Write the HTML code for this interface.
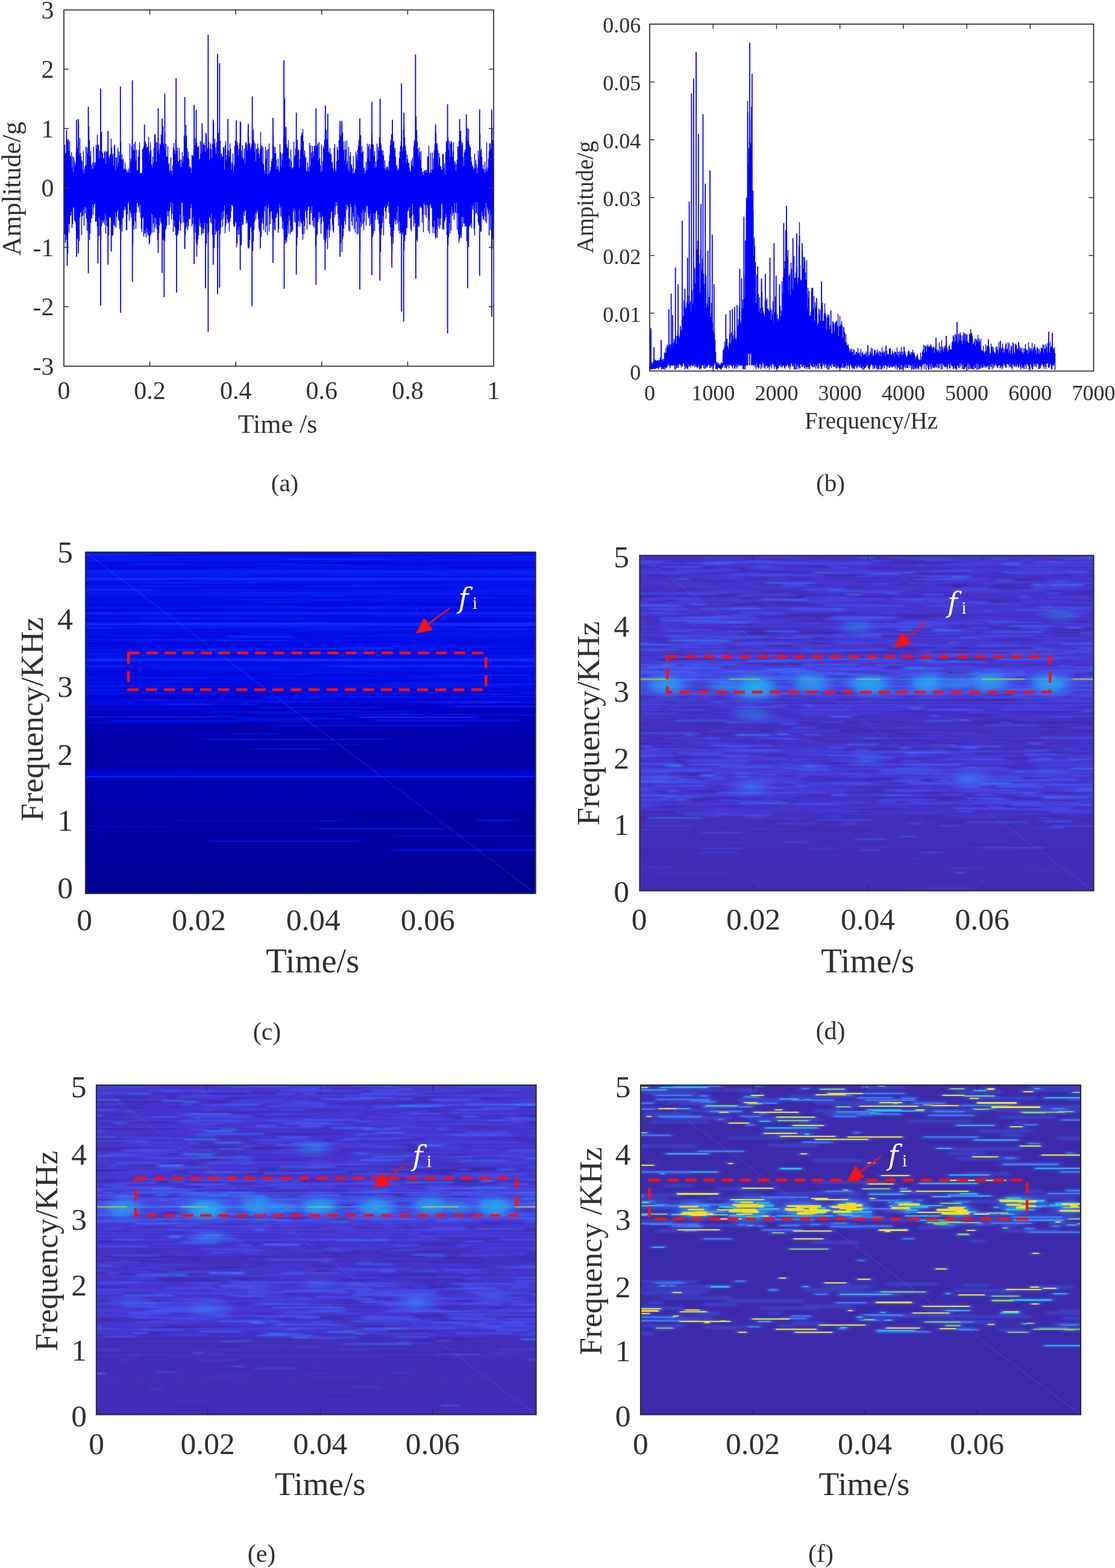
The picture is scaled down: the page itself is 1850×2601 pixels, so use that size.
<!DOCTYPE html>
<html><head><meta charset="utf-8"><title>Figure</title>
<style>html,body{margin:0;padding:0;background:#fff;}svg{display:block;}text{font-family:"Liberation Serif","Times New Roman",serif;}</style></head>
<body>
<svg width="1850" height="2601" viewBox="0 0 1850 2601" font-family="'Liberation Serif', 'Times New Roman', serif">
<defs>
<radialGradient id="bc"><stop offset="0" stop-color="#24b0f0" stop-opacity="1"/><stop offset="0.4" stop-color="#2c98f4" stop-opacity="0.9"/><stop offset="0.7" stop-color="#3a6cf0" stop-opacity="0.45"/><stop offset="1" stop-color="#4050e0" stop-opacity="0"/></radialGradient>
<radialGradient id="bb"><stop offset="0" stop-color="#3c7cf6" stop-opacity="0.9"/><stop offset="0.5" stop-color="#4466f0" stop-opacity="0.5"/><stop offset="1" stop-color="#4a50e8" stop-opacity="0"/></radialGradient>
<radialGradient id="by"><stop offset="0" stop-color="#fbe41a" stop-opacity="1"/><stop offset="0.45" stop-color="#f4d42a" stop-opacity="0.95"/><stop offset="0.7" stop-color="#30b8d8" stop-opacity="0.7"/><stop offset="1" stop-color="#3a70f0" stop-opacity="0"/></radialGradient>
<filter id="sb" x="-5%" y="-5%" width="110%" height="110%"><feGaussianBlur stdDeviation="3 0.9"/></filter>
<filter id="sb2" x="-5%" y="-5%" width="110%" height="110%"><feGaussianBlur stdDeviation="1.2 0.45"/></filter>
<filter id="bl6"><feGaussianBlur stdDeviation="6 3"/></filter>
<filter id="bc4" x="-5%" y="-5%" width="110%" height="110%"><feGaussianBlur stdDeviation="8 0.5"/></filter>
<linearGradient id="gc" x1="0" y1="0" x2="0" y2="1"><stop offset="0.0009" stop-color="#0411ed"/><stop offset="0.0027" stop-color="#030eeb"/><stop offset="0.0044" stop-color="#030de9"/><stop offset="0.0062" stop-color="#030de8"/><stop offset="0.0080" stop-color="#030fec"/><stop offset="0.0097" stop-color="#0512ee"/><stop offset="0.0115" stop-color="#0717f0"/><stop offset="0.0133" stop-color="#0614ef"/><stop offset="0.0150" stop-color="#0511ed"/><stop offset="0.0168" stop-color="#0717f1"/><stop offset="0.0186" stop-color="#0411ed"/><stop offset="0.0203" stop-color="#0716f0"/><stop offset="0.0221" stop-color="#0410ec"/><stop offset="0.0239" stop-color="#0717f1"/><stop offset="0.0256" stop-color="#0411ed"/><stop offset="0.0274" stop-color="#030eeb"/><stop offset="0.0292" stop-color="#030de7"/><stop offset="0.0309" stop-color="#020ce5"/><stop offset="0.0345" stop-color="#020be3"/><stop offset="0.0362" stop-color="#030dea"/><stop offset="0.0380" stop-color="#0410ec"/><stop offset="0.0398" stop-color="#030de7"/><stop offset="0.0415" stop-color="#020ae0"/><stop offset="0.0433" stop-color="#0109dd"/><stop offset="0.0451" stop-color="#030de8"/><stop offset="0.0468" stop-color="#0410ec"/><stop offset="0.0486" stop-color="#0411ed"/><stop offset="0.0504" stop-color="#0512ee"/><stop offset="0.0521" stop-color="#0615ef"/><stop offset="0.0539" stop-color="#091af3"/><stop offset="0.0574" stop-color="#0c21f7"/><stop offset="0.0592" stop-color="#0b1ff6"/><stop offset="0.0610" stop-color="#0d23f9"/><stop offset="0.0627" stop-color="#0716f0"/><stop offset="0.0663" stop-color="#0818f2"/><stop offset="0.0680" stop-color="#0a1df4"/><stop offset="0.0698" stop-color="#0614ef"/><stop offset="0.0716" stop-color="#030eea"/><stop offset="0.0733" stop-color="#0512ed"/><stop offset="0.0751" stop-color="#0d22f8"/><stop offset="0.0769" stop-color="#122dff"/><stop offset="0.0822" stop-color="#0d23f8"/><stop offset="0.0839" stop-color="#0511ed"/><stop offset="0.0857" stop-color="#0512ed"/><stop offset="0.0875" stop-color="#040fec"/><stop offset="0.0910" stop-color="#030dea"/><stop offset="0.0928" stop-color="#020ae1"/><stop offset="0.0945" stop-color="#020be2"/><stop offset="0.0963" stop-color="#030de9"/><stop offset="0.0981" stop-color="#0715f0"/><stop offset="0.0998" stop-color="#0615ef"/><stop offset="0.1016" stop-color="#0410ec"/><stop offset="0.1051" stop-color="#040fec"/><stop offset="0.1069" stop-color="#0716f0"/><stop offset="0.1087" stop-color="#0512ee"/><stop offset="0.1104" stop-color="#0715f0"/><stop offset="0.1122" stop-color="#0511ed"/><stop offset="0.1140" stop-color="#0614ef"/><stop offset="0.1157" stop-color="#0715f0"/><stop offset="0.1175" stop-color="#0717f1"/><stop offset="0.1193" stop-color="#0818f2"/><stop offset="0.1210" stop-color="#0818f1"/><stop offset="0.1228" stop-color="#091af3"/><stop offset="0.1246" stop-color="#0818f1"/><stop offset="0.1263" stop-color="#0716f0"/><stop offset="0.1281" stop-color="#0411ed"/><stop offset="0.1299" stop-color="#030eea"/><stop offset="0.1316" stop-color="#0512ee"/><stop offset="0.1352" stop-color="#0411ed"/><stop offset="0.1369" stop-color="#030ce7"/><stop offset="0.1387" stop-color="#030de9"/><stop offset="0.1405" stop-color="#030eea"/><stop offset="0.1440" stop-color="#030de8"/><stop offset="0.1458" stop-color="#030de9"/><stop offset="0.1475" stop-color="#030eea"/><stop offset="0.1493" stop-color="#0410ec"/><stop offset="0.1511" stop-color="#030ce7"/><stop offset="0.1528" stop-color="#020be3"/><stop offset="0.1546" stop-color="#0107d9"/><stop offset="0.1564" stop-color="#020ae1"/><stop offset="0.1581" stop-color="#030de7"/><stop offset="0.1599" stop-color="#0717f1"/><stop offset="0.1617" stop-color="#0615ef"/><stop offset="0.1652" stop-color="#0410ec"/><stop offset="0.1670" stop-color="#040fec"/><stop offset="0.1687" stop-color="#020be4"/><stop offset="0.1705" stop-color="#020be2"/><stop offset="0.1723" stop-color="#020ae2"/><stop offset="0.1740" stop-color="#030eeb"/><stop offset="0.1758" stop-color="#091af3"/><stop offset="0.1776" stop-color="#0b1ff6"/><stop offset="0.1793" stop-color="#0c21f7"/><stop offset="0.1811" stop-color="#0a1df4"/><stop offset="0.1829" stop-color="#0819f2"/><stop offset="0.1846" stop-color="#030eea"/><stop offset="0.1864" stop-color="#020be3"/><stop offset="0.1882" stop-color="#020adf"/><stop offset="0.1899" stop-color="#020be2"/><stop offset="0.1917" stop-color="#020be3"/><stop offset="0.1935" stop-color="#030ce7"/><stop offset="0.1952" stop-color="#030de7"/><stop offset="0.1970" stop-color="#030de9"/><stop offset="0.1988" stop-color="#030ce7"/><stop offset="0.2005" stop-color="#030eea"/><stop offset="0.2023" stop-color="#020ce5"/><stop offset="0.2041" stop-color="#0511ed"/><stop offset="0.2058" stop-color="#0b1ef6"/><stop offset="0.2076" stop-color="#122dff"/><stop offset="0.2147" stop-color="#112bfe"/><stop offset="0.2164" stop-color="#091af3"/><stop offset="0.2182" stop-color="#0614ef"/><stop offset="0.2200" stop-color="#030eeb"/><stop offset="0.2235" stop-color="#0410ec"/><stop offset="0.2253" stop-color="#030dea"/><stop offset="0.2270" stop-color="#030de7"/><stop offset="0.2288" stop-color="#030de8"/><stop offset="0.2306" stop-color="#030eeb"/><stop offset="0.2341" stop-color="#030de9"/><stop offset="0.2359" stop-color="#030de8"/><stop offset="0.2376" stop-color="#020ce4"/><stop offset="0.2394" stop-color="#020ae1"/><stop offset="0.2412" stop-color="#020ce4"/><stop offset="0.2429" stop-color="#020ce5"/><stop offset="0.2447" stop-color="#030eea"/><stop offset="0.2465" stop-color="#020be2"/><stop offset="0.2482" stop-color="#020ce5"/><stop offset="0.2500" stop-color="#020ae1"/><stop offset="0.2518" stop-color="#0512ee"/><stop offset="0.2535" stop-color="#030eeb"/><stop offset="0.2571" stop-color="#020ce5"/><stop offset="0.2588" stop-color="#030eeb"/><stop offset="0.2606" stop-color="#030de8"/><stop offset="0.2624" stop-color="#020ce6"/><stop offset="0.2641" stop-color="#020ce5"/><stop offset="0.2659" stop-color="#030de7"/><stop offset="0.2677" stop-color="#030de9"/><stop offset="0.2694" stop-color="#020ce4"/><stop offset="0.2712" stop-color="#020ce5"/><stop offset="0.2730" stop-color="#020be2"/><stop offset="0.2765" stop-color="#020ae1"/><stop offset="0.2783" stop-color="#030de9"/><stop offset="0.2818" stop-color="#030eeb"/><stop offset="0.2836" stop-color="#020ce6"/><stop offset="0.2853" stop-color="#030de7"/><stop offset="0.2871" stop-color="#0411ed"/><stop offset="0.2889" stop-color="#030eea"/><stop offset="0.2906" stop-color="#030feb"/><stop offset="0.2924" stop-color="#030de8"/><stop offset="0.2942" stop-color="#030de9"/><stop offset="0.2959" stop-color="#030de7"/><stop offset="0.2977" stop-color="#030ce7"/><stop offset="0.2995" stop-color="#030eeb"/><stop offset="0.3012" stop-color="#030eea"/><stop offset="0.3030" stop-color="#030de8"/><stop offset="0.3048" stop-color="#020be2"/><stop offset="0.3065" stop-color="#020ce6"/><stop offset="0.3083" stop-color="#030eea"/><stop offset="0.3101" stop-color="#0716f0"/><stop offset="0.3118" stop-color="#091bf4"/><stop offset="0.3136" stop-color="#112cfe"/><stop offset="0.3154" stop-color="#122dff"/><stop offset="0.3189" stop-color="#122cff"/><stop offset="0.3207" stop-color="#0615ef"/><stop offset="0.3224" stop-color="#030de8"/><stop offset="0.3242" stop-color="#020be4"/><stop offset="0.3260" stop-color="#020ce4"/><stop offset="0.3277" stop-color="#020ce5"/><stop offset="0.3295" stop-color="#0410ec"/><stop offset="0.3313" stop-color="#091af2"/><stop offset="0.3330" stop-color="#0d23f8"/><stop offset="0.3348" stop-color="#0c20f7"/><stop offset="0.3366" stop-color="#0b1ef5"/><stop offset="0.3383" stop-color="#0513ee"/><stop offset="0.3401" stop-color="#030de8"/><stop offset="0.3419" stop-color="#030eea"/><stop offset="0.3436" stop-color="#040fec"/><stop offset="0.3454" stop-color="#030eea"/><stop offset="0.3472" stop-color="#030de8"/><stop offset="0.3489" stop-color="#020ce5"/><stop offset="0.3525" stop-color="#020be4"/><stop offset="0.3542" stop-color="#020ae1"/><stop offset="0.3560" stop-color="#0209df"/><stop offset="0.3578" stop-color="#020ae1"/><stop offset="0.3595" stop-color="#0209de"/><stop offset="0.3613" stop-color="#020ce5"/><stop offset="0.3631" stop-color="#0209de"/><stop offset="0.3648" stop-color="#020ce6"/><stop offset="0.3666" stop-color="#030de8"/><stop offset="0.3684" stop-color="#0512ee"/><stop offset="0.3701" stop-color="#030eea"/><stop offset="0.3719" stop-color="#030de9"/><stop offset="0.3737" stop-color="#020ce6"/><stop offset="0.3772" stop-color="#020be3"/><stop offset="0.3790" stop-color="#020ce5"/><stop offset="0.3807" stop-color="#020ce4"/><stop offset="0.3825" stop-color="#020ce5"/><stop offset="0.3843" stop-color="#0209de"/><stop offset="0.3860" stop-color="#020ae0"/><stop offset="0.3878" stop-color="#020ae1"/><stop offset="0.3896" stop-color="#030eeb"/><stop offset="0.3913" stop-color="#0410ec"/><stop offset="0.3931" stop-color="#030eeb"/><stop offset="0.3949" stop-color="#030de8"/><stop offset="0.3966" stop-color="#020be2"/><stop offset="0.3984" stop-color="#020be3"/><stop offset="0.4002" stop-color="#0109dd"/><stop offset="0.4055" stop-color="#0209df"/><stop offset="0.4072" stop-color="#020be4"/><stop offset="0.4090" stop-color="#0108dc"/><stop offset="0.4125" stop-color="#0106d6"/><stop offset="0.4143" stop-color="#0107d9"/><stop offset="0.4161" stop-color="#0005d2"/><stop offset="0.4178" stop-color="#0106d6"/><stop offset="0.4196" stop-color="#0106d7"/><stop offset="0.4214" stop-color="#0107d9"/><stop offset="0.4231" stop-color="#0004d1"/><stop offset="0.4249" stop-color="#0004cd"/><stop offset="0.4267" stop-color="#0005d3"/><stop offset="0.4284" stop-color="#0107d7"/><stop offset="0.4302" stop-color="#0107d9"/><stop offset="0.4320" stop-color="#0107d7"/><stop offset="0.4337" stop-color="#0107d9"/><stop offset="0.4355" stop-color="#0109dd"/><stop offset="0.4373" stop-color="#020adf"/><stop offset="0.4390" stop-color="#020ae1"/><stop offset="0.4408" stop-color="#020be2"/><stop offset="0.4426" stop-color="#0108da"/><stop offset="0.4443" stop-color="#0106d6"/><stop offset="0.4461" stop-color="#0004ce"/><stop offset="0.4496" stop-color="#0003cb"/><stop offset="0.4514" stop-color="#0003c8"/><stop offset="0.4532" stop-color="#0003c5"/><stop offset="0.4549" stop-color="#0003c7"/><stop offset="0.4567" stop-color="#0003c6"/><stop offset="0.4585" stop-color="#0003c3"/><stop offset="0.4602" stop-color="#0002c1"/><stop offset="0.4620" stop-color="#0003c4"/><stop offset="0.4638" stop-color="#0003c6"/><stop offset="0.4655" stop-color="#0003c4"/><stop offset="0.4673" stop-color="#0002be"/><stop offset="0.4691" stop-color="#0002bd"/><stop offset="0.4708" stop-color="#0002bf"/><stop offset="0.4726" stop-color="#0003c3"/><stop offset="0.4761" stop-color="#0002be"/><stop offset="0.4779" stop-color="#0001b6"/><stop offset="0.4814" stop-color="#0001b7"/><stop offset="0.4832" stop-color="#0002bf"/><stop offset="0.4850" stop-color="#0003c3"/><stop offset="0.4885" stop-color="#0002c2"/><stop offset="0.4903" stop-color="#0001b8"/><stop offset="0.4920" stop-color="#0002ba"/><stop offset="0.4956" stop-color="#0002c0"/><stop offset="0.4973" stop-color="#0002be"/><stop offset="0.4991" stop-color="#0002bd"/><stop offset="0.5027" stop-color="#0001b8"/><stop offset="0.5062" stop-color="#0001b7"/><stop offset="0.5080" stop-color="#0001b6"/><stop offset="0.5097" stop-color="#0000b0"/><stop offset="0.5115" stop-color="#0000ae"/><stop offset="0.5133" stop-color="#0000b0"/><stop offset="0.5150" stop-color="#0001b5"/><stop offset="0.5186" stop-color="#0001b2"/><stop offset="0.5203" stop-color="#0001b1"/><stop offset="0.5221" stop-color="#0001b2"/><stop offset="0.5256" stop-color="#0000b0"/><stop offset="0.5274" stop-color="#0000aa"/><stop offset="0.5292" stop-color="#0000ac"/><stop offset="0.5309" stop-color="#0001b2"/><stop offset="0.5327" stop-color="#0001b1"/><stop offset="0.5345" stop-color="#0000b0"/><stop offset="0.5362" stop-color="#0000ad"/><stop offset="0.5380" stop-color="#0000af"/><stop offset="0.5398" stop-color="#0000ab"/><stop offset="0.5415" stop-color="#0000a7"/><stop offset="0.5468" stop-color="#0000aa"/><stop offset="0.5486" stop-color="#0000ac"/><stop offset="0.5504" stop-color="#0000ad"/><stop offset="0.5521" stop-color="#0000ac"/><stop offset="0.5539" stop-color="#0000a9"/><stop offset="0.5557" stop-color="#0000ab"/><stop offset="0.5574" stop-color="#0000ad"/><stop offset="0.5592" stop-color="#0000ae"/><stop offset="0.5610" stop-color="#0000af"/><stop offset="0.5627" stop-color="#0000ad"/><stop offset="0.5645" stop-color="#0000af"/><stop offset="0.5663" stop-color="#0000b0"/><stop offset="0.5680" stop-color="#0000a9"/><stop offset="0.5698" stop-color="#0000a5"/><stop offset="0.5716" stop-color="#0000a3"/><stop offset="0.5733" stop-color="#0000a7"/><stop offset="0.5751" stop-color="#0000a8"/><stop offset="0.5769" stop-color="#0000aa"/><stop offset="0.5786" stop-color="#0000ab"/><stop offset="0.5822" stop-color="#0000a6"/><stop offset="0.5839" stop-color="#0000a7"/><stop offset="0.5857" stop-color="#0000ad"/><stop offset="0.5875" stop-color="#0000aa"/><stop offset="0.5892" stop-color="#0000a9"/><stop offset="0.5910" stop-color="#0000a5"/><stop offset="0.5963" stop-color="#0000a2"/><stop offset="0.5981" stop-color="#0000a4"/><stop offset="0.5998" stop-color="#0000a8"/><stop offset="0.6016" stop-color="#0000ac"/><stop offset="0.6034" stop-color="#0000b0"/><stop offset="0.6051" stop-color="#0000ad"/><stop offset="0.6069" stop-color="#0000ac"/><stop offset="0.6087" stop-color="#0000ad"/><stop offset="0.6104" stop-color="#0000a9"/><stop offset="0.6122" stop-color="#0000a8"/><stop offset="0.6140" stop-color="#0000a7"/><stop offset="0.6157" stop-color="#0000a8"/><stop offset="0.6193" stop-color="#0000a9"/><stop offset="0.6210" stop-color="#0000ae"/><stop offset="0.6246" stop-color="#0000aa"/><stop offset="0.6263" stop-color="#0000a8"/><stop offset="0.6281" stop-color="#0000ab"/><stop offset="0.6299" stop-color="#0000ac"/><stop offset="0.6316" stop-color="#0000ae"/><stop offset="0.6334" stop-color="#0001b1"/><stop offset="0.6352" stop-color="#0001b7"/><stop offset="0.6369" stop-color="#0002c2"/><stop offset="0.6387" stop-color="#0003ca"/><stop offset="0.6405" stop-color="#0004d1"/><stop offset="0.6422" stop-color="#0004cf"/><stop offset="0.6440" stop-color="#0106d6"/><stop offset="0.6458" stop-color="#0107d8"/><stop offset="0.6475" stop-color="#0004d1"/><stop offset="0.6493" stop-color="#0003c6"/><stop offset="0.6511" stop-color="#0002c1"/><stop offset="0.6528" stop-color="#0003c6"/><stop offset="0.6546" stop-color="#0107d8"/><stop offset="0.6564" stop-color="#0818f1"/><stop offset="0.6581" stop-color="#0d22f8"/><stop offset="0.6599" stop-color="#020be4"/><stop offset="0.6617" stop-color="#0003c8"/><stop offset="0.6634" stop-color="#0001b4"/><stop offset="0.6652" stop-color="#0001b3"/><stop offset="0.6670" stop-color="#0000af"/><stop offset="0.6687" stop-color="#0001b5"/><stop offset="0.6705" stop-color="#0000ac"/><stop offset="0.6723" stop-color="#0000b0"/><stop offset="0.6740" stop-color="#0000ab"/><stop offset="0.6758" stop-color="#0000af"/><stop offset="0.6776" stop-color="#0000ac"/><stop offset="0.6793" stop-color="#0000af"/><stop offset="0.6811" stop-color="#0000b0"/><stop offset="0.6829" stop-color="#0000a9"/><stop offset="0.6864" stop-color="#0000ab"/><stop offset="0.6882" stop-color="#0001b2"/><stop offset="0.6899" stop-color="#0001b3"/><stop offset="0.6935" stop-color="#0001b2"/><stop offset="0.6952" stop-color="#0001b1"/><stop offset="0.6970" stop-color="#0000ae"/><stop offset="0.6988" stop-color="#0001b2"/><stop offset="0.7023" stop-color="#0001b7"/><stop offset="0.7041" stop-color="#0001b2"/><stop offset="0.7058" stop-color="#0001b9"/><stop offset="0.7076" stop-color="#0001b3"/><stop offset="0.7094" stop-color="#0001b4"/><stop offset="0.7111" stop-color="#0001b1"/><stop offset="0.7129" stop-color="#0001b2"/><stop offset="0.7147" stop-color="#0001b1"/><stop offset="0.7164" stop-color="#0000ae"/><stop offset="0.7200" stop-color="#0000ac"/><stop offset="0.7217" stop-color="#0000b0"/><stop offset="0.7253" stop-color="#0000ac"/><stop offset="0.7270" stop-color="#0000a9"/><stop offset="0.7306" stop-color="#0000aa"/><stop offset="0.7323" stop-color="#0000ad"/><stop offset="0.7341" stop-color="#0000ae"/><stop offset="0.7359" stop-color="#0001b2"/><stop offset="0.7376" stop-color="#0000ac"/><stop offset="0.7394" stop-color="#0000aa"/><stop offset="0.7429" stop-color="#0000a8"/><stop offset="0.7447" stop-color="#0000a9"/><stop offset="0.7465" stop-color="#0000a7"/><stop offset="0.7482" stop-color="#0000a9"/><stop offset="0.7500" stop-color="#0000a8"/><stop offset="0.7518" stop-color="#0000a5"/><stop offset="0.7535" stop-color="#0000a6"/><stop offset="0.7553" stop-color="#0000a3"/><stop offset="0.7571" stop-color="#0000a2"/><stop offset="0.7588" stop-color="#0000a4"/><stop offset="0.7606" stop-color="#0000a5"/><stop offset="0.7624" stop-color="#0000a3"/><stop offset="0.7641" stop-color="#0000a2"/><stop offset="0.7677" stop-color="#00009f"/><stop offset="0.7694" stop-color="#00009d"/><stop offset="0.7712" stop-color="#0000a0"/><stop offset="0.7730" stop-color="#0000a8"/><stop offset="0.7747" stop-color="#0000ab"/><stop offset="0.7765" stop-color="#0000a9"/><stop offset="0.7800" stop-color="#0000a4"/><stop offset="0.7836" stop-color="#0000a6"/><stop offset="0.7853" stop-color="#0000a9"/><stop offset="0.7889" stop-color="#0000a2"/><stop offset="0.7906" stop-color="#0000a0"/><stop offset="0.7924" stop-color="#00009d"/><stop offset="0.7942" stop-color="#0000a2"/><stop offset="0.7959" stop-color="#0000a1"/><stop offset="0.7977" stop-color="#0000a5"/><stop offset="0.7995" stop-color="#0000a1"/><stop offset="0.8012" stop-color="#0000a6"/><stop offset="0.8030" stop-color="#0000a3"/><stop offset="0.8048" stop-color="#0000a5"/><stop offset="0.8065" stop-color="#0000a6"/><stop offset="0.8083" stop-color="#0000a9"/><stop offset="0.8101" stop-color="#0000a7"/><stop offset="0.8118" stop-color="#0000a3"/><stop offset="0.8136" stop-color="#0000a4"/><stop offset="0.8154" stop-color="#0000a7"/><stop offset="0.8171" stop-color="#0000a2"/><stop offset="0.8189" stop-color="#0000a1"/><stop offset="0.8207" stop-color="#00009b"/><stop offset="0.8224" stop-color="#0000a2"/><stop offset="0.8260" stop-color="#0000a5"/><stop offset="0.8277" stop-color="#0000a2"/><stop offset="0.8295" stop-color="#0000a3"/><stop offset="0.8313" stop-color="#0000a1"/><stop offset="0.8330" stop-color="#0000a3"/><stop offset="0.8348" stop-color="#0000a2"/><stop offset="0.8366" stop-color="#0000a0"/><stop offset="0.8401" stop-color="#0000a3"/><stop offset="0.8419" stop-color="#0000a9"/><stop offset="0.8436" stop-color="#0000a7"/><stop offset="0.8454" stop-color="#0000a2"/><stop offset="0.8489" stop-color="#0000a4"/><stop offset="0.8507" stop-color="#0000a7"/><stop offset="0.8525" stop-color="#0000a8"/><stop offset="0.8542" stop-color="#0000a3"/><stop offset="0.8578" stop-color="#0000a2"/><stop offset="0.8595" stop-color="#0000a0"/><stop offset="0.8613" stop-color="#00009b"/><stop offset="0.8631" stop-color="#000097"/><stop offset="0.8648" stop-color="#00009a"/><stop offset="0.8666" stop-color="#00009e"/><stop offset="0.8684" stop-color="#00009f"/><stop offset="0.8701" stop-color="#00009e"/><stop offset="0.8719" stop-color="#00009d"/><stop offset="0.8754" stop-color="#00009e"/><stop offset="0.8772" stop-color="#00009f"/><stop offset="0.8807" stop-color="#00009e"/><stop offset="0.8825" stop-color="#00009c"/><stop offset="0.8843" stop-color="#00009d"/><stop offset="0.8860" stop-color="#00009c"/><stop offset="0.8878" stop-color="#0000a0"/><stop offset="0.8896" stop-color="#00009e"/><stop offset="0.8913" stop-color="#00009f"/><stop offset="0.8931" stop-color="#00009a"/><stop offset="0.8949" stop-color="#000099"/><stop offset="0.8984" stop-color="#00009a"/><stop offset="0.9002" stop-color="#000099"/><stop offset="0.9019" stop-color="#000097"/><stop offset="0.9037" stop-color="#000096"/><stop offset="0.9055" stop-color="#000098"/><stop offset="0.9072" stop-color="#00009b"/><stop offset="0.9090" stop-color="#00009d"/><stop offset="0.9108" stop-color="#00009c"/><stop offset="0.9125" stop-color="#000097"/><stop offset="0.9143" stop-color="#000094"/><stop offset="0.9161" stop-color="#000092"/><stop offset="0.9178" stop-color="#000093"/><stop offset="0.9196" stop-color="#000094"/><stop offset="0.9214" stop-color="#000098"/><stop offset="0.9231" stop-color="#000099"/><stop offset="0.9249" stop-color="#000096"/><stop offset="0.9267" stop-color="#000095"/><stop offset="0.9284" stop-color="#000093"/><stop offset="0.9302" stop-color="#000094"/><stop offset="0.9337" stop-color="#00009b"/><stop offset="0.9355" stop-color="#000097"/><stop offset="0.9373" stop-color="#00009a"/><stop offset="0.9390" stop-color="#000095"/><stop offset="0.9408" stop-color="#000099"/><stop offset="0.9426" stop-color="#000095"/><stop offset="0.9443" stop-color="#000097"/><stop offset="0.9461" stop-color="#000094"/><stop offset="0.9496" stop-color="#000093"/><stop offset="0.9514" stop-color="#000094"/><stop offset="0.9532" stop-color="#000096"/><stop offset="0.9549" stop-color="#00009a"/><stop offset="0.9585" stop-color="#000094"/><stop offset="0.9602" stop-color="#000092"/><stop offset="0.9620" stop-color="#00008e"/><stop offset="0.9638" stop-color="#000091"/><stop offset="0.9655" stop-color="#000092"/><stop offset="0.9673" stop-color="#000093"/><stop offset="0.9691" stop-color="#000092"/><stop offset="0.9708" stop-color="#000091"/><stop offset="0.9726" stop-color="#000092"/><stop offset="0.9744" stop-color="#000096"/><stop offset="0.9779" stop-color="#000098"/><stop offset="0.9814" stop-color="#000096"/><stop offset="0.9832" stop-color="#000095"/><stop offset="0.9850" stop-color="#000091"/><stop offset="0.9867" stop-color="#000092"/><stop offset="0.9885" stop-color="#000093"/><stop offset="0.9903" stop-color="#000097"/><stop offset="0.9920" stop-color="#000096"/><stop offset="0.9938" stop-color="#000093"/><stop offset="0.9956" stop-color="#000091"/><stop offset="0.9973" stop-color="#00008f"/><stop offset="0.9991" stop-color="#00008e"/></linearGradient>
<clipPath id="cc"><rect x="142" y="916" width="746.5" height="566"/></clipPath>
<linearGradient id="gd" x1="0" y1="0" x2="0" y2="1"><stop offset="0.0009" stop-color="#4432c6"/><stop offset="0.0027" stop-color="#4536cf"/><stop offset="0.0045" stop-color="#463ad6"/><stop offset="0.0063" stop-color="#4534cb"/><stop offset="0.0117" stop-color="#4432c6"/><stop offset="0.0135" stop-color="#4433c9"/><stop offset="0.0153" stop-color="#4534ca"/><stop offset="0.0171" stop-color="#4535cd"/><stop offset="0.0189" stop-color="#4433c7"/><stop offset="0.0207" stop-color="#4536cf"/><stop offset="0.0225" stop-color="#4433c9"/><stop offset="0.0279" stop-color="#4432c6"/><stop offset="0.0297" stop-color="#4535ce"/><stop offset="0.0315" stop-color="#4433c9"/><stop offset="0.0333" stop-color="#4433c7"/><stop offset="0.0351" stop-color="#4433c9"/><stop offset="0.0369" stop-color="#4432c6"/><stop offset="0.0387" stop-color="#4639d5"/><stop offset="0.0405" stop-color="#4535cc"/><stop offset="0.0423" stop-color="#4432c7"/><stop offset="0.0441" stop-color="#463ad6"/><stop offset="0.0459" stop-color="#463bd7"/><stop offset="0.0477" stop-color="#4535cd"/><stop offset="0.0495" stop-color="#4636d0"/><stop offset="0.0513" stop-color="#463ad6"/><stop offset="0.0531" stop-color="#4536ce"/><stop offset="0.0549" stop-color="#4534cb"/><stop offset="0.0567" stop-color="#4433c9"/><stop offset="0.0585" stop-color="#4534cb"/><stop offset="0.0603" stop-color="#4432c7"/><stop offset="0.0621" stop-color="#4534cc"/><stop offset="0.0638" stop-color="#4432c7"/><stop offset="0.0656" stop-color="#4432c6"/><stop offset="0.0674" stop-color="#4536cf"/><stop offset="0.0692" stop-color="#4434ca"/><stop offset="0.0710" stop-color="#4534cb"/><stop offset="0.0728" stop-color="#4433c7"/><stop offset="0.0746" stop-color="#4433c8"/><stop offset="0.0764" stop-color="#4535cd"/><stop offset="0.0782" stop-color="#4332c5"/><stop offset="0.0800" stop-color="#4637d1"/><stop offset="0.0818" stop-color="#4535ce"/><stop offset="0.0836" stop-color="#4639d5"/><stop offset="0.0854" stop-color="#4536cf"/><stop offset="0.0872" stop-color="#4433c8"/><stop offset="0.0890" stop-color="#4332c5"/><stop offset="0.0908" stop-color="#4433c8"/><stop offset="0.0926" stop-color="#4638d3"/><stop offset="0.0944" stop-color="#4535cd"/><stop offset="0.0962" stop-color="#4534ca"/><stop offset="0.0980" stop-color="#4535cd"/><stop offset="0.0998" stop-color="#4432c5"/><stop offset="0.1016" stop-color="#4433c8"/><stop offset="0.1034" stop-color="#4534cc"/><stop offset="0.1052" stop-color="#4534cb"/><stop offset="0.1070" stop-color="#4535cd"/><stop offset="0.1088" stop-color="#4331c3"/><stop offset="0.1106" stop-color="#4432c7"/><stop offset="0.1124" stop-color="#4432c5"/><stop offset="0.1142" stop-color="#4432c6"/><stop offset="0.1160" stop-color="#4432c5"/><stop offset="0.1178" stop-color="#4432c7"/><stop offset="0.1196" stop-color="#4332c5"/><stop offset="0.1214" stop-color="#4432c6"/><stop offset="0.1250" stop-color="#4331c3"/><stop offset="0.1268" stop-color="#4433c7"/><stop offset="0.1286" stop-color="#4636cf"/><stop offset="0.1304" stop-color="#4432c6"/><stop offset="0.1340" stop-color="#4637d1"/><stop offset="0.1358" stop-color="#463cd8"/><stop offset="0.1376" stop-color="#4331c4"/><stop offset="0.1394" stop-color="#4433c8"/><stop offset="0.1412" stop-color="#4535cd"/><stop offset="0.1430" stop-color="#4432c5"/><stop offset="0.1448" stop-color="#4534cb"/><stop offset="0.1466" stop-color="#4332c5"/><stop offset="0.1484" stop-color="#4331c3"/><stop offset="0.1502" stop-color="#4433c8"/><stop offset="0.1520" stop-color="#4637d1"/><stop offset="0.1538" stop-color="#4432c5"/><stop offset="0.1556" stop-color="#4637d1"/><stop offset="0.1574" stop-color="#4536cf"/><stop offset="0.1592" stop-color="#4534cb"/><stop offset="0.1610" stop-color="#4636d0"/><stop offset="0.1628" stop-color="#473fdc"/><stop offset="0.1646" stop-color="#4332c5"/><stop offset="0.1664" stop-color="#4639d4"/><stop offset="0.1682" stop-color="#4331c4"/><stop offset="0.1700" stop-color="#4639d4"/><stop offset="0.1718" stop-color="#4637d2"/><stop offset="0.1736" stop-color="#4432c5"/><stop offset="0.1754" stop-color="#4432c6"/><stop offset="0.1772" stop-color="#4332c5"/><stop offset="0.1790" stop-color="#4331c4"/><stop offset="0.1808" stop-color="#4434ca"/><stop offset="0.1826" stop-color="#4432c5"/><stop offset="0.1844" stop-color="#4433c8"/><stop offset="0.1862" stop-color="#4331c4"/><stop offset="0.1879" stop-color="#4432c5"/><stop offset="0.1897" stop-color="#4536cf"/><stop offset="0.1915" stop-color="#4636d1"/><stop offset="0.1933" stop-color="#4433c8"/><stop offset="0.1951" stop-color="#4534cb"/><stop offset="0.1969" stop-color="#4636d0"/><stop offset="0.1987" stop-color="#4331c4"/><stop offset="0.2005" stop-color="#4637d2"/><stop offset="0.2023" stop-color="#463bd7"/><stop offset="0.2041" stop-color="#4638d4"/><stop offset="0.2059" stop-color="#4432c6"/><stop offset="0.2077" stop-color="#4637d2"/><stop offset="0.2095" stop-color="#4331c4"/><stop offset="0.2113" stop-color="#4742df"/><stop offset="0.2131" stop-color="#4637d1"/><stop offset="0.2149" stop-color="#4536cf"/><stop offset="0.2167" stop-color="#4331c3"/><stop offset="0.2185" stop-color="#4332c5"/><stop offset="0.2203" stop-color="#4534cc"/><stop offset="0.2221" stop-color="#4433c8"/><stop offset="0.2239" stop-color="#4331c4"/><stop offset="0.2257" stop-color="#4535cd"/><stop offset="0.2275" stop-color="#4534cc"/><stop offset="0.2293" stop-color="#4534ca"/><stop offset="0.2311" stop-color="#4432c7"/><stop offset="0.2329" stop-color="#4331c3"/><stop offset="0.2347" stop-color="#4637d2"/><stop offset="0.2365" stop-color="#4740de"/><stop offset="0.2383" stop-color="#4433c8"/><stop offset="0.2401" stop-color="#4331c4"/><stop offset="0.2419" stop-color="#4331c3"/><stop offset="0.2437" stop-color="#4535cc"/><stop offset="0.2455" stop-color="#4637d2"/><stop offset="0.2473" stop-color="#4639d4"/><stop offset="0.2491" stop-color="#4637d2"/><stop offset="0.2509" stop-color="#4534ca"/><stop offset="0.2527" stop-color="#4434ca"/><stop offset="0.2545" stop-color="#4536cf"/><stop offset="0.2563" stop-color="#4535ce"/><stop offset="0.2581" stop-color="#4637d2"/><stop offset="0.2599" stop-color="#4637d3"/><stop offset="0.2617" stop-color="#4433c9"/><stop offset="0.2635" stop-color="#4331c4"/><stop offset="0.2671" stop-color="#463dd9"/><stop offset="0.2689" stop-color="#463bd7"/><stop offset="0.2707" stop-color="#4331c4"/><stop offset="0.2725" stop-color="#4637d1"/><stop offset="0.2743" stop-color="#4639d5"/><stop offset="0.2761" stop-color="#4331c3"/><stop offset="0.2779" stop-color="#4638d3"/><stop offset="0.2797" stop-color="#4637d2"/><stop offset="0.2815" stop-color="#4744e2"/><stop offset="0.2833" stop-color="#4742e0"/><stop offset="0.2851" stop-color="#484ff0"/><stop offset="0.2869" stop-color="#4638d4"/><stop offset="0.2887" stop-color="#4433c8"/><stop offset="0.2905" stop-color="#4535ce"/><stop offset="0.2923" stop-color="#4637d1"/><stop offset="0.2941" stop-color="#4637d2"/><stop offset="0.2959" stop-color="#4535cd"/><stop offset="0.2977" stop-color="#4433c8"/><stop offset="0.2995" stop-color="#463ad6"/><stop offset="0.3013" stop-color="#463eda"/><stop offset="0.3031" stop-color="#4637d2"/><stop offset="0.3049" stop-color="#4535ce"/><stop offset="0.3067" stop-color="#4534cb"/><stop offset="0.3085" stop-color="#4433c9"/><stop offset="0.3103" stop-color="#473edb"/><stop offset="0.3121" stop-color="#463bd8"/><stop offset="0.3138" stop-color="#4637d2"/><stop offset="0.3156" stop-color="#4636d0"/><stop offset="0.3192" stop-color="#4638d4"/><stop offset="0.3210" stop-color="#4639d5"/><stop offset="0.3228" stop-color="#4535ce"/><stop offset="0.3246" stop-color="#4638d3"/><stop offset="0.3264" stop-color="#463ad6"/><stop offset="0.3282" stop-color="#463cd9"/><stop offset="0.3300" stop-color="#463ad6"/><stop offset="0.3318" stop-color="#4637d2"/><stop offset="0.3336" stop-color="#4745e4"/><stop offset="0.3354" stop-color="#4740de"/><stop offset="0.3372" stop-color="#473fdc"/><stop offset="0.3390" stop-color="#463bd7"/><stop offset="0.3426" stop-color="#4749e9"/><stop offset="0.3444" stop-color="#484ced"/><stop offset="0.3462" stop-color="#473fdc"/><stop offset="0.3480" stop-color="#4748e7"/><stop offset="0.3498" stop-color="#4746e5"/><stop offset="0.3516" stop-color="#4747e6"/><stop offset="0.3534" stop-color="#474beb"/><stop offset="0.3552" stop-color="#473fdc"/><stop offset="0.3570" stop-color="#4740dd"/><stop offset="0.3588" stop-color="#4748e7"/><stop offset="0.3624" stop-color="#4747e7"/><stop offset="0.3642" stop-color="#474aea"/><stop offset="0.3660" stop-color="#484ced"/><stop offset="0.3678" stop-color="#484eef"/><stop offset="0.3696" stop-color="#4748e7"/><stop offset="0.3714" stop-color="#484cec"/><stop offset="0.3732" stop-color="#474aea"/><stop offset="0.3750" stop-color="#4744e2"/><stop offset="0.3768" stop-color="#4740de"/><stop offset="0.3786" stop-color="#4742e0"/><stop offset="0.3804" stop-color="#4740dd"/><stop offset="0.3822" stop-color="#463eda"/><stop offset="0.3840" stop-color="#473edb"/><stop offset="0.3858" stop-color="#474beb"/><stop offset="0.3876" stop-color="#4741df"/><stop offset="0.3894" stop-color="#484eef"/><stop offset="0.3912" stop-color="#4853f4"/><stop offset="0.3930" stop-color="#463dd9"/><stop offset="0.3948" stop-color="#4639d5"/><stop offset="0.3984" stop-color="#463cd8"/><stop offset="0.4002" stop-color="#4636d1"/><stop offset="0.4020" stop-color="#474beb"/><stop offset="0.4038" stop-color="#4749e9"/><stop offset="0.4056" stop-color="#463cd8"/><stop offset="0.4074" stop-color="#4744e2"/><stop offset="0.4092" stop-color="#4748e7"/><stop offset="0.4110" stop-color="#484ff0"/><stop offset="0.4128" stop-color="#4749e9"/><stop offset="0.4146" stop-color="#4434ca"/><stop offset="0.4164" stop-color="#4748e8"/><stop offset="0.4182" stop-color="#473fdc"/><stop offset="0.4200" stop-color="#4639d4"/><stop offset="0.4218" stop-color="#4636d0"/><stop offset="0.4236" stop-color="#4743e0"/><stop offset="0.4254" stop-color="#473edb"/><stop offset="0.4272" stop-color="#4434ca"/><stop offset="0.4290" stop-color="#4330c0"/><stop offset="0.4308" stop-color="#4330c1"/><stop offset="0.4326" stop-color="#4535cc"/><stop offset="0.4344" stop-color="#4331c4"/><stop offset="0.4362" stop-color="#4742df"/><stop offset="0.4379" stop-color="#463bd7"/><stop offset="0.4397" stop-color="#4432c6"/><stop offset="0.4415" stop-color="#4433c7"/><stop offset="0.4433" stop-color="#4433c8"/><stop offset="0.4451" stop-color="#4745e4"/><stop offset="0.4469" stop-color="#4637d2"/><stop offset="0.4487" stop-color="#4331c3"/><stop offset="0.4505" stop-color="#463ad6"/><stop offset="0.4541" stop-color="#463bd7"/><stop offset="0.4559" stop-color="#4433c8"/><stop offset="0.4577" stop-color="#4331c3"/><stop offset="0.4595" stop-color="#4743e0"/><stop offset="0.4613" stop-color="#4742e0"/><stop offset="0.4631" stop-color="#4330c1"/><stop offset="0.4649" stop-color="#422fbf"/><stop offset="0.4667" stop-color="#4639d5"/><stop offset="0.4685" stop-color="#4637d2"/><stop offset="0.4703" stop-color="#4330c0"/><stop offset="0.4721" stop-color="#4433c9"/><stop offset="0.4739" stop-color="#4330c1"/><stop offset="0.4757" stop-color="#4432c6"/><stop offset="0.4775" stop-color="#4331c3"/><stop offset="0.4793" stop-color="#4534ca"/><stop offset="0.4811" stop-color="#422fbe"/><stop offset="0.4829" stop-color="#4535cd"/><stop offset="0.4847" stop-color="#4432c5"/><stop offset="0.4865" stop-color="#4331c3"/><stop offset="0.4883" stop-color="#422fbf"/><stop offset="0.4901" stop-color="#4637d1"/><stop offset="0.4919" stop-color="#4637d2"/><stop offset="0.4937" stop-color="#4330c1"/><stop offset="0.4955" stop-color="#4331c4"/><stop offset="0.4973" stop-color="#4331c3"/><stop offset="0.4991" stop-color="#422fbf"/><stop offset="0.5009" stop-color="#4330c1"/><stop offset="0.5027" stop-color="#422fbf"/><stop offset="0.5045" stop-color="#4331c4"/><stop offset="0.5063" stop-color="#4432c6"/><stop offset="0.5081" stop-color="#4330c0"/><stop offset="0.5099" stop-color="#4331c3"/><stop offset="0.5117" stop-color="#4330c1"/><stop offset="0.5135" stop-color="#4433c9"/><stop offset="0.5153" stop-color="#4331c2"/><stop offset="0.5171" stop-color="#4433c9"/><stop offset="0.5189" stop-color="#422fbd"/><stop offset="0.5225" stop-color="#422fbe"/><stop offset="0.5261" stop-color="#422fbf"/><stop offset="0.5297" stop-color="#4432c5"/><stop offset="0.5315" stop-color="#422fbe"/><stop offset="0.5333" stop-color="#4330c2"/><stop offset="0.5351" stop-color="#4534ca"/><stop offset="0.5369" stop-color="#4433c8"/><stop offset="0.5387" stop-color="#4330c0"/><stop offset="0.5405" stop-color="#422fbe"/><stop offset="0.5423" stop-color="#4331c3"/><stop offset="0.5441" stop-color="#4330c1"/><stop offset="0.5459" stop-color="#463ad6"/><stop offset="0.5477" stop-color="#4534cc"/><stop offset="0.5495" stop-color="#4331c2"/><stop offset="0.5513" stop-color="#422ebc"/><stop offset="0.5531" stop-color="#422fbd"/><stop offset="0.5549" stop-color="#4433c7"/><stop offset="0.5567" stop-color="#4636d1"/><stop offset="0.5585" stop-color="#4330c2"/><stop offset="0.5603" stop-color="#4330c0"/><stop offset="0.5621" stop-color="#4433c8"/><stop offset="0.5638" stop-color="#4331c4"/><stop offset="0.5656" stop-color="#4330c2"/><stop offset="0.5674" stop-color="#4638d3"/><stop offset="0.5692" stop-color="#4535cd"/><stop offset="0.5710" stop-color="#4434ca"/><stop offset="0.5728" stop-color="#4432c5"/><stop offset="0.5746" stop-color="#4330c0"/><stop offset="0.5764" stop-color="#4332c5"/><stop offset="0.5782" stop-color="#4432c6"/><stop offset="0.5800" stop-color="#4331c4"/><stop offset="0.5836" stop-color="#4639d4"/><stop offset="0.5854" stop-color="#473fdb"/><stop offset="0.5872" stop-color="#4535cc"/><stop offset="0.5890" stop-color="#463bd7"/><stop offset="0.5908" stop-color="#4434ca"/><stop offset="0.5926" stop-color="#4331c4"/><stop offset="0.5944" stop-color="#4432c6"/><stop offset="0.5962" stop-color="#4637d2"/><stop offset="0.5980" stop-color="#463eda"/><stop offset="0.5998" stop-color="#4638d3"/><stop offset="0.6016" stop-color="#4535cd"/><stop offset="0.6034" stop-color="#4331c4"/><stop offset="0.6052" stop-color="#4432c6"/><stop offset="0.6070" stop-color="#4638d3"/><stop offset="0.6088" stop-color="#463ad5"/><stop offset="0.6106" stop-color="#4432c5"/><stop offset="0.6124" stop-color="#4535cd"/><stop offset="0.6142" stop-color="#4638d3"/><stop offset="0.6160" stop-color="#4332c5"/><stop offset="0.6178" stop-color="#4535ce"/><stop offset="0.6196" stop-color="#4638d3"/><stop offset="0.6214" stop-color="#4637d2"/><stop offset="0.6232" stop-color="#4748e7"/><stop offset="0.6250" stop-color="#463bd8"/><stop offset="0.6268" stop-color="#463ad6"/><stop offset="0.6286" stop-color="#4433c8"/><stop offset="0.6304" stop-color="#4535ce"/><stop offset="0.6322" stop-color="#4639d5"/><stop offset="0.6340" stop-color="#4535ce"/><stop offset="0.6358" stop-color="#473edb"/><stop offset="0.6376" stop-color="#4743e1"/><stop offset="0.6394" stop-color="#4433c8"/><stop offset="0.6412" stop-color="#473fdc"/><stop offset="0.6430" stop-color="#4749e8"/><stop offset="0.6448" stop-color="#4748e7"/><stop offset="0.6466" stop-color="#4433c8"/><stop offset="0.6484" stop-color="#4748e8"/><stop offset="0.6502" stop-color="#463bd7"/><stop offset="0.6520" stop-color="#4535cd"/><stop offset="0.6538" stop-color="#4637d1"/><stop offset="0.6556" stop-color="#4636d0"/><stop offset="0.6574" stop-color="#4433c7"/><stop offset="0.6592" stop-color="#4639d4"/><stop offset="0.6610" stop-color="#4637d2"/><stop offset="0.6628" stop-color="#4432c6"/><stop offset="0.6646" stop-color="#4432c7"/><stop offset="0.6664" stop-color="#4536cf"/><stop offset="0.6682" stop-color="#4433c9"/><stop offset="0.6700" stop-color="#4433c7"/><stop offset="0.6718" stop-color="#4433c8"/><stop offset="0.6736" stop-color="#4535cd"/><stop offset="0.6754" stop-color="#4638d3"/><stop offset="0.6772" stop-color="#4332c5"/><stop offset="0.6790" stop-color="#4637d1"/><stop offset="0.6826" stop-color="#463ad6"/><stop offset="0.6844" stop-color="#4535ce"/><stop offset="0.6862" stop-color="#4638d3"/><stop offset="0.6879" stop-color="#4332c5"/><stop offset="0.6897" stop-color="#4637d2"/><stop offset="0.6915" stop-color="#4434ca"/><stop offset="0.6933" stop-color="#4432c7"/><stop offset="0.6951" stop-color="#4535cc"/><stop offset="0.6969" stop-color="#4434c9"/><stop offset="0.6987" stop-color="#463bd6"/><stop offset="0.7005" stop-color="#4434ca"/><stop offset="0.7023" stop-color="#4638d3"/><stop offset="0.7041" stop-color="#4434ca"/><stop offset="0.7059" stop-color="#463ad6"/><stop offset="0.7077" stop-color="#4330c2"/><stop offset="0.7113" stop-color="#4330c1"/><stop offset="0.7131" stop-color="#4330c2"/><stop offset="0.7149" stop-color="#463ad6"/><stop offset="0.7167" stop-color="#463ad5"/><stop offset="0.7185" stop-color="#4433c9"/><stop offset="0.7221" stop-color="#4331c3"/><stop offset="0.7239" stop-color="#4330c1"/><stop offset="0.7257" stop-color="#4331c2"/><stop offset="0.7275" stop-color="#4434ca"/><stop offset="0.7293" stop-color="#4433c8"/><stop offset="0.7311" stop-color="#4330c1"/><stop offset="0.7329" stop-color="#4331c3"/><stop offset="0.7347" stop-color="#4432c5"/><stop offset="0.7365" stop-color="#4331c3"/><stop offset="0.7383" stop-color="#4433c7"/><stop offset="0.7401" stop-color="#463bd7"/><stop offset="0.7419" stop-color="#463ad5"/><stop offset="0.7437" stop-color="#4637d1"/><stop offset="0.7455" stop-color="#4330c1"/><stop offset="0.7491" stop-color="#4331c3"/><stop offset="0.7509" stop-color="#4330c2"/><stop offset="0.7527" stop-color="#4432c6"/><stop offset="0.7545" stop-color="#4433c9"/><stop offset="0.7563" stop-color="#4434ca"/><stop offset="0.7581" stop-color="#4433c8"/><stop offset="0.7599" stop-color="#4432c5"/><stop offset="0.7617" stop-color="#4331c3"/><stop offset="0.7635" stop-color="#4636d0"/><stop offset="0.7653" stop-color="#4331c3"/><stop offset="0.7671" stop-color="#412cb8"/><stop offset="0.7689" stop-color="#4433c7"/><stop offset="0.7707" stop-color="#422fbf"/><stop offset="0.7725" stop-color="#4636d0"/><stop offset="0.7743" stop-color="#422ebc"/><stop offset="0.7761" stop-color="#412db9"/><stop offset="0.7779" stop-color="#422fbf"/><stop offset="0.7797" stop-color="#422fbe"/><stop offset="0.7815" stop-color="#412dba"/><stop offset="0.7833" stop-color="#4330c1"/><stop offset="0.7851" stop-color="#412cb6"/><stop offset="0.7869" stop-color="#4330c1"/><stop offset="0.7887" stop-color="#412cb7"/><stop offset="0.7905" stop-color="#422ebc"/><stop offset="0.7923" stop-color="#4330c0"/><stop offset="0.7959" stop-color="#412db8"/><stop offset="0.7977" stop-color="#412db9"/><stop offset="0.7995" stop-color="#4330c0"/><stop offset="0.8013" stop-color="#412cb6"/><stop offset="0.8031" stop-color="#422ebb"/><stop offset="0.8049" stop-color="#4330c1"/><stop offset="0.8067" stop-color="#412db9"/><stop offset="0.8085" stop-color="#422ebb"/><stop offset="0.8103" stop-color="#412cb6"/><stop offset="0.8121" stop-color="#412bb5"/><stop offset="0.8138" stop-color="#412db8"/><stop offset="0.8156" stop-color="#412db9"/><stop offset="0.8174" stop-color="#4331c2"/><stop offset="0.8192" stop-color="#422fbe"/><stop offset="0.8210" stop-color="#402bb5"/><stop offset="0.8228" stop-color="#412cb6"/><stop offset="0.8246" stop-color="#422ebb"/><stop offset="0.8264" stop-color="#422fbe"/><stop offset="0.8282" stop-color="#412dba"/><stop offset="0.8300" stop-color="#422ebb"/><stop offset="0.8318" stop-color="#4331c3"/><stop offset="0.8336" stop-color="#412db9"/><stop offset="0.8354" stop-color="#402bb5"/><stop offset="0.8372" stop-color="#4330c1"/><stop offset="0.8390" stop-color="#422ebd"/><stop offset="0.8408" stop-color="#422fbf"/><stop offset="0.8426" stop-color="#412db9"/><stop offset="0.8444" stop-color="#402bb5"/><stop offset="0.8462" stop-color="#422ebb"/><stop offset="0.8480" stop-color="#412db8"/><stop offset="0.8498" stop-color="#412cb7"/><stop offset="0.8516" stop-color="#422fbf"/><stop offset="0.8534" stop-color="#422ebb"/><stop offset="0.8552" stop-color="#402bb5"/><stop offset="0.8570" stop-color="#412cb7"/><stop offset="0.8588" stop-color="#412cb8"/><stop offset="0.8606" stop-color="#422ebb"/><stop offset="0.8624" stop-color="#412db9"/><stop offset="0.8642" stop-color="#402bb5"/><stop offset="0.8660" stop-color="#412bb5"/><stop offset="0.8678" stop-color="#412cb7"/><stop offset="0.8696" stop-color="#422fbf"/><stop offset="0.8714" stop-color="#422fbe"/><stop offset="0.8732" stop-color="#412db9"/><stop offset="0.8750" stop-color="#412cb7"/><stop offset="0.8768" stop-color="#412cb8"/><stop offset="0.8786" stop-color="#402bb4"/><stop offset="0.8804" stop-color="#412bb5"/><stop offset="0.8840" stop-color="#402bb5"/><stop offset="0.8858" stop-color="#412cb8"/><stop offset="0.8876" stop-color="#412cb7"/><stop offset="0.8894" stop-color="#412dba"/><stop offset="0.8912" stop-color="#402bb4"/><stop offset="0.8930" stop-color="#422ebb"/><stop offset="0.8948" stop-color="#402bb4"/><stop offset="0.8966" stop-color="#422ebb"/><stop offset="0.8984" stop-color="#412bb5"/><stop offset="0.9002" stop-color="#402bb4"/><stop offset="0.9020" stop-color="#412cb7"/><stop offset="0.9038" stop-color="#422ebc"/><stop offset="0.9056" stop-color="#422ebb"/><stop offset="0.9074" stop-color="#412bb5"/><stop offset="0.9092" stop-color="#412cb6"/><stop offset="0.9110" stop-color="#412bb5"/><stop offset="0.9128" stop-color="#402bb3"/><stop offset="0.9146" stop-color="#412db9"/><stop offset="0.9164" stop-color="#412cb7"/><stop offset="0.9182" stop-color="#412db8"/><stop offset="0.9200" stop-color="#412cb6"/><stop offset="0.9218" stop-color="#402bb5"/><stop offset="0.9272" stop-color="#412cb6"/><stop offset="0.9290" stop-color="#402bb5"/><stop offset="0.9308" stop-color="#402bb4"/><stop offset="0.9326" stop-color="#412bb6"/><stop offset="0.9344" stop-color="#412cb7"/><stop offset="0.9362" stop-color="#412db9"/><stop offset="0.9379" stop-color="#412cb6"/><stop offset="0.9397" stop-color="#412dba"/><stop offset="0.9415" stop-color="#422ebc"/><stop offset="0.9433" stop-color="#412dba"/><stop offset="0.9451" stop-color="#412bb6"/><stop offset="0.9469" stop-color="#422ebc"/><stop offset="0.9487" stop-color="#412cb7"/><stop offset="0.9505" stop-color="#412cb8"/><stop offset="0.9523" stop-color="#402bb3"/><stop offset="0.9541" stop-color="#412cb8"/><stop offset="0.9559" stop-color="#402bb3"/><stop offset="0.9577" stop-color="#402bb4"/><stop offset="0.9613" stop-color="#412db9"/><stop offset="0.9649" stop-color="#402bb4"/><stop offset="0.9667" stop-color="#412bb6"/><stop offset="0.9685" stop-color="#412cb6"/><stop offset="0.9703" stop-color="#412db8"/><stop offset="0.9721" stop-color="#402bb3"/><stop offset="0.9739" stop-color="#412db9"/><stop offset="0.9757" stop-color="#402bb4"/><stop offset="0.9775" stop-color="#412cb7"/><stop offset="0.9793" stop-color="#412db9"/><stop offset="0.9811" stop-color="#402bb4"/><stop offset="0.9829" stop-color="#412dba"/><stop offset="0.9865" stop-color="#412cb6"/><stop offset="0.9883" stop-color="#402ab3"/><stop offset="0.9901" stop-color="#402bb5"/><stop offset="0.9937" stop-color="#402ab2"/><stop offset="0.9955" stop-color="#412cb8"/><stop offset="0.9973" stop-color="#412bb5"/><stop offset="0.9991" stop-color="#412bb5"/></linearGradient>
<clipPath id="cd"><rect x="1061.5" y="921.5" width="753" height="556"/></clipPath>
<linearGradient id="ge" x1="0" y1="0" x2="0" y2="1"><stop offset="0.0009" stop-color="#4432c6"/><stop offset="0.0027" stop-color="#4535cd"/><stop offset="0.0046" stop-color="#4637d2"/><stop offset="0.0064" stop-color="#4636d0"/><stop offset="0.0082" stop-color="#4639d5"/><stop offset="0.0101" stop-color="#4433c8"/><stop offset="0.0119" stop-color="#4637d2"/><stop offset="0.0137" stop-color="#4637d3"/><stop offset="0.0156" stop-color="#4536cf"/><stop offset="0.0174" stop-color="#4534cb"/><stop offset="0.0192" stop-color="#4535cc"/><stop offset="0.0211" stop-color="#4433c9"/><stop offset="0.0229" stop-color="#4536cf"/><stop offset="0.0247" stop-color="#4637d1"/><stop offset="0.0266" stop-color="#4534ca"/><stop offset="0.0284" stop-color="#4534cb"/><stop offset="0.0302" stop-color="#463ad6"/><stop offset="0.0321" stop-color="#4637d2"/><stop offset="0.0339" stop-color="#4534cb"/><stop offset="0.0357" stop-color="#4433c9"/><stop offset="0.0375" stop-color="#4535ce"/><stop offset="0.0394" stop-color="#4433c7"/><stop offset="0.0412" stop-color="#4534ca"/><stop offset="0.0430" stop-color="#4433c9"/><stop offset="0.0449" stop-color="#4434ca"/><stop offset="0.0467" stop-color="#4535cd"/><stop offset="0.0485" stop-color="#4534cb"/><stop offset="0.0522" stop-color="#4332c5"/><stop offset="0.0540" stop-color="#4434ca"/><stop offset="0.0577" stop-color="#4432c5"/><stop offset="0.0595" stop-color="#4535cc"/><stop offset="0.0614" stop-color="#4637d1"/><stop offset="0.0632" stop-color="#4536cf"/><stop offset="0.0650" stop-color="#4432c7"/><stop offset="0.0668" stop-color="#4331c4"/><stop offset="0.0687" stop-color="#4432c6"/><stop offset="0.0705" stop-color="#4432c7"/><stop offset="0.0723" stop-color="#4637d1"/><stop offset="0.0742" stop-color="#4638d3"/><stop offset="0.0760" stop-color="#4332c5"/><stop offset="0.0778" stop-color="#4432c6"/><stop offset="0.0797" stop-color="#4433c9"/><stop offset="0.0815" stop-color="#4432c7"/><stop offset="0.0833" stop-color="#4535cc"/><stop offset="0.0852" stop-color="#4332c5"/><stop offset="0.0870" stop-color="#4638d4"/><stop offset="0.0888" stop-color="#4638d3"/><stop offset="0.0907" stop-color="#4332c4"/><stop offset="0.0925" stop-color="#4331c4"/><stop offset="0.0943" stop-color="#4331c3"/><stop offset="0.0962" stop-color="#4535cd"/><stop offset="0.0980" stop-color="#4432c6"/><stop offset="0.0998" stop-color="#4433c8"/><stop offset="0.1016" stop-color="#463bd7"/><stop offset="0.1035" stop-color="#463ad6"/><stop offset="0.1053" stop-color="#4638d3"/><stop offset="0.1090" stop-color="#463dda"/><stop offset="0.1108" stop-color="#4639d4"/><stop offset="0.1126" stop-color="#4331c4"/><stop offset="0.1145" stop-color="#4433c7"/><stop offset="0.1163" stop-color="#4432c5"/><stop offset="0.1181" stop-color="#4639d4"/><stop offset="0.1218" stop-color="#4432c6"/><stop offset="0.1236" stop-color="#4433c9"/><stop offset="0.1255" stop-color="#4534cb"/><stop offset="0.1273" stop-color="#473edb"/><stop offset="0.1291" stop-color="#4638d3"/><stop offset="0.1310" stop-color="#4432c6"/><stop offset="0.1328" stop-color="#4332c4"/><stop offset="0.1346" stop-color="#4433c7"/><stop offset="0.1364" stop-color="#4637d1"/><stop offset="0.1383" stop-color="#4535ce"/><stop offset="0.1401" stop-color="#4433c9"/><stop offset="0.1419" stop-color="#4432c6"/><stop offset="0.1438" stop-color="#4638d4"/><stop offset="0.1456" stop-color="#4434ca"/><stop offset="0.1493" stop-color="#4535cd"/><stop offset="0.1548" stop-color="#4536cf"/><stop offset="0.1566" stop-color="#4434ca"/><stop offset="0.1584" stop-color="#463ad5"/><stop offset="0.1603" stop-color="#4332c5"/><stop offset="0.1621" stop-color="#4534cb"/><stop offset="0.1639" stop-color="#4434ca"/><stop offset="0.1658" stop-color="#4432c5"/><stop offset="0.1676" stop-color="#4433c8"/><stop offset="0.1712" stop-color="#4331c3"/><stop offset="0.1731" stop-color="#4534cb"/><stop offset="0.1749" stop-color="#4433c8"/><stop offset="0.1767" stop-color="#4432c6"/><stop offset="0.1786" stop-color="#4534cb"/><stop offset="0.1804" stop-color="#4433c8"/><stop offset="0.1822" stop-color="#4534cb"/><stop offset="0.1841" stop-color="#463ad5"/><stop offset="0.1859" stop-color="#463cd8"/><stop offset="0.1877" stop-color="#4432c6"/><stop offset="0.1896" stop-color="#4432c7"/><stop offset="0.1914" stop-color="#4534cb"/><stop offset="0.1932" stop-color="#4432c6"/><stop offset="0.1951" stop-color="#4331c3"/><stop offset="0.1969" stop-color="#4534cb"/><stop offset="0.2005" stop-color="#4432c5"/><stop offset="0.2042" stop-color="#463bd7"/><stop offset="0.2060" stop-color="#4636d1"/><stop offset="0.2079" stop-color="#4331c4"/><stop offset="0.2097" stop-color="#4534cb"/><stop offset="0.2115" stop-color="#4332c5"/><stop offset="0.2134" stop-color="#4638d3"/><stop offset="0.2170" stop-color="#4535cd"/><stop offset="0.2189" stop-color="#4534cc"/><stop offset="0.2207" stop-color="#4331c4"/><stop offset="0.2225" stop-color="#4636d0"/><stop offset="0.2244" stop-color="#4331c4"/><stop offset="0.2262" stop-color="#4639d5"/><stop offset="0.2280" stop-color="#4534cb"/><stop offset="0.2299" stop-color="#4432c5"/><stop offset="0.2317" stop-color="#463ad6"/><stop offset="0.2335" stop-color="#4638d3"/><stop offset="0.2353" stop-color="#4535cc"/><stop offset="0.2372" stop-color="#4433c8"/><stop offset="0.2390" stop-color="#4637d1"/><stop offset="0.2408" stop-color="#463bd7"/><stop offset="0.2427" stop-color="#4433c9"/><stop offset="0.2445" stop-color="#4536cf"/><stop offset="0.2463" stop-color="#4433c9"/><stop offset="0.2482" stop-color="#4637d2"/><stop offset="0.2500" stop-color="#4433c8"/><stop offset="0.2518" stop-color="#4535cd"/><stop offset="0.2537" stop-color="#4534cb"/><stop offset="0.2555" stop-color="#4331c4"/><stop offset="0.2573" stop-color="#4331c3"/><stop offset="0.2592" stop-color="#4433c9"/><stop offset="0.2610" stop-color="#4432c6"/><stop offset="0.2628" stop-color="#4331c3"/><stop offset="0.2647" stop-color="#4637d2"/><stop offset="0.2665" stop-color="#4744e3"/><stop offset="0.2683" stop-color="#4638d3"/><stop offset="0.2701" stop-color="#4433c7"/><stop offset="0.2720" stop-color="#4637d1"/><stop offset="0.2738" stop-color="#4535cc"/><stop offset="0.2756" stop-color="#4638d3"/><stop offset="0.2775" stop-color="#4639d4"/><stop offset="0.2793" stop-color="#4534cb"/><stop offset="0.2811" stop-color="#4636d0"/><stop offset="0.2830" stop-color="#4637d2"/><stop offset="0.2848" stop-color="#4535cc"/><stop offset="0.2866" stop-color="#4639d4"/><stop offset="0.2885" stop-color="#4637d1"/><stop offset="0.2903" stop-color="#4332c5"/><stop offset="0.2921" stop-color="#4637d2"/><stop offset="0.2940" stop-color="#4433c7"/><stop offset="0.2958" stop-color="#4639d5"/><stop offset="0.2976" stop-color="#473fdc"/><stop offset="0.2995" stop-color="#4636d0"/><stop offset="0.3013" stop-color="#4433c9"/><stop offset="0.3031" stop-color="#4535cd"/><stop offset="0.3049" stop-color="#4639d5"/><stop offset="0.3068" stop-color="#4740dd"/><stop offset="0.3086" stop-color="#4433c7"/><stop offset="0.3104" stop-color="#463dd9"/><stop offset="0.3123" stop-color="#4740de"/><stop offset="0.3141" stop-color="#4740dd"/><stop offset="0.3159" stop-color="#4744e3"/><stop offset="0.3178" stop-color="#4745e3"/><stop offset="0.3196" stop-color="#4534cb"/><stop offset="0.3214" stop-color="#463bd6"/><stop offset="0.3233" stop-color="#463ad6"/><stop offset="0.3251" stop-color="#4853f4"/><stop offset="0.3269" stop-color="#435df8"/><stop offset="0.3288" stop-color="#4639d5"/><stop offset="0.3306" stop-color="#473fdc"/><stop offset="0.3324" stop-color="#4658f6"/><stop offset="0.3342" stop-color="#4853f4"/><stop offset="0.3361" stop-color="#4740de"/><stop offset="0.3379" stop-color="#4746e5"/><stop offset="0.3397" stop-color="#463cd8"/><stop offset="0.3416" stop-color="#463ad6"/><stop offset="0.3434" stop-color="#463dd9"/><stop offset="0.3452" stop-color="#4745e4"/><stop offset="0.3471" stop-color="#484ef0"/><stop offset="0.3489" stop-color="#4742df"/><stop offset="0.3507" stop-color="#4743e1"/><stop offset="0.3526" stop-color="#484ff0"/><stop offset="0.3544" stop-color="#4745e3"/><stop offset="0.3562" stop-color="#463dda"/><stop offset="0.3581" stop-color="#4742e0"/><stop offset="0.3617" stop-color="#4743e1"/><stop offset="0.3636" stop-color="#4748e8"/><stop offset="0.3654" stop-color="#4747e6"/><stop offset="0.3672" stop-color="#4657f6"/><stop offset="0.3690" stop-color="#435ef8"/><stop offset="0.3709" stop-color="#4743e1"/><stop offset="0.3727" stop-color="#4743e2"/><stop offset="0.3745" stop-color="#4746e5"/><stop offset="0.3764" stop-color="#473fdc"/><stop offset="0.3800" stop-color="#4748e7"/><stop offset="0.3819" stop-color="#473edb"/><stop offset="0.3837" stop-color="#4746e5"/><stop offset="0.3855" stop-color="#463dd9"/><stop offset="0.3874" stop-color="#463cd9"/><stop offset="0.3892" stop-color="#463bd6"/><stop offset="0.3910" stop-color="#463cd9"/><stop offset="0.3929" stop-color="#463bd8"/><stop offset="0.3947" stop-color="#474beb"/><stop offset="0.3965" stop-color="#4749e9"/><stop offset="0.3984" stop-color="#4638d4"/><stop offset="0.4002" stop-color="#4639d5"/><stop offset="0.4020" stop-color="#463ad5"/><stop offset="0.4038" stop-color="#4639d5"/><stop offset="0.4057" stop-color="#474aea"/><stop offset="0.4075" stop-color="#4743e1"/><stop offset="0.4093" stop-color="#4535ce"/><stop offset="0.4112" stop-color="#463ad6"/><stop offset="0.4130" stop-color="#463dd9"/><stop offset="0.4148" stop-color="#4639d4"/><stop offset="0.4167" stop-color="#463ad6"/><stop offset="0.4185" stop-color="#4742df"/><stop offset="0.4203" stop-color="#4433c9"/><stop offset="0.4222" stop-color="#463bd7"/><stop offset="0.4240" stop-color="#4534cc"/><stop offset="0.4258" stop-color="#4433c9"/><stop offset="0.4277" stop-color="#473edb"/><stop offset="0.4295" stop-color="#463bd7"/><stop offset="0.4313" stop-color="#4331c4"/><stop offset="0.4332" stop-color="#4432c5"/><stop offset="0.4350" stop-color="#4432c6"/><stop offset="0.4386" stop-color="#463ad5"/><stop offset="0.4405" stop-color="#4746e5"/><stop offset="0.4423" stop-color="#4331c4"/><stop offset="0.4441" stop-color="#4432c5"/><stop offset="0.4460" stop-color="#4742e0"/><stop offset="0.4478" stop-color="#473fdc"/><stop offset="0.4496" stop-color="#4535ce"/><stop offset="0.4515" stop-color="#422fbf"/><stop offset="0.4533" stop-color="#473fdc"/><stop offset="0.4551" stop-color="#4638d3"/><stop offset="0.4570" stop-color="#463bd7"/><stop offset="0.4588" stop-color="#463dda"/><stop offset="0.4606" stop-color="#4535cd"/><stop offset="0.4625" stop-color="#4330c2"/><stop offset="0.4643" stop-color="#473edb"/><stop offset="0.4661" stop-color="#463ad6"/><stop offset="0.4679" stop-color="#463dd9"/><stop offset="0.4698" stop-color="#4745e4"/><stop offset="0.4716" stop-color="#463bd6"/><stop offset="0.4734" stop-color="#4330c0"/><stop offset="0.4753" stop-color="#4432c5"/><stop offset="0.4771" stop-color="#4434ca"/><stop offset="0.4789" stop-color="#4330c0"/><stop offset="0.4808" stop-color="#4534cc"/><stop offset="0.4826" stop-color="#4536cf"/><stop offset="0.4844" stop-color="#4636d0"/><stop offset="0.4863" stop-color="#4534ca"/><stop offset="0.4881" stop-color="#4432c7"/><stop offset="0.4899" stop-color="#4535cd"/><stop offset="0.4918" stop-color="#4639d4"/><stop offset="0.4936" stop-color="#4432c5"/><stop offset="0.4954" stop-color="#4434c9"/><stop offset="0.4973" stop-color="#4330c1"/><stop offset="0.4991" stop-color="#4331c2"/><stop offset="0.5009" stop-color="#4534cc"/><stop offset="0.5027" stop-color="#4535cc"/><stop offset="0.5046" stop-color="#4433c9"/><stop offset="0.5064" stop-color="#4535cc"/><stop offset="0.5082" stop-color="#4432c6"/><stop offset="0.5101" stop-color="#4432c5"/><stop offset="0.5119" stop-color="#422fbf"/><stop offset="0.5137" stop-color="#4433c7"/><stop offset="0.5156" stop-color="#4535cd"/><stop offset="0.5174" stop-color="#4434ca"/><stop offset="0.5192" stop-color="#4331c4"/><stop offset="0.5211" stop-color="#4230c0"/><stop offset="0.5229" stop-color="#422fbf"/><stop offset="0.5247" stop-color="#4434ca"/><stop offset="0.5266" stop-color="#4330c2"/><stop offset="0.5284" stop-color="#4433c8"/><stop offset="0.5302" stop-color="#4330c2"/><stop offset="0.5321" stop-color="#4331c2"/><stop offset="0.5339" stop-color="#422fbe"/><stop offset="0.5357" stop-color="#422ebd"/><stop offset="0.5375" stop-color="#4432c5"/><stop offset="0.5394" stop-color="#4332c5"/><stop offset="0.5412" stop-color="#4230c0"/><stop offset="0.5430" stop-color="#4432c6"/><stop offset="0.5467" stop-color="#4433c7"/><stop offset="0.5485" stop-color="#4432c6"/><stop offset="0.5504" stop-color="#422fbf"/><stop offset="0.5522" stop-color="#4433c8"/><stop offset="0.5540" stop-color="#4535cc"/><stop offset="0.5559" stop-color="#4332c5"/><stop offset="0.5577" stop-color="#4434c9"/><stop offset="0.5595" stop-color="#4332c5"/><stop offset="0.5614" stop-color="#4331c3"/><stop offset="0.5650" stop-color="#4433c8"/><stop offset="0.5668" stop-color="#4636cf"/><stop offset="0.5687" stop-color="#4535cc"/><stop offset="0.5705" stop-color="#4535cd"/><stop offset="0.5723" stop-color="#4330c2"/><stop offset="0.5742" stop-color="#4536cf"/><stop offset="0.5760" stop-color="#4535cd"/><stop offset="0.5778" stop-color="#4433c8"/><stop offset="0.5797" stop-color="#463bd7"/><stop offset="0.5815" stop-color="#4432c6"/><stop offset="0.5833" stop-color="#4636d0"/><stop offset="0.5852" stop-color="#4535cc"/><stop offset="0.5870" stop-color="#4433c7"/><stop offset="0.5888" stop-color="#4331c3"/><stop offset="0.5907" stop-color="#4432c6"/><stop offset="0.5925" stop-color="#4433c8"/><stop offset="0.5943" stop-color="#4432c5"/><stop offset="0.5962" stop-color="#4534cb"/><stop offset="0.5980" stop-color="#4636d0"/><stop offset="0.6016" stop-color="#4432c7"/><stop offset="0.6035" stop-color="#4432c6"/><stop offset="0.6053" stop-color="#463bd7"/><stop offset="0.6071" stop-color="#4433c8"/><stop offset="0.6090" stop-color="#4331c4"/><stop offset="0.6108" stop-color="#4639d5"/><stop offset="0.6126" stop-color="#4432c5"/><stop offset="0.6145" stop-color="#4636d0"/><stop offset="0.6163" stop-color="#4433c7"/><stop offset="0.6181" stop-color="#463dda"/><stop offset="0.6200" stop-color="#4742e0"/><stop offset="0.6218" stop-color="#4432c6"/><stop offset="0.6236" stop-color="#4432c7"/><stop offset="0.6255" stop-color="#463dda"/><stop offset="0.6291" stop-color="#4637d2"/><stop offset="0.6310" stop-color="#4744e2"/><stop offset="0.6328" stop-color="#4638d3"/><stop offset="0.6346" stop-color="#4536cf"/><stop offset="0.6364" stop-color="#4535ce"/><stop offset="0.6383" stop-color="#4432c5"/><stop offset="0.6401" stop-color="#4535cc"/><stop offset="0.6419" stop-color="#4636d1"/><stop offset="0.6438" stop-color="#4433c9"/><stop offset="0.6456" stop-color="#463bd7"/><stop offset="0.6474" stop-color="#463ad6"/><stop offset="0.6511" stop-color="#4637d3"/><stop offset="0.6529" stop-color="#4639d4"/><stop offset="0.6548" stop-color="#4638d3"/><stop offset="0.6566" stop-color="#4534cb"/><stop offset="0.6584" stop-color="#473fdc"/><stop offset="0.6603" stop-color="#4639d5"/><stop offset="0.6639" stop-color="#463cd9"/><stop offset="0.6658" stop-color="#463bd7"/><stop offset="0.6676" stop-color="#4851f2"/><stop offset="0.6694" stop-color="#4740de"/><stop offset="0.6712" stop-color="#4535cd"/><stop offset="0.6731" stop-color="#4332c5"/><stop offset="0.6749" stop-color="#4637d3"/><stop offset="0.6767" stop-color="#4432c5"/><stop offset="0.6786" stop-color="#4535ce"/><stop offset="0.6804" stop-color="#4637d2"/><stop offset="0.6822" stop-color="#4536ce"/><stop offset="0.6841" stop-color="#4639d5"/><stop offset="0.6859" stop-color="#4636d1"/><stop offset="0.6877" stop-color="#4636d0"/><stop offset="0.6896" stop-color="#4639d5"/><stop offset="0.6914" stop-color="#4433c9"/><stop offset="0.6932" stop-color="#4639d5"/><stop offset="0.6951" stop-color="#4432c7"/><stop offset="0.6969" stop-color="#4433c8"/><stop offset="0.6987" stop-color="#463bd7"/><stop offset="0.7005" stop-color="#463dd9"/><stop offset="0.7024" stop-color="#4331c4"/><stop offset="0.7042" stop-color="#4433c7"/><stop offset="0.7060" stop-color="#4639d4"/><stop offset="0.7079" stop-color="#4534cb"/><stop offset="0.7097" stop-color="#4535cd"/><stop offset="0.7115" stop-color="#4535cc"/><stop offset="0.7134" stop-color="#4534ca"/><stop offset="0.7152" stop-color="#4534cb"/><stop offset="0.7170" stop-color="#473edb"/><stop offset="0.7189" stop-color="#4637d1"/><stop offset="0.7207" stop-color="#4536cf"/><stop offset="0.7225" stop-color="#463bd7"/><stop offset="0.7244" stop-color="#422fbf"/><stop offset="0.7262" stop-color="#4535cd"/><stop offset="0.7280" stop-color="#4637d1"/><stop offset="0.7299" stop-color="#4637d2"/><stop offset="0.7317" stop-color="#4330c0"/><stop offset="0.7335" stop-color="#422fbf"/><stop offset="0.7353" stop-color="#4432c7"/><stop offset="0.7372" stop-color="#4638d3"/><stop offset="0.7390" stop-color="#4742e0"/><stop offset="0.7408" stop-color="#473edb"/><stop offset="0.7427" stop-color="#4432c7"/><stop offset="0.7445" stop-color="#4331c4"/><stop offset="0.7463" stop-color="#4535ce"/><stop offset="0.7482" stop-color="#4433c8"/><stop offset="0.7500" stop-color="#4432c6"/><stop offset="0.7518" stop-color="#4535cd"/><stop offset="0.7537" stop-color="#422ebb"/><stop offset="0.7573" stop-color="#4330c1"/><stop offset="0.7592" stop-color="#4331c3"/><stop offset="0.7610" stop-color="#4330c2"/><stop offset="0.7628" stop-color="#4535cc"/><stop offset="0.7647" stop-color="#4330c0"/><stop offset="0.7665" stop-color="#422ebc"/><stop offset="0.7683" stop-color="#412dba"/><stop offset="0.7701" stop-color="#412db9"/><stop offset="0.7720" stop-color="#422ebd"/><stop offset="0.7738" stop-color="#412db8"/><stop offset="0.7756" stop-color="#422ebd"/><stop offset="0.7775" stop-color="#422ebc"/><stop offset="0.7793" stop-color="#4330c0"/><stop offset="0.7811" stop-color="#4332c5"/><stop offset="0.7830" stop-color="#412cb7"/><stop offset="0.7866" stop-color="#412cb6"/><stop offset="0.7885" stop-color="#422fbd"/><stop offset="0.7903" stop-color="#412cb8"/><stop offset="0.7921" stop-color="#412bb5"/><stop offset="0.7940" stop-color="#412cb6"/><stop offset="0.7976" stop-color="#4330c0"/><stop offset="0.7995" stop-color="#412db9"/><stop offset="0.8013" stop-color="#422fbd"/><stop offset="0.8031" stop-color="#422fbe"/><stop offset="0.8049" stop-color="#422ebc"/><stop offset="0.8068" stop-color="#422fbe"/><stop offset="0.8086" stop-color="#422ebd"/><stop offset="0.8104" stop-color="#412cb7"/><stop offset="0.8123" stop-color="#412cb8"/><stop offset="0.8141" stop-color="#412cb6"/><stop offset="0.8159" stop-color="#412dba"/><stop offset="0.8178" stop-color="#4332c4"/><stop offset="0.8196" stop-color="#4331c3"/><stop offset="0.8214" stop-color="#422fbd"/><stop offset="0.8233" stop-color="#4330c2"/><stop offset="0.8269" stop-color="#422fbe"/><stop offset="0.8288" stop-color="#412bb5"/><stop offset="0.8306" stop-color="#422ebc"/><stop offset="0.8324" stop-color="#412dba"/><stop offset="0.8342" stop-color="#402bb5"/><stop offset="0.8361" stop-color="#422ebd"/><stop offset="0.8379" stop-color="#412db9"/><stop offset="0.8397" stop-color="#412cb8"/><stop offset="0.8416" stop-color="#422ebb"/><stop offset="0.8434" stop-color="#412db9"/><stop offset="0.8452" stop-color="#412bb5"/><stop offset="0.8471" stop-color="#402bb5"/><stop offset="0.8489" stop-color="#412cb7"/><stop offset="0.8507" stop-color="#422ebc"/><stop offset="0.8526" stop-color="#402bb5"/><stop offset="0.8544" stop-color="#412cb7"/><stop offset="0.8562" stop-color="#412dba"/><stop offset="0.8581" stop-color="#412cb7"/><stop offset="0.8599" stop-color="#412db9"/><stop offset="0.8617" stop-color="#412cb7"/><stop offset="0.8654" stop-color="#412dba"/><stop offset="0.8672" stop-color="#412cb6"/><stop offset="0.8690" stop-color="#412bb5"/><stop offset="0.8709" stop-color="#412db8"/><stop offset="0.8727" stop-color="#412cb6"/><stop offset="0.8745" stop-color="#422ebc"/><stop offset="0.8764" stop-color="#422fbf"/><stop offset="0.8782" stop-color="#402bb5"/><stop offset="0.8800" stop-color="#412cb8"/><stop offset="0.8819" stop-color="#412cb6"/><stop offset="0.8855" stop-color="#412db8"/><stop offset="0.8874" stop-color="#422fbd"/><stop offset="0.8892" stop-color="#402bb5"/><stop offset="0.8910" stop-color="#412cb8"/><stop offset="0.8929" stop-color="#422ebb"/><stop offset="0.8947" stop-color="#412db9"/><stop offset="0.8965" stop-color="#412db8"/><stop offset="0.8984" stop-color="#422ebd"/><stop offset="0.9002" stop-color="#412cb7"/><stop offset="0.9020" stop-color="#402bb4"/><stop offset="0.9038" stop-color="#412dba"/><stop offset="0.9057" stop-color="#412cb8"/><stop offset="0.9075" stop-color="#412cb6"/><stop offset="0.9093" stop-color="#412db8"/><stop offset="0.9130" stop-color="#412cb6"/><stop offset="0.9148" stop-color="#402bb4"/><stop offset="0.9167" stop-color="#402bb5"/><stop offset="0.9185" stop-color="#412cb6"/><stop offset="0.9203" stop-color="#412dba"/><stop offset="0.9222" stop-color="#412cb6"/><stop offset="0.9258" stop-color="#402bb3"/><stop offset="0.9277" stop-color="#402bb4"/><stop offset="0.9295" stop-color="#412cb6"/><stop offset="0.9313" stop-color="#422ebb"/><stop offset="0.9332" stop-color="#422dba"/><stop offset="0.9350" stop-color="#402bb5"/><stop offset="0.9368" stop-color="#402ab3"/><stop offset="0.9386" stop-color="#412cb6"/><stop offset="0.9405" stop-color="#402bb5"/><stop offset="0.9423" stop-color="#412cb7"/><stop offset="0.9441" stop-color="#412db9"/><stop offset="0.9460" stop-color="#412cb7"/><stop offset="0.9478" stop-color="#412cb6"/><stop offset="0.9496" stop-color="#402bb4"/><stop offset="0.9515" stop-color="#422ebb"/><stop offset="0.9533" stop-color="#412cb6"/><stop offset="0.9551" stop-color="#422fbe"/><stop offset="0.9570" stop-color="#412dba"/><stop offset="0.9588" stop-color="#412cb8"/><stop offset="0.9606" stop-color="#422ebc"/><stop offset="0.9625" stop-color="#402bb4"/><stop offset="0.9661" stop-color="#402ab3"/><stop offset="0.9679" stop-color="#412cb6"/><stop offset="0.9716" stop-color="#412cb8"/><stop offset="0.9734" stop-color="#412bb5"/><stop offset="0.9753" stop-color="#402bb4"/><stop offset="0.9789" stop-color="#412cb6"/><stop offset="0.9808" stop-color="#402bb3"/><stop offset="0.9844" stop-color="#402bb5"/><stop offset="0.9863" stop-color="#412dba"/><stop offset="0.9881" stop-color="#402bb4"/><stop offset="0.9899" stop-color="#412cb6"/><stop offset="0.9918" stop-color="#412cb8"/><stop offset="0.9936" stop-color="#422ebd"/><stop offset="0.9954" stop-color="#412db9"/><stop offset="0.9973" stop-color="#412cb7"/><stop offset="0.9991" stop-color="#422ebc"/></linearGradient>
<clipPath id="ce"><rect x="160" y="1800" width="729.5" height="546.5"/></clipPath>
<clipPath id="cf"><rect x="1063" y="1800" width="730" height="546.5"/></clipPath>
</defs>
<path d="M106.5 255.3V363.5M107.5 240.1V388.4M108.5 255.1V402.9M109.5 253.8V397.9M110.5 232.2V390.8M111.5 231.3V397.4M112.5 235V420.9M113.5 230.8V372M114.5 249.8V386.1M115.5 233.6V371.4M116.5 258V358M117.5 260.2V357.4M118.5 252.8V351.5M119.5 276.4V377.9M120.5 259V372.1M121.5 284.7V344M122.5 261.1V344.5M123.5 267.3V366.5M124.5 275.2V365.6M125.5 270.6V370.3M126.5 252.4V382.7M127.5 243.6V392.7M128.5 245.4V396.2M129.5 233.6V386M130.5 206.6V375.5M131.5 255.7V399.6M132.5 229.1V360.4M133.5 253.8V353M134.5 259.2V351.6M135.5 266.1V390M136.5 267.5V358.7M137.5 282.9V357.8M138.5 250.8V348M139.5 287.4V374.4M140.5 279.8V343.1M141.5 275.1V354M142.5 243.6V344.6M143.5 273V362.3M144.5 244.6V382.4M145.5 254.7V367.7M146.5 259V385.5M147.5 209.6V381.3M148.5 232.7V397.9M149.5 258.8V387.8M150.5 250.6V369.8M151.5 273.3V360.9M152.5 280.3V362.2M153.5 269.5V339.1M154.5 279.9V356.4M155.5 242.7V343.7M156.5 269.6V339M157.5 273.8V336.7M158.5 269.2V367.9M159.5 240.3V367.3M160.5 246.8V367.6M161.5 223.4V375.7M162.5 239.1V401.7M163.5 241.5V391.8M164.5 262.4V361.1M165.5 250.2V390.8M166.5 254.5V376.7M167.5 221.1V398.2M168.5 218.5V374.9M169.5 252.5V365M170.5 253.9V370.2M171.5 262.4V368M172.5 262.8V364.8M173.5 252.6V372.7M174.5 249.8V354.4M175.5 272.1V387.4M176.5 252.3V363.7M177.5 251.2V375.2M178.5 251.1V375.6M179.5 249.6V389.2M180.5 258.9V390.6M181.5 263V360.8M182.5 256.6V359.5M183.5 255.4V361.4M184.5 229.9V359.1M185.5 244.4V390.2M186.5 258.2V391.2M187.5 254.8V390.2M188.5 274.2V370.7M189.5 242.3V373.7M190.5 239.9V375.2M191.5 281.8V352.4M192.5 260.9V378M193.5 261V360.5M194.5 276.8V351.4M195.5 245.5V348.7M196.5 270.1V363.9M197.5 251.6V366.9M198.5 257.9V379.7M199.5 258.4V376.1M200.5 235.6V398.6M201.5 264.7V371.5M202.5 255.8V384.2M203.5 266.1V362.7M204.5 263.4V361.2M205.5 279.8V348.5M206.5 280.5V342.9M207.5 269.4V348.5M208.5 280V343.9M209.5 285V381.4M210.5 281.5V381.7M211.5 286.7V355.4M212.5 284.3V337.7M213.5 279.6V334.8M214.5 286.6V366.3M215.5 237.7V348.3M216.5 268.6V352.9M217.5 263V360.7M218.5 242.1V354M219.5 230.3V376.2M220.5 250.2V406M221.5 248V374.2M222.5 238.6V381.1M223.5 250.5V353.1M224.5 235.1V366.9M225.5 266.2V379.5M226.5 248.3V352.5M227.5 282.8V337.1M228.5 282.3V337.3M229.5 259.7V343.9M230.5 249.1V340.9M231.5 236.4V352.6M232.5 288.2V339.7M233.5 286.6V360.9M234.5 288.4V379.3M235.5 286.7V384.6M236.5 247.4V362.2M237.5 246.5V359.8M238.5 243V392.8M239.5 236.3V387.8M240.5 239.5V382M241.5 234.8V387.3M242.5 238.4V393.7M243.5 245.4V378.2M244.5 244.1V385.4M245.5 242.6V388.7M246.5 226.9V381.6M247.5 251.4V405.5M248.5 255.8V402.2M249.5 235.9V390.9M250.5 248.9V388.4M251.5 273.1V354.1M252.5 278.1V385.7M253.5 259.4V356.6M254.5 270.4V370.7M255.5 245.2V385.3M256.5 250.4V360.3M257.5 223.1V377.7M258.5 235.5V362.2M259.5 268.1V372.7M260.5 236.1V380.3M261.5 250V398.4M262.5 228.8V394.2M263.5 247.6V386.7M264.5 255.5V373.9M265.5 237.9V360.3M266.5 240.4V367.3M267.5 223.1V370.4M268.5 254.5V372.1M269.5 222.1V379.1M270.5 209V398.3M271.5 238.6V396.1M272.5 244.5V387.2M273.5 221.9V400.1M274.5 252.9V381.8M275.5 239V379M276.5 259.4V373.9M277.5 259.6V350M278.5 242.8V359M279.5 272.6V351.2M280.5 270.7V373.6M281.5 286.1V349.4M282.5 282.6V343.2M283.5 261.2V335M284.5 282.9V363.9M285.5 289V354.7M286.5 275.1V336.8M287.5 244.7V384.8M288.5 237.3V365.2M289.5 249V375.6M290.5 255.3V377.8M291.5 231.3V390.1M292.5 241.6V381.6M293.5 249.9V385.3M294.5 245.1V391.1M295.5 266.9V387.4M296.5 268.3V382M297.5 245.4V367.6M298.5 264.9V355.9M299.5 276.8V382.5M300.5 264.5V370.5M301.5 276V337.1M302.5 252.2V335M303.5 267.6V369.2M304.5 258.9V358.4M305.5 224.7V368.9M306.5 246.2V410.3M307.5 230.9V390.2M308.5 207.2V380.2M309.5 225V376.4M310.5 245.6V368.5M311.5 261.2V381.6M312.5 251.4V376M313.5 263.5V364.1M314.5 278.8V363M315.5 276.3V362.9M316.5 278.3V345M317.5 287V337.8M318.5 256.8V375.4M319.5 257.8V371.4M320.5 259.4V361.1M321.5 247.5V384M322.5 225.7V396.9M323.5 241V372M324.5 230V386M325.5 246.3V402.8M326.5 236.2V425.7M327.5 243.8V406.3M328.5 244.2V397.5M329.5 242.3V389.9M330.5 265.4V362.6M331.5 262.4V375.3M332.5 233.7V370.3M333.5 254.5V376.9M334.5 235.3V390.3M335.5 216.4V387.1M336.5 251.5V377.5M337.5 239.6V386.9M338.5 236.5V379.9M339.5 241.1V369.6M340.5 252.1V371.8M341.5 219.9V410.2M342.5 222V404M343.5 248.4V370.6M344.5 245V387.1M345.5 229.6V390.5M346.5 235.4V385.1M347.5 266V358.8M348.5 246.6V361.3M349.5 237.5V369.2M350.5 247.2V353.8M351.5 262.6V370.9M352.5 239.1V389.5M353.5 227.2V411.1M354.5 202.4V383.4M355.5 237.9V411.7M356.5 229.9V363.1M357.5 244.8V388.9M358.5 255.3V382.1M359.5 236.3V384.5M360.5 234V386.6M361.5 222.1V411.3M362.5 220.6V381.9M363.5 234.4V368.5M364.5 252.6V389.5M365.5 233.3V388.5M366.5 256.4V377.5M367.5 254.2V364.9M368.5 261.1V351.9M369.5 259.1V376.1M370.5 244.1V362.5M371.5 245.7V350M372.5 281.2V340.6M373.5 241.4V387.2M374.5 233.9V375.4M375.5 264.7V370.3M376.5 257.2V355.4M377.5 247.6V364.5M378.5 255.5V370.7M379.5 250.4V367.8M380.5 260.2V384.1M381.5 237.7V367.7M382.5 246.7V361.8M383.5 269.2V350.7M384.5 282.5V339.6M385.5 270.6V340.1M386.5 254.7V342.9M387.5 286.5V373.3M388.5 274.3V376.2M389.5 241.9V375.6M390.5 232.9V369.8M391.5 258.1V366.7M392.5 240.4V410.3M393.5 235.4V404.2M394.5 241V381.1M395.5 256.9V389.5M396.5 247.4V375.4M397.5 237.6V388.9M398.5 253.2V398.7M399.5 203.7V406M400.5 249.8V407.1M401.5 260.2V368.4M402.5 241V373.6M403.5 265.3V372.3M404.5 262.6V352M405.5 246.5V358.3M406.5 271.1V350.1M407.5 236.7V348.5M408.5 235.5V371.4M409.5 239.7V365.6M410.5 249.5V369.6M411.5 215.5V407.3M412.5 226.4V395.1M413.5 240.3V410.5M414.5 237.3V397.7M415.5 248V377.9M416.5 244.3V375.3M417.5 239.5V384.8M418.5 218.3V407.5M419.5 229.8V416.1M420.5 214.3V400.5M421.5 233.7V380.9M422.5 251.9V367.9M423.5 237.7V353.1M424.5 267.7V364.2M425.5 246.9V354.5M426.5 247.7V348.9M427.5 237.9V351.5M428.5 245.6V363.5M429.5 255.2V379.4M430.5 261.5V383.9M431.5 248.2V364.6M432.5 219.1V386M433.5 243.6V393.1M434.5 240.7V370.3M435.5 270.5V361.4M436.5 243.9V371.5M437.5 272.6V381.5M438.5 282.7V349.9M439.5 288.3V342.1M440.5 243.6V385M441.5 263.7V341.4M442.5 249.3V374M443.5 289.5V390M444.5 247V344.9M445.5 289.8V339.7M446.5 238.1V384.3M447.5 287.1V359.2M448.5 283V371.7M449.5 276.9V351.1M450.5 267.2V350.4M451.5 262.9V363.8M452.5 240.2V392.2M453.5 224V397M454.5 242.8V369.3M455.5 254.4V380M456.5 244V382.5M457.5 253.9V362M458.5 264.7V360.7M459.5 281.1V354.2M460.5 276V352.4M461.5 262.9V386M462.5 281.7V380M463.5 285.4V338.6M464.5 238.9V344.7M465.5 252.5V358.9M466.5 275.5V342.7M467.5 255.2V360.6M468.5 265.1V379.6M469.5 252.8V367.4M470.5 227.1V381.7M471.5 234.1V393.6M472.5 215V397.6M473.5 224.4V404.6M474.5 228.3V398M475.5 239.7V401.7M476.5 244.4V393.6M477.5 246.6V373.4M478.5 233.1V387.5M479.5 261.9V357.4M480.5 263.9V365.3M481.5 276.8V388.4M482.5 248.3V373.8M483.5 267.3V385.3M484.5 279.7V383.7M485.5 278.4V381.6M486.5 277.1V351.4M487.5 235V345.8M488.5 260.5V368.3M489.5 257.2V349.2M490.5 245.4V369.3M491.5 231V364.9M492.5 245.3V406.5M493.5 232.1V394.3M494.5 249.9V376.1M495.5 247.9V367.6M496.5 277.8V347.5M497.5 264.2V375.7M498.5 248.6V364.5M499.5 225.2V369.1M500.5 220V370.7M501.5 231.2V388.4M502.5 213.8V397.8M503.5 234V365.7M504.5 256.4V388.3M505.5 249.6V374.5M506.5 262.1V351.3M507.5 260V347.8M508.5 282.3V361.2M509.5 285.1V381M510.5 268.9V349.1M511.5 276.7V343.2M512.5 284.5V342.9M513.5 237V372.4M514.5 275.2V372.9M515.5 240.9V350M516.5 252.6V353.8M517.5 262.7V342.2M518.5 242.3V366M519.5 251.2V374.9M520.5 258.8V361.9M521.5 242.1V377.8M522.5 241.8V361.6M523.5 247.6V409M524.5 229.8V405.4M525.5 243.7V391M526.5 241V388.5M527.5 237.7V368.6M528.5 266.4V352.7M529.5 235.6V363.6M530.5 262.2V351.6M531.5 274.2V360M532.5 285.5V387.8M533.5 239.9V371.3M534.5 283V360M535.5 267.5V358M536.5 242.8V367.4M537.5 246.6V397.4M538.5 232.1V391.2M539.5 217.4V403.8M540.5 238.7V402.5M541.5 215.5V395.2M542.5 231.3V380.8M543.5 229.8V413.6M544.5 238.5V380.9M545.5 251.4V373.1M546.5 254.2V394.6M547.5 245.6V382.8M548.5 255.2V362.5M549.5 255.9V350.6M550.5 270.3V351.7M551.5 268.4V373.2M552.5 278.4V382.6M553.5 283.2V385.7M554.5 245.2V360.5M555.5 239V343M556.5 280.8V356.5M557.5 284V334.7M558.5 267.6V341.6M559.5 243.6V336.4M560.5 248.8V355.7M561.5 265V374.8M562.5 232.5V363.3M563.5 223.3V388.6M564.5 208.6V417M565.5 225.1V403.7M566.5 242.9V373.7M567.5 205.2V418.3M568.5 220V396.5M569.5 234.4V391.7M570.5 248.6V379.5M571.5 266.2V367.2M572.5 234V361.2M573.5 248V372.7M574.5 272.2V340M575.5 233.2V348.5M576.5 267.6V339.8M577.5 280.3V342.5M578.5 243.7V382.7M579.5 284.4V361.6M580.5 259.3V384M581.5 251.9V338.3M582.5 274.5V343.2M583.5 272.7V367.2M584.5 278.7V374.8M585.5 288.3V353.3M586.5 259.1V359.8M587.5 287.2V379.8M588.5 285.9V338.9M589.5 280.3V386M590.5 251.3V342.6M591.5 256.5V367.9M592.5 266.4V389M593.5 248.8V356.1M594.5 241.4V387.8M595.5 232.6V361.2M596.5 229.4V377.2M597.5 225.1V418.3M598.5 224.1V369.1M599.5 253.8V376.8M600.5 242.5V352.6M601.5 251.1V371.8M602.5 251.6V348.1M603.5 279.8V381.7M604.5 277.9V367.7M605.5 288.2V352.2M606.5 283.5V349.7M607.5 268.6V374.2M608.5 282V340.5M609.5 238.2V342M610.5 261.9V353.7M611.5 242.5V362.3M612.5 238.7V359M613.5 267.3V374.9M614.5 247V354.1M615.5 239.4V372M616.5 228.6V400M617.5 223V389.2M618.5 239.3V392.9M619.5 239.9V387.7M620.5 258.6V353.8M621.5 250.8V383.5M622.5 278.4V364.8M623.5 268.3V353M624.5 277.2V349.5M625.5 237.9V349.6M626.5 264.6V364.2M627.5 243.4V356.2M628.5 249.7V371M629.5 228.3V383.8M630.5 227.7V391.5M631.5 237.8V417.9M632.5 239.9V389.5M633.5 249V378.9M634.5 255.8V369.6M635.5 249.8V358.6M636.5 258.2V390.4M637.5 279.5V344.8M638.5 266.1V342.6M639.5 282.5V351.1M640.5 277.7V362.9M641.5 280.7V345.1M642.5 275.7V339.2M643.5 277.6V342.3M644.5 282.6V334.7M645.5 266.9V353.1M646.5 256.9V371.3M647.5 241V377.1M648.5 232.2V391.7M649.5 222.5V404M650.5 236.4V418.6M651.5 223.1V392.7M652.5 235.2V404.2M653.5 233.5V383M654.5 248.5V367.4M655.5 245.3V362.8M656.5 259.9V372.1M657.5 275.7V365.6M658.5 273.5V352.1M659.5 283.5V370.5M660.5 279.5V341.9M661.5 281.6V383M662.5 261.9V367.3M663.5 250.8V387.4M664.5 242.1V385.4M665.5 234.3V381.3M666.5 214.1V389M667.5 250.4V388.7M668.5 243.4V385M669.5 215V386.2M670.5 209.3V415.1M671.5 228.1V399.8M672.5 241.2V388.7M673.5 250V390.1M674.5 268.9V378.8M675.5 256.5V377.4M676.5 264V350.8M677.5 270.8V349.3M678.5 270.3V344M679.5 277.9V362.3M680.5 283.5V360.2M681.5 283.9V380.6M682.5 266.2V383.8M683.5 274.3V358.8M684.5 261.6V337.8M685.5 276.5V355.6M686.5 242.6V375.7M687.5 232.7V363.6M688.5 237.2V370.4M689.5 220.7V414.8M690.5 193.3V388.2M691.5 216V397.5M692.5 235.1V401M693.5 247.2V376.5M694.5 260.2V373.3M695.5 244.8V375.8M696.5 252.8V344.1M697.5 265.6V341.9M698.5 250.8V345.6M699.5 279.1V343.1M700.5 286.7V369.6M701.5 285.1V356M702.5 289.9V385M703.5 283V336.6M704.5 283.3V340M705.5 286V356.6M706.5 281.7V340M707.5 281.6V361M708.5 286.8V339.5M709.5 259.9V344.3M710.5 259.6V382.7M711.5 241.6V364.8M712.5 287.1V387.5M713.5 285.7V340.8M714.5 253.2V337.1M715.5 287.4V345.4M716.5 281.3V343.2M717.5 253.1V376.1M718.5 281.7V386.7M719.5 263.1V377.6M720.5 249.5V366.1M721.5 237.7V387.7M722.5 214.4V396.3M723.5 221.1V393.6M724.5 236.9V380.4M725.5 238.5V394.7M726.5 248.6V361.4M727.5 273.4V375.8M728.5 254V362.8M729.5 261.2V379.4M730.5 275.5V372.8M731.5 276.2V361.9M732.5 282.1V340.1M733.5 280.7V336.9M734.5 255V380.8M735.5 256V377.7M736.5 277.7V380.9M737.5 270.5V368.2M738.5 289.3V364.6M739.5 252.5V355.3M740.5 233.9V359.9M741.5 236.5V389.9M742.5 244V381.2M743.5 227.7V407.1M744.5 247.7V393.4M745.5 234.1V371.1M746.5 260.4V387.2M747.5 238.1V355.1M748.5 233.7V382.5M749.5 235.8V343.1M750.5 260.3V358.1M751.5 251.2V351.7M752.5 236.6V354.3M753.5 266.7V364.5M754.5 272.9V336.2M755.5 269.1V351.8M756.5 283.1V354M757.5 272.6V337M758.5 264.8V380.7M759.5 242.9V353.4M760.5 243.6V388.8M761.5 234.3V402.6M762.5 241.7V397.4M763.5 216.9V393.8M764.5 217.1V390M765.5 234.3V394.7M766.5 241.2V359.7M767.5 237V376.5M768.5 259.9V360M769.5 275.3V370.6M770.5 253.1V370.7M771.5 248.4V376.3M772.5 248.9V374.5M773.5 226.7V374.8M774.5 225.2V400.3M775.5 211.7V385.3M776.5 233.6V404.7M777.5 213.9V409.9M778.5 239.9V376.3M779.5 242.9V374.1M780.5 244.4V374.7M781.5 260.3V370.6M782.5 267.9V378.3M783.5 273.4V341.4M784.5 276V347.5M785.5 281.6V340M786.5 278.6V380.6M787.5 254.8V390.6M788.5 279.8V335.3M789.5 264.9V354.4M790.5 272.6V352.9M791.5 287.5V335.3M792.5 278V356.8M793.5 249.8V369M794.5 263.8V373.5M795.5 255.4V358.7M796.5 222.5V374M797.5 250.4V385M798.5 246.9V382.4M799.5 260.3V350.7M800.5 279.5V358.1M801.5 273.6V362.9M802.5 280.7V365M803.5 284.4V345.1M804.5 268.5V359.3M805.5 286.9V367.5M806.5 280.4V336.4M807.5 236.1V370.2M808.5 284.3V343.4M809.5 278.1V348.3M810.5 263.1V354.6M811.5 251.1V390.5M812.5 237.5V349M813.5 238.1V381.7M814.5 247V356.6M815.5 255.2V381.7M816.5 212.4V413.3M817.5 232.8V397M818.5 261.9V372.8" stroke="#0000ff" stroke-width="1.4" fill="none"/>
<path d="M110.4 215.3V311.8M127 198.5V311.8M130 197.5V311.8M146.6 176.9V311.8M167 147.3V311.8M179.2 217.2V311.8M199.8 143.4V311.8M219.7 133.5V311.8M239.7 206.4V311.8M256.7 223.2V311.8M262.5 179.8V311.8M269 196.6V311.8M273.4 155.2V311.8M292.2 129.6V311.8M306.6 161.1V311.8M322.1 173.9V311.8M325.5 181.8V311.8M335.4 204.4V311.8M345.4 57.7V311.8M353.8 198.5V311.8M361 89.2V311.8M364.3 104.9V311.8M378.2 197.5V311.8M392 199.5V311.8M398.6 201.5V311.8M411.9 205.4V311.8M418.6 160.1V311.8M452.9 195.6V311.8M471.1 100V311.8M472.2 163.1V311.8M474.4 210.3V311.8M491.7 186.7V311.8M501 223.2V311.8M524.3 179.8V311.8M539.8 174.9V311.8M543.8 188.7V311.8M564.2 200.5V311.8M567.1 200.5V311.8M597 196.6V311.8M617 169V311.8M630.7 164.1V311.8M651.1 198.5V311.8M666.2 138.4V311.8M670.2 186.7V311.8M689.4 90.2V311.8M722.7 206.4V311.8M742.6 172.9V311.8M762.6 197.5V311.8M773.7 189.7V311.8M795.8 181.8V311.8M815.8 181.8V311.8M111.5 311.8V440.8M127 311.8V426.1M130 311.8V420.2M146.6 311.8V453.6M162.5 311.8V436.9M167 311.8V506.8M179.2 311.8V438.9M184.7 311.8V417.2M200.2 311.8V518.7M219.7 311.8V467.4M245.7 311.8V390.6M262.5 311.8V419.2M269 311.8V452.7M272.3 311.8V493M292.9 311.8V485.2M306.6 311.8V413.3M322.1 311.8V437.9M341 311.8V478.3M345.4 311.8V550.2M353.8 311.8V438.9M361 311.8V488.1M364.3 311.8V477.3M398.6 311.8V447.7M411.9 311.8V412.3M418.1 311.8V507.8M431.9 311.8V412.3M452.9 311.8V435.9M471.5 311.8V479.2M491.7 311.8V455.6M524.3 311.8V472.4M539.4 311.8V447.7M564.2 311.8V426.1M597 311.8V480.2M617 311.8V456.6M630.3 311.8V465.5M650.2 311.8V443.8M666.2 311.8V516.7M669.7 311.8V533.4M689.9 311.8V462.5M742.6 311.8V553.1M775.9 311.8V478.3M795.8 311.8V457.6M815.8 311.8V525.5" stroke="#0000ff" stroke-width="1.8" fill="none"/>
<rect x="106" y="16.5" width="713" height="591" fill="none" stroke="#333" stroke-width="1.8"/>
<path d="M248.6 607.5v-8M248.6 16.5v8M391.2 607.5v-8M391.2 16.5v8M533.8 607.5v-8M533.8 16.5v8M676.4 607.5v-8M676.4 16.5v8" stroke="#333" stroke-width="1.5" opacity="1"/>
<path d="M106 508.8h8M819 508.8h-8M106 410.3h8M819 410.3h-8M106 311.8h8M819 311.8h-8M106 213.3h8M819 213.3h-8M106 114.8h8M819 114.8h-8" stroke="#333" stroke-width="1.5" opacity="1"/>
<text x="106" y="661.8" font-size="42" text-anchor="middle" fill="#303030">0</text>
<text x="248.6" y="661.8" font-size="42" text-anchor="middle" fill="#303030">0.2</text>
<text x="391.2" y="661.8" font-size="42" text-anchor="middle" fill="#303030">0.4</text>
<text x="533.8" y="661.8" font-size="42" text-anchor="middle" fill="#303030">0.6</text>
<text x="676.4" y="661.8" font-size="42" text-anchor="middle" fill="#303030">0.8</text>
<text x="819" y="661.8" font-size="42" text-anchor="middle" fill="#303030">1</text>
<text x="89.5" y="621.7" font-size="42" text-anchor="end" fill="#303030">-3</text>
<text x="89.5" y="523.2" font-size="42" text-anchor="end" fill="#303030">-2</text>
<text x="89.5" y="424.7" font-size="42" text-anchor="end" fill="#303030">-1</text>
<text x="89.5" y="326.2" font-size="42" text-anchor="end" fill="#303030">0</text>
<text x="89.5" y="227.7" font-size="42" text-anchor="end" fill="#303030">1</text>
<text x="89.5" y="129.2" font-size="42" text-anchor="end" fill="#303030">2</text>
<text x="89.5" y="30.7" font-size="42" text-anchor="end" fill="#303030">3</text>
<text x="460.5" y="717.5" font-size="44" text-anchor="middle" fill="#303030">Time /s</text>
<text x="33.5" y="313" font-size="44" text-anchor="middle" fill="#303030" transform="rotate(-90 33.5 313)">Amplitude/g</text>
<text x="472.5" y="814.5" font-size="41" text-anchor="middle" fill="#303030">(a)</text>
<path d="M1078.5 605.8V611.6M1079.5 602.2V613.3M1080.5 601.9V612.4M1081.5 601.2V612.3M1082.5 604.5V612.7M1083.5 600.1V612.4M1084.5 604.4V609.8M1085.5 595.9V612.8M1086.5 597V611.8M1087.5 596.6V611.9M1088.5 598.2V611M1089.5 599.1V611M1090.5 597.5V609.7M1091.5 597.5V610.8M1092.5 599.3V612.3M1093.5 596.9V610.9M1094.5 597.4V608.5M1095.5 593V608.4M1096.5 598V608.6M1097.5 599.6V612M1098.5 596.9V613.3M1099.5 595.3V610.9M1100.5 598.7V611.9M1101.5 595.3V612.7M1102.5 584.7V609.2M1103.5 585.9V613.5M1104.5 577.9V609.7M1105.5 584.9V610M1106.5 573.8V609.9M1107.5 571.3V606.4M1108.5 574.7V603.5M1109.5 574.5V606.7M1110.5 573V602.3M1111.5 571V611.2M1112.5 576.7V607.1M1113.5 571.1V606.9M1114.5 571.3V605.9M1115.5 576.5V604.7M1116.5 575.7V607.3M1117.5 568.7V605.8M1118.5 562.5V606.3M1119.5 566.7V613.2M1120.5 563.8V605.7M1121.5 557.1V612.8M1122.5 570.5V610.1M1123.5 557V610.3M1124.5 547.5V602.8M1125.5 553.5V609.9M1126.5 557.8V605M1127.5 561.5V602.7M1128.5 553.6V604.2M1129.5 550V606.1M1130.5 547.1V609.8M1131.5 530.5V602.9M1132.5 541.1V607.7M1133.5 524.4V602.7M1134.5 498.2V602.6M1135.5 506.4V607.3M1136.5 507.7V613.2M1137.5 513.2V606.9M1138.5 510.2V611M1139.5 502.5V609M1140.5 499V612.4M1141.5 490.1V611.5M1142.5 503.9V604.1M1143.5 489.1V607.9M1144.5 502.4V607M1145.5 499.4V609.5M1146.5 517.7V604.7M1147.5 512.4V604.9M1148.5 481.4V607.8M1149.5 504.1V606.9M1150.5 462.6V605.3M1151.5 479.2V604.3M1152.5 444.1V609.1M1153.5 469.9V604.5M1154.5 447.4V608.5M1155.5 452.5V607M1156.5 413.4V610.5M1157.5 399.3V609.1M1158.5 475.8V609.6M1159.5 423.8V604.5M1160.5 437.1V612.9M1161.5 485.4V612.5M1162.5 413.2V611.1M1163.5 436.3V611.2M1164.5 449.6V607.2M1165.5 428.8V604.9M1166.5 493.8V602.3M1167.5 453.2V610.8M1168.5 470.5V604M1169.5 511.3V611.8M1170.5 489.8V610.8M1171.5 456.8V606M1172.5 509.9V609.8M1173.5 503.2V608.4M1174.5 482.1V603.4M1175.5 508.1V605.5M1176.5 492.8V605.7M1177.5 501.2V610.5M1178.5 519.7V604.1M1179.5 525.9V610.2M1180.5 502.4V608.3M1181.5 511.4V604.2M1182.5 535.6V611.6M1183.5 549.6V613M1184.5 551.2V603.8M1185.5 553.6V602.8M1186.5 563V602.5M1187.5 583.9V612.5M1188.5 601.4V612M1189.5 600.5V611.6M1190.5 602.5V613.5M1191.5 605.2V609.7M1192.5 601.9V610.1M1193.5 604.5V611.3M1194.5 605.5V610.7M1195.5 604.1V612.6M1196.5 600.8V613.4M1197.5 603V611.1M1198.5 602V610.2M1199.5 588.7V608.3M1200.5 579.6V605.7M1201.5 576.5V604.7M1202.5 566.8V610.1M1203.5 573.9V607M1204.5 573.2V609.9M1205.5 562.8V612.3M1206.5 561.7V605M1207.5 574V608.3M1208.5 579.2V604.4M1209.5 569V610.9M1210.5 553.7V605M1211.5 570.8V603.5M1212.5 570.2V605.7M1213.5 551.3V608.1M1214.5 566.1V602.7M1215.5 554.4V610.9M1216.5 556.5V606.9M1217.5 563.7V603.4M1218.5 547.8V611.8M1219.5 549.8V611.3M1220.5 561.1V607.6M1221.5 563.9V604.3M1222.5 558.9V611.2M1223.5 539V608.2M1224.5 540.3V603.7M1225.5 529.4V608.3M1226.5 508.7V604.7M1227.5 516.8V602.2M1228.5 537.5V605.8M1229.5 535V607.5M1230.5 530.2V604.1M1231.5 510.7V606M1232.5 496.9V611.9M1233.5 512.5V612.1M1234.5 461.1V612.9M1235.5 493.7V607.4M1236.5 458.6V613.1M1237.5 444.2V607M1238.5 354.5V586.7M1239.5 331.4V586.7M1240.5 167.6V586.7M1241.5 271.3V586.7M1242.5 246.1V586.7M1243.5 233.7V586.7M1244.5 197.2V586.7M1245.5 237.3V586.7M1246.5 240.2V586.7M1247.5 271.2V586.7M1248.5 334.9V586.7M1249.5 316.3V586.7M1250.5 423.7V605.5M1251.5 394V603.4M1252.5 468.7V608.9M1253.5 435.2V605.4M1254.5 502.1V612.8M1255.5 455.4V602.1M1256.5 485.4V609.2M1257.5 488.3V609.6M1258.5 487.9V612.2M1259.5 517V609.9M1260.5 493.4V603.7M1261.5 511.2V604.4M1262.5 520.6V612.4M1263.5 470.3V603.8M1264.5 485.1V610M1265.5 509.3V602.1M1266.5 516.6V603.5M1267.5 520.5V609.7M1268.5 525.3V609.3M1269.5 497.7V611.9M1270.5 519V605.7M1271.5 498.6V607.5M1272.5 494.9V606.5M1273.5 512.5V611M1274.5 511V607.5M1275.5 514.9V609.2M1276.5 517V613.5M1277.5 516.4V605.4M1278.5 511.5V607.8M1279.5 530.8V604.4M1280.5 514.1V611M1281.5 521.7V602.9M1282.5 499.8V603.7M1283.5 538.9V605.6M1284.5 530.3V612.2M1285.5 518.5V608.1M1286.5 491.7V607.3M1287.5 523.2V610.6M1288.5 530V612.9M1289.5 521.3V611.2M1290.5 529V612.2M1291.5 532V610.4M1292.5 526.9V606.1M1293.5 506.8V606.9M1294.5 507.5V602.7M1295.5 525.1V609.3M1296.5 515.5V605.9M1297.5 466.5V609.5M1298.5 486.6V607.4M1299.5 459.7V605M1300.5 479.8V606.8M1301.5 445.4V610.1M1302.5 433.2V611.7M1303.5 381.4V605.5M1304.5 428.3V608.5M1305.5 385V606M1306.5 426.5V604M1307.5 415.2V606.8M1308.5 483.9V610.1M1309.5 479.7V602.5M1310.5 453.5V613.2M1311.5 488.8V608.6M1312.5 436.1V603.3M1313.5 445.8V602.4M1314.5 478.7V607.4M1315.5 432.9V607.4M1316.5 481.9V603.5M1317.5 424.5V613.1M1318.5 461.3V612.7M1319.5 460.8V602.8M1320.5 452V612.9M1321.5 466.6V604.6M1322.5 441.9V612.7M1323.5 469.8V604.8M1324.5 460.2V607.7M1325.5 407.7V611.6M1326.5 368.2V608.9M1327.5 439.8V611.4M1328.5 464.1V604.5M1329.5 465.5V603.7M1330.5 472.9V608.5M1331.5 414.4V609M1332.5 425.9V606.1M1333.5 444.9V606.2M1334.5 462V610M1335.5 432.6V611.7M1336.5 452V606.6M1337.5 463.7V609M1338.5 431.5V612.5M1339.5 510.1V608.7M1340.5 477.6V609M1341.5 494.1V612.1M1342.5 482.8V608.3M1343.5 523.6V612.8M1344.5 522.9V602.4M1345.5 517.1V606.8M1346.5 485.3V605.5M1347.5 479.6V609.1M1348.5 477.5V608.3M1349.5 512.1V603.4M1350.5 490.9V609.5M1351.5 532V608M1352.5 500.9V604.6M1353.5 510.5V611.5M1354.5 506.8V604.4M1355.5 522.1V607M1356.5 540.1V611.5M1357.5 536.3V602.8M1358.5 511.4V611.4M1359.5 521.5V602.3M1360.5 513.8V603.3M1361.5 532.4V608.1M1362.5 511.4V612.1M1363.5 536.3V612.1M1364.5 501.8V607.5M1365.5 533.2V602.5M1366.5 531.9V605.6M1367.5 520.4V603.4M1368.5 503.5V609.8M1369.5 519V605M1370.5 523.3V603.5M1371.5 547.4V611.2M1372.5 526.9V607.2M1373.5 521.2V613.2M1374.5 547.1V603.7M1375.5 522.5V613.5M1376.5 546.4V605.3M1377.5 539.3V608.2M1378.5 544.5V603.4M1379.5 553.8V610.2M1380.5 553.3V603.7M1381.5 533.7V604.2M1382.5 532.9V608.2M1383.5 536.5V608.2M1384.5 549.2V608.5M1385.5 536.4V604.6M1386.5 534.6V609.4M1387.5 535.4V611.5M1388.5 544.5V605.9M1389.5 541.2V610.9M1390.5 520.5V607.8M1391.5 557.5V608.3M1392.5 542.3V611.1M1393.5 524V611.5M1394.5 540.8V611.5M1395.5 552.5V609.7M1396.5 532.8V607.7M1397.5 540.5V610.5M1398.5 560.8V603.1M1399.5 548.1V609.7M1400.5 561.6V610.7M1401.5 551V607.8M1402.5 566.9V610.3M1403.5 554.2V607.3M1404.5 568.8V602.3M1405.5 572.5V612M1406.5 572.5V606.6M1407.5 571V604.7M1408.5 577V608.5M1409.5 581.2V613.5M1410.5 584.4V604.5M1411.5 579V605.6M1412.5 578.5V606.7M1413.5 583.3V610.7M1414.5 584.3V609.2M1415.5 578.8V611.7M1416.5 589.7V611.1M1417.5 580.5V612.6M1418.5 586.9V605.9M1419.5 588.5V608.4M1420.5 583.6V605.2M1421.5 584.3V611.6M1422.5 586.7V609.8M1423.5 576.9V604.7M1424.5 584.7V607.1M1425.5 587.3V608.5M1426.5 584.5V609.7M1427.5 590.5V604.6M1428.5 578.7V610.4M1429.5 592.1V611.1M1430.5 585.6V608.1M1431.5 583.2V613.4M1432.5 588.2V607.2M1433.5 588.7V613.5M1434.5 587.7V610.5M1435.5 585.5V610.5M1436.5 588.6V609.6M1437.5 582.8V608M1438.5 592.4V604.8M1439.5 584.4V605.7M1440.5 585.1V610M1441.5 590.8V612.3M1442.5 588.8V613.3M1443.5 583V609.4M1444.5 586.2V606.8M1445.5 576.8V604.4M1446.5 586V604.7M1447.5 578.2V606.9M1448.5 591.6V612.3M1449.5 589.1V604.8M1450.5 580.4V610.9M1451.5 581.4V611.5M1452.5 580.9V607.8M1453.5 588.9V605M1454.5 584.4V611.2M1455.5 579.5V613.4M1456.5 584.7V608.5M1457.5 586.8V612M1458.5 582.2V613M1459.5 590V605.3M1460.5 582.9V607.7M1461.5 584.3V613.1M1462.5 591.1V612.4M1463.5 576.2V608.4M1464.5 584.3V611.6M1465.5 585V607.9M1466.5 582V605.9M1467.5 584.3V611.3M1468.5 589.9V604.5M1469.5 580.2V606.1M1470.5 583.5V607.1M1471.5 582.3V612.5M1472.5 586.9V607.1M1473.5 588.3V608.7M1474.5 587.2V605.1M1475.5 578.5V609.9M1476.5 577.9V610.1M1477.5 577.7V605.9M1478.5 589.7V607.8M1479.5 588.3V609.8M1480.5 581.8V609.2M1481.5 585.7V607.8M1482.5 585.5V607.5M1483.5 590.7V607.6M1484.5 583V607.9M1485.5 583.8V611.6M1486.5 584.3V604.9M1487.5 587.9V607.4M1488.5 576.3V613.6M1489.5 589.1V609.9M1490.5 583.9V610M1491.5 592.1V607.5M1492.5 582.9V613.4M1493.5 587.3V612.9M1494.5 583.4V605.2M1495.5 575.7V612.9M1496.5 589.4V605.2M1497.5 582.9V613.1M1498.5 588V612.6M1499.5 584.5V608.2M1500.5 589.5V608.9M1501.5 582.7V605.5M1502.5 587.1V610.9M1503.5 591.1V604.7M1504.5 592.4V610.8M1505.5 589.1V610M1506.5 584V610.3M1507.5 581.4V605.3M1508.5 582.5V604.5M1509.5 588.1V610M1510.5 585.2V605.8M1511.5 589.1V606.8M1512.5 584.1V613.5M1513.5 585V612.2M1514.5 580.1V605.2M1515.5 586.6V612.6M1516.5 584.3V612.8M1517.5 588.6V608.2M1518.5 596V611.2M1519.5 591.4V612.9M1520.5 591.2V610.2M1521.5 590V607.9M1522.5 586.8V612.4M1523.5 594.3V610.3M1524.5 597.4V612.4M1525.5 596.7V607.5M1526.5 597.2V608.1M1527.5 584.9V607.2M1528.5 596.9V613.4M1529.5 591.8V610.3M1530.5 583.6V606.2M1531.5 580V604.1M1532.5 571.9V603.4M1533.5 585.2V612.1M1534.5 573.1V603.7M1535.5 576.2V603M1536.5 574.1V613.4M1537.5 583.8V606.3M1538.5 571.8V605.3M1539.5 575.2V609.8M1540.5 573.4V613.4M1541.5 576.4V612.7M1542.5 574.4V603.1M1543.5 572.9V607.8M1544.5 571.4V612.8M1545.5 574V602.5M1546.5 578.3V611.3M1547.5 576.2V605.9M1548.5 574.7V609.6M1549.5 576V610.5M1550.5 585.6V610M1551.5 577.5V606.9M1552.5 574.8V609.1M1553.5 580.2V609.9M1554.5 579.6V603.1M1555.5 584V609.5M1556.5 580.9V604.1M1557.5 582.3V611.4M1558.5 567.7V610.2M1559.5 585.6V604.5M1560.5 574.7V603M1561.5 581.8V613.1M1562.5 564.6V602.4M1563.5 575.3V612.4M1564.5 578.3V603.2M1565.5 583.4V606.3M1566.5 574.8V607.1M1567.5 577.6V608.8M1568.5 573V609.6M1569.5 579.3V603.6M1570.5 566.4V609.1M1571.5 577.9V612.4M1572.5 583.3V608.5M1573.5 580.6V604M1574.5 574.7V604.8M1575.5 571.2V611.6M1576.5 580.4V610.5M1577.5 578.9V602.5M1578.5 579.5V606.3M1579.5 568.4V607.4M1580.5 566.1V606.9M1581.5 556.3V612.6M1582.5 558.6V611.3M1583.5 567.4V606.7M1584.5 554V611.4M1585.5 565.9V611.1M1586.5 555.5V613.3M1587.5 566.1V613.4M1588.5 563.2V605.6M1589.5 569.8V606.2M1590.5 554.8V609.8M1591.5 553.4V610.8M1592.5 564.6V602.4M1593.5 551.6V608M1594.5 555.9V602.7M1595.5 565.1V605.8M1596.5 570.6V612.3M1597.5 556.4V604.1M1598.5 551V612M1599.5 563.7V612.9M1600.5 553V611.3M1601.5 553.3V609.2M1602.5 566.5V608.2M1603.5 555V611.7M1604.5 554.5V607.3M1605.5 565.7V602.9M1606.5 568.6V612.8M1607.5 568.5V603.3M1608.5 554.6V612.6M1609.5 554V605.4M1610.5 546.1V611.2M1611.5 572.1V612.1M1612.5 553.5V612.6M1613.5 557.4V612.5M1614.5 571.3V607.7M1615.5 569.6V613.4M1616.5 566.7V605.6M1617.5 561.6V611.3M1618.5 573.1V610.6M1619.5 561.8V603.6M1620.5 564.5V613.3M1621.5 565.7V603.2M1622.5 555.4V613.3M1623.5 567.9V604.5M1624.5 561.3V611.9M1625.5 565.3V610.5M1626.5 572.5V612M1627.5 562.3V605.8M1628.5 581.1V609.5M1629.5 581.3V610.5M1630.5 582.9V608.8M1631.5 573.4V609.8M1632.5 582.4V604.4M1633.5 586.5V607.6M1634.5 583.3V610.2M1635.5 571V606.3M1636.5 581.8V608.3M1637.5 574.6V609.6M1638.5 573.5V607M1639.5 577.2V606M1640.5 573.2V612.3M1641.5 576.6V613.1M1642.5 585.4V604.7M1643.5 586.1V607.7M1644.5 569.9V609M1645.5 574.9V603.9M1646.5 575.1V612.8M1647.5 582.3V603.7M1648.5 576.8V610.2M1649.5 585.3V605.7M1650.5 584.2V607.5M1651.5 586.7V605.5M1652.5 575.2V602.9M1653.5 578.7V606.7M1654.5 574.7V608.8M1655.5 580.6V610.4M1656.5 586V606.8M1657.5 567.3V605.5M1658.5 577.2V606.2M1659.5 575.4V611.1M1660.5 585V608.4M1661.5 579.1V606.4M1662.5 576.4V612.8M1663.5 570.1V609.7M1664.5 584.6V602.8M1665.5 577.5V606.8M1666.5 584.4V603.8M1667.5 579.6V606.2M1668.5 571.6V610M1669.5 569.2V609.5M1670.5 579.8V602.9M1671.5 578.2V604.6M1672.5 567.9V604.4M1673.5 585.5V604.9M1674.5 569.6V609.4M1675.5 581.6V603.1M1676.5 586.7V607.6M1677.5 573V608.5M1678.5 575.3V610.4M1679.5 587.3V613.2M1680.5 568.1V605.2M1681.5 569.5V604.2M1682.5 584.4V608.1M1683.5 587.4V607.6M1684.5 571.3V604.6M1685.5 569.8V608.5M1686.5 572.6V608.8M1687.5 579.3V603.7M1688.5 578.1V606M1689.5 581.2V609.7M1690.5 567.9V609M1691.5 581.3V603.7M1692.5 575.3V608.3M1693.5 578.1V612.4M1694.5 583.4V604M1695.5 576.8V610.6M1696.5 584.7V609M1697.5 587.2V610.9M1698.5 577.7V608M1699.5 584.1V612.3M1700.5 578V604.1M1701.5 570.5V606.6M1702.5 579.1V612M1703.5 580.7V603.2M1704.5 580.7V604.2M1705.5 586.9V606.8M1706.5 567.8V606.9M1707.5 583.4V613.5M1708.5 576.3V610.6M1709.5 579.4V605.3M1710.5 578.1V604.1M1711.5 581.9V609M1712.5 569V611.9M1713.5 582.6V612.9M1714.5 578.4V602.5M1715.5 575.6V607.9M1716.5 571V603.7M1717.5 575.5V607.6M1718.5 580.7V603.2M1719.5 586.8V609.2M1720.5 576.6V603M1721.5 576.8V604.5M1722.5 579.6V603M1723.5 587.3V612.2M1724.5 578.6V612M1725.5 586.2V607.5M1726.5 583.5V610.9M1727.5 576.7V606.5M1728.5 577.1V603M1729.5 577.5V604.8M1730.5 571.2V607.4M1731.5 584.7V608.3M1732.5 572V612.1M1733.5 579.4V605M1734.5 577.8V608.5M1735.5 570.4V612.3M1736.5 575.2V603.3M1737.5 584.4V602.8M1738.5 568.9V602.5M1739.5 579.9V610M1740.5 582.7V609.8M1741.5 584.9V608.4M1742.5 566.8V603M1743.5 577.1V605M1744.5 574.7V612M1745.5 572.4V612.9M1746.5 584.3V605.6M1747.5 577.4V605.5M1748.5 580.3V607M1749.5 576.1V602.6M1750.5 585.7V613.5" stroke="#0000ff" stroke-width="1.4" fill="none"/>
<path d="M1080 544.5V605.9M1085.1 576.2V605.9M1097 563.7V605.9M1109.8 512.9V605.9M1113.6 487V605.9M1116 522.5V605.9M1120.7 443.8V605.9M1125 471.6V605.9M1128.8 540.7V605.9M1131.9 366.1V605.9M1136.5 479.3V605.9M1140.8 427.5V605.9M1143.6 334.5V605.9M1147.4 155.1V605.9M1150.9 130.2V605.9M1155 86V605.9M1158.8 222.2V605.9M1163.1 338.3V605.9M1166.4 189.6V605.9M1170.2 304.7V605.9M1174.6 416V605.9M1177.9 282.7V605.9M1181.7 389.1V605.9M1184.7 471.6V605.9M1200 581V605.9M1204.3 521.5V605.9M1211.4 514.8V605.9M1215.2 512.9V605.9M1219 509V605.9M1222.9 506.2V605.9M1227.4 445.7V605.9M1230.5 462V605.9M1234.3 359.4V605.9M1236.8 398.7V605.9M1238.6 327.8V605.9M1240.6 185.8V605.9M1243.9 70.7V605.9M1247 177.2V605.9M1247.8 122.5V605.9M1249.5 348.9V605.9M1252.1 408.3V605.9M1257.2 441.9V605.9M1263.5 462V605.9M1269.9 454.4V605.9M1277.5 427.5V605.9M1284.3 403.5V605.9M1287.7 457.2V605.9M1293.5 471.6V605.9M1300.4 370V605.9M1304.9 341.2V605.9M1309.3 457.2V605.9M1315.6 394.9V605.9M1322 387.2V605.9M1326.5 391.1V605.9M1330.9 403.5V605.9M1334.7 426.5V605.9M1338.5 487V605.9M1346.9 477.4V605.9M1355 494.6V605.9M1363.1 466.8V605.9M1374 525.3V605.9M1378.6 514.8V605.9M1388 532.1V605.9M1395.7 537.8V605.9M1393 540.7V605.9M1400 542.6V605.9M1588 534V605.9M1570 557V605.9M1553 559.9V605.9M1612 552.2V605.9M1640 562.7V605.9M1660 565.6V605.9M1740 550.3V605.9M1746 552.2V605.9M1690 567.5V605.9M1440 572.3V605.9M1470 573.3V605.9M1500 575.2V605.9" stroke="#0000ff" stroke-width="1.8" fill="none"/>
<rect x="1078" y="40" width="736.5" height="575.5" fill="none" stroke="#333" stroke-width="1.8"/>
<path d="M1183.2 615.5v-8M1183.2 40v8M1288.4 615.5v-8M1288.4 40v8M1393.6 615.5v-8M1393.6 40v8M1498.9 615.5v-8M1498.9 40v8M1604.1 615.5v-8M1604.1 40v8M1709.3 615.5v-8M1709.3 40v8" stroke="#333" stroke-width="1.5" opacity="1"/>
<path d="M1078 519.6h8M1814.5 519.6h-8M1078 423.7h8M1814.5 423.7h-8M1078 327.8h8M1814.5 327.8h-8M1078 231.8h8M1814.5 231.8h-8M1078 135.9h8M1814.5 135.9h-8" stroke="#333" stroke-width="1.5" opacity="1"/>
<text x="1078" y="663.6" font-size="36" text-anchor="middle" fill="#303030">0</text>
<text x="1183.2" y="663.6" font-size="36" text-anchor="middle" fill="#303030">1000</text>
<text x="1288.4" y="663.6" font-size="36" text-anchor="middle" fill="#303030">2000</text>
<text x="1393.6" y="663.6" font-size="36" text-anchor="middle" fill="#303030">3000</text>
<text x="1498.9" y="663.6" font-size="36" text-anchor="middle" fill="#303030">4000</text>
<text x="1604.1" y="663.6" font-size="36" text-anchor="middle" fill="#303030">5000</text>
<text x="1709.3" y="663.6" font-size="36" text-anchor="middle" fill="#303030">6000</text>
<text x="1814.5" y="663.6" font-size="36" text-anchor="middle" fill="#303030">7000</text>
<text x="1063.3" y="629.5" font-size="36" text-anchor="end" fill="#303030">0</text>
<text x="1063.3" y="533.6" font-size="36" text-anchor="end" fill="#303030">0.01</text>
<text x="1063.3" y="437.7" font-size="36" text-anchor="end" fill="#303030">0.02</text>
<text x="1063.3" y="341.8" font-size="36" text-anchor="end" fill="#303030">0.03</text>
<text x="1063.3" y="245.8" font-size="36" text-anchor="end" fill="#303030">0.04</text>
<text x="1063.3" y="149.9" font-size="36" text-anchor="end" fill="#303030">0.05</text>
<text x="1063.3" y="54" font-size="36" text-anchor="end" fill="#303030">0.06</text>
<text x="1445.5" y="710.5" font-size="39" text-anchor="middle" fill="#303030">Frequency/Hz</text>
<text x="984" y="327" font-size="39" text-anchor="middle" fill="#303030" transform="rotate(-90 984 327)">Ampitude/g</text>
<text x="1378" y="815" font-size="41" text-anchor="middle" fill="#303030">(b)</text>
<g clip-path="url(#cc)">
<rect x="142" y="916" width="746.5" height="566" fill="url(#gc)"/>
<g filter="url(#bc4)">
<path fill="#0000c0" fill-opacity="0.25" d="M208 1155h278v3h-278zM841 1110h94v3h-94zM587 1167h134v3h-134zM121 1080h102v4h-102zM762 1175h93v4h-93zM435 1126h60v3h-60zM101 1012h277v3h-277zM236 1049h274v2h-274zM723 940h293v3h-293zM613 1230h184v2h-184zM549 1119h155v2h-155zM644 1122h212v3h-212zM546 1031h274v3h-274zM580 1239h356v3h-356zM410 1128h294v3h-294zM66 1283h114v3h-114zM299 971h284v2h-284zM393 1172h286v2h-286zM710 1062h183v2h-183zM243 1048h64v2h-64zM324 1212h312v3h-312zM376 1171h119v4h-119zM587 1135h166v3h-166zM243 926h77v2h-77zM297 979h200v4h-200zM748 1039h228v4h-228zM243 1126h120v4h-120zM248 1065h245v3h-245zM466 929h63v3h-63zM500 920h185v3h-185zM512 1071h187v3h-187zM788 1080h225v2h-225zM274 1274h108v3h-108zM202 919h97v4h-97zM623 989h65v2h-65zM150 975h248v3h-248zM95 942h331v3h-331zM799 1183h96v3h-96zM308 1170h135v4h-135zM734 1066h70v4h-70zM645 1030h337v3h-337zM278 1026h125v2h-125zM52 933h180v3h-180zM832 1199h75v3h-75zM268 1119h100v3h-100zM234 1260h66v3h-66zM263 1136h241v2h-241zM271 1029h229v4h-229zM454 934h127v4h-127zM232 1095h188v4h-188zM148 1181h166v4h-166zM146 1055h158v4h-158zM375 988h120v4h-120zM476 918h360v4h-360zM107 1111h85v3h-85zM272 961h83v4h-83zM823 916h64v2h-64zM165 919h330v2h-330zM397 975h349v3h-349zM466 998h249v4h-249zM525 1156h223v3h-223zM499 1005h171v2h-171zM156 990h316v3h-316zM226 1444h315v4h-315zM498 1089h68v3h-68zM866 1135h66v2h-66zM530 991h66v3h-66zM323 1197h148v2h-148zM703 1028h248v3h-248zM61 985h321v4h-321zM-3 1111h283v4h-283zM469 1040h183v4h-183zM757 986h217v3h-217zM417 952h123v3h-123zM696 1126h284v2h-284zM210 1006h162v3h-162zM484 1166h93v2h-93zM298 1236h296v4h-296zM75 1032h153v2h-153zM405 972h341v3h-341zM452 1003h60v2h-60zM266 998h250v3h-250zM606 1074h358v2h-358z"/>
<path fill="#0000c0" fill-opacity="0.50" d="M91 1029h138v2h-138zM49 1066h168v2h-168zM214 1103h331v4h-331zM430 1079h152v3h-152zM550 932h90v3h-90zM38 1037h275v2h-275zM695 1001h99v2h-99z"/>
<path fill="#0c26fa" fill-opacity="0.25" d="M586 1074h63v3h-63zM-9 1059h335v2h-335zM630 1119h313v2h-313zM344 943h122v3h-122zM596 1060h65v3h-65zM676 1162h181v4h-181zM103 1157h99v2h-99zM445 1111h163v2h-163zM234 951h249v2h-249zM117 1051h74v2h-74zM775 1056h159v2h-159zM534 1083h94v2h-94zM226 1160h332v2h-332zM592 1143h60v2h-60zM461 1234h340v2h-340zM541 1197h64v2h-64zM826 1154h133v2h-133zM180 1076h269v4h-269zM230 1139h75v3h-75zM399 1096h60v2h-60zM68 1167h283v4h-283zM339 982h310v2h-310zM404 1035h322v3h-322zM87 1122h73v3h-73zM810 1158h157v2h-157zM242 965h184v4h-184zM531 1092h262v3h-262zM712 1015h255v3h-255zM119 1370h164v2h-164zM-40 1085h353v4h-353zM192 1263h343v2h-343zM322 921h80v3h-80zM100 1174h64v3h-64zM229 1089h230v4h-230zM572 1005h280v3h-280zM783 1124h127v3h-127zM735 1171h222v3h-222zM210 1122h130v4h-130zM587 1154h102v3h-102zM252 1108h209v4h-209zM136 1078h298v2h-298zM120 922h65v2h-65zM780 1150h176v2h-176zM591 918h254v3h-254zM499 995h89v2h-89zM448 946h284v3h-284zM308 1040h307v2h-307zM873 1030h67v3h-67zM590 1023h339v2h-339zM101 919h116v3h-116zM333 1021h87v3h-87zM-24 1132h310v4h-310zM854 1111h78v2h-78zM658 1183h113v3h-113zM366 1105h330v2h-330zM497 1116h139v3h-139zM510 1040h247v4h-247zM466 1152h110v3h-110zM580 917h114v3h-114zM134 1021h148v4h-148zM124 1041h69v3h-69zM512 1072h171v2h-171zM354 1061h271v3h-271zM211 1187h340v2h-340zM366 1036h337v2h-337zM114 1197h277v3h-277zM-1 1025h339v2h-339zM634 1111h270v2h-270zM548 1014h81v2h-81zM476 1177h131v3h-131zM109 1174h293v4h-293zM73 1063h109v2h-109z"/>
<path fill="#0c26fa" fill-opacity="0.50" d="M113 1094h180v3h-180zM347 1394h247v3h-247zM593 915h87v4h-87zM367 1076h260v2h-260zM727 1021h274v3h-274zM203 1161h66v2h-66zM610 1036h95v3h-95zM334 987h240v3h-240zM208 966h289v2h-289zM484 1006h86v2h-86zM736 1034h230v2h-230zM688 1049h150v2h-150zM417 1182h78v3h-78zM453 1117h61v3h-61zM450 915h60v3h-60zM704 949h126v3h-126zM703 915h119v3h-119zM778 1155h232v2h-232zM857 1095h100v4h-100zM77 986h294v2h-294zM138 917h195v3h-195zM184 1060h199v3h-199zM240 1038h165v2h-165zM641 1131h153v3h-153zM59 918h186v4h-186zM602 979h355v2h-355zM87 1148h301v4h-301zM237 1100h113v3h-113zM210 1014h71v2h-71zM119 1137h261v2h-261zM270 1167h161v3h-161zM656 1095h119v3h-119zM425 939h315v3h-315zM733 967h123v3h-123zM685 952h63v2h-63zM639 958h279v2h-279zM397 993h263v3h-263zM639 947h71v4h-71zM793 922h120v3h-120zM331 1006h340v2h-340zM711 928h70v2h-70zM727 1118h149v3h-149zM415 945h224v2h-224zM756 1042h246v4h-246zM415 1050h64v2h-64zM63 1143h155v3h-155zM435 1155h348v3h-348zM468 1040h122v3h-122zM532 1101h244v2h-244zM54 954h268v3h-268zM507 1007h127v4h-127zM42 1188h350v3h-350zM794 1359h60v4h-60zM419 1035h87v3h-87zM507 971h157v4h-157zM504 1114h104v2h-104zM471 1140h136v2h-136zM215 978h223v3h-223zM177 1053h104v3h-104zM86 945h201v4h-201zM456 1025h61v3h-61zM774 1163h207v2h-207zM484 1044h154v3h-154zM704 1049h248v2h-248zM181 1194h338v3h-338zM496 1149h188v3h-188zM857 1148h101v2h-101zM287 1076h114v4h-114zM654 1408h269v4h-269zM158 972h178v2h-178zM435 1081h239v4h-239zM95 917h146v4h-146zM289 1360h274v2h-274zM616 1193h243v4h-243zM579 969h234v3h-234zM784 1151h64v2h-64zM137 929h85v2h-85zM247 954h157v4h-157zM371 993h133v2h-133zM275 948h152v3h-152zM659 1386h259v2h-259zM418 934h76v2h-76zM722 1185h304v2h-304zM759 1170h159v3h-159zM431 997h81v3h-81zM839 1050h79v2h-79zM819 965h84v2h-84zM620 1052h268v3h-268zM662 1075h74v4h-74zM285 1062h194v2h-194zM315 962h338v3h-338zM768 917h206v2h-206zM253 1129h63v3h-63zM656 1147h90v4h-90zM395 1190h181v4h-181zM722 1164h101v3h-101zM406 964h61v2h-61zM335 1180h354v2h-354zM558 1053h297v3h-297zM592 1037h120v2h-120zM246 1104h104v3h-104zM422 1241h116v3h-116zM408 1163h129v2h-129zM118 1041h257v2h-257zM564 1043h178v2h-178zM233 1024h215v4h-215zM451 1202h325v3h-325zM213 934h103v4h-103zM556 1184h135v3h-135zM4 1040h286v3h-286zM170 1096h145v2h-145zM528 1043h147v2h-147zM428 1172h203v3h-203zM333 1037h170v4h-170zM363 1004h138v3h-138zM401 982h125v3h-125zM585 1134h252v4h-252zM796 976h89v2h-89zM571 1105h93v4h-93zM803 950h103v2h-103zM569 1067h158v2h-158zM141 1082h240v3h-240zM802 965h187v4h-187zM340 1081h217v2h-217zM610 995h62v3h-62zM770 979h228v3h-228zM380 1216h80v2h-80zM575 1071h283v4h-283zM629 1138h117v2h-117zM751 1087h180v2h-180zM622 990h196v2h-196zM725 1094h285v2h-285zM678 1121h114v3h-114zM572 1138h276v3h-276zM622 1019h149v4h-149zM526 1373h217v3h-217zM790 927h146v2h-146zM703 950h83v2h-83zM178 924h106v4h-106zM334 1225h311v3h-311z"/>
<path fill="#0c26fa" fill-opacity="0.75" d="M459 936h119v2h-119zM594 1188h199v3h-199zM473 926h174v3h-174zM790 959h68v4h-68zM-3 976h257v4h-257zM813 1134h116v2h-116zM378 1054h109v4h-109zM483 1075h174v2h-174z"/>
</g></g>
<line x1="142" y1="916" x2="888.5" y2="1482" stroke="#6a78ff" stroke-opacity="0.28" stroke-width="1.2"/>
<path d="M328 1482v-9M328 916v9M514 1482v-9M514 916v9M699.4 1482v-9M699.4 916v9" stroke="#1a1a60" stroke-width="1.5" opacity="0.6"/>
<path d="M142 940.4h9M888.5 940.4h-9M142 1049.7h9M888.5 1049.7h-9M142 1158.5h9M888.5 1158.5h-9M142 1267.5h9M888.5 1267.5h-9M142 1376.5h9M888.5 1376.5h-9" stroke="#1a1a60" stroke-width="1.5" opacity="0.6"/>
<rect x="142" y="916" width="746.5" height="566" fill="none" stroke="#2a2a40" stroke-width="2.2"/>
<rect x="213.2" y="1083" width="593.1" height="61" fill="none" stroke="#ff1010" stroke-width="4.6" stroke-dasharray="18.5 11.5"/>
<line x1="746.4" y1="1008.8" x2="711.3" y2="1034.8" stroke="#e01530" stroke-width="2.6"/>
<path d="M689.6 1050.9L703.8 1024.8L718.7 1044.9Z" fill="#ff1010"/>
<text x="760.5" y="1007.5" font-size="46" fill="#fff" style="font-family:&quot;DejaVu Serif&quot;,serif;font-style:italic">f</text>
<text x="784" y="1010" font-size="29" fill="#fff">i</text>
<text x="108" y="933.2" font-size="51.5" text-anchor="middle" fill="#303030">5</text>
<text x="108" y="1043.8" font-size="51.5" text-anchor="middle" fill="#303030">4</text>
<text x="108" y="1155.5" font-size="51.5" text-anchor="middle" fill="#303030">3</text>
<text x="108" y="1269.1" font-size="51.5" text-anchor="middle" fill="#303030">2</text>
<text x="108" y="1377.5" font-size="51.5" text-anchor="middle" fill="#303030">1</text>
<text x="108" y="1489.9" font-size="51.5" text-anchor="middle" fill="#303030">0</text>
<text x="140" y="1542.5" font-size="51.5" text-anchor="middle" fill="#303030">0</text>
<text x="330" y="1542.5" font-size="51.5" text-anchor="middle" fill="#303030">0.02</text>
<text x="519.7" y="1542.5" font-size="51.5" text-anchor="middle" fill="#303030">0.04</text>
<text x="709.7" y="1542.5" font-size="51.5" text-anchor="middle" fill="#303030">0.06</text>
<text x="518.7" y="1613.2" font-size="56.5" text-anchor="middle" fill="#303030">Time/s</text>
<text x="71.2" y="1193" font-size="53" text-anchor="middle" fill="#303030" transform="rotate(-90 71.2 1193)">Frequency/KHz</text>
<text x="443" y="1725" font-size="42" text-anchor="middle" fill="#303030">(c)</text>
<g clip-path="url(#cd)">
<rect x="1061.5" y="921.5" width="753" height="556" fill="url(#gd)"/>
<g filter="url(#sb)">
<path fill="#3e26a8" fill-opacity="0.50" d="M998 1006h97v2h-97zM1274 1113h22v2h-22zM1205 968h22v2h-22zM1236 1083h28v2h-28zM1148 1125h109v3h-109zM1557 948h52v2h-52zM1560 1362h70v3h-70zM1146 1172h39v2h-39zM1227 1301h87v3h-87zM1424 1034h85v2h-85zM1712 1352h45v3h-45zM1757 1040h84v2h-84zM1686 1254h85v2h-85zM1533 965h21v2h-21zM1050 1296h35v3h-35zM1646 1159h72v2h-72zM1329 1260h116v3h-116zM1170 1323h94v3h-94zM1452 1312h33v3h-33zM1607 1087h22v3h-22zM1101 1069h69v2h-69zM1299 1165h102v2h-102zM1113 1104h22v2h-22zM1208 1266h36v3h-36zM1451 943h99v3h-99zM1384 953h32v2h-32zM1225 1237h35v2h-35zM1505 965h61v3h-61zM1520 1079h120v2h-120zM1464 1180h47v2h-47zM1418 1305h99v2h-99zM1530 1254h50v2h-50zM1247 968h75v2h-75zM1772 1138h34v2h-34zM1335 1318h92v3h-92zM1018 1013h121v3h-121zM1086 1457h125v3h-125zM1236 1319h38v3h-38zM1047 938h27v3h-27zM1160 992h91v2h-91zM1705 1146h42v2h-42zM1110 1207h22v2h-22zM1118 1255h42v3h-42zM1746 954h89v2h-89zM1613 1103h57v3h-57zM1757 1297h43v3h-43zM1059 957h94v2h-94zM1534 1087h110v2h-110zM1094 1078h90v3h-90zM1254 1020h55v3h-55zM1525 1176h129v2h-129zM1480 1097h34v2h-34zM1449 1133h76v3h-76zM1748 1344h28v2h-28zM1782 1048h25v2h-25zM1208 1035h43v3h-43zM1654 999h35v3h-35zM1316 1022h96v3h-96zM1005 933h75v3h-75zM1077 1333h21v2h-21zM1025 927h35v2h-35zM1175 934h78v3h-78zM1319 1266h107v3h-107zM1226 926h29v3h-29zM1256 1334h28v2h-28zM1048 1267h104v2h-104zM1322 1104h27v2h-27zM1520 1282h78v3h-78zM1059 1354h90v3h-90zM1526 1029h20v3h-20zM1709 1148h70v2h-70zM1269 1361h36v3h-36zM1621 1172h27v3h-27zM1669 1205h68v2h-68zM1578 1269h56v2h-56zM1430 1099h43v3h-43zM1374 957h90v3h-90zM1363 1195h91v3h-91zM1251 1047h60v3h-60zM1202 1073h29v3h-29zM1463 1145h34v2h-34zM1789 1337h63v2h-63zM1314 1253h57v2h-57zM1682 1148h126v2h-126zM1760 972h97v2h-97zM1116 1265h56v2h-56zM1782 1117h21v3h-21zM1378 1111h26v3h-26zM1251 954h24v2h-24zM1578 1279h94v3h-94zM1364 1343h20v3h-20zM1604 1021h52v2h-52zM1757 1095h26v3h-26zM1226 1308h28v3h-28zM1082 1436h40v2h-40zM1371 1050h32v2h-32zM1016 968h67v3h-67zM1805 1163h40v2h-40zM1216 1327h73v2h-73zM1006 1144h115v2h-115zM1189 1047h55v3h-55zM1266 1301h55v2h-55zM1236 1324h67v3h-67zM1521 1260h79v3h-79zM1794 963h30v3h-30zM1643 956h84v3h-84zM1309 1130h99v2h-99zM1444 989h86v2h-86zM1452 1096h73v3h-73zM1301 1210h79v3h-79zM1310 1150h21v3h-21zM1350 1157h120v2h-120zM1415 1106h118v3h-118zM1410 1195h72v2h-72zM1123 976h30v3h-30zM1623 1322h49v3h-49zM1477 965h125v3h-125zM1048 1192h102v2h-102zM1063 951h49v3h-49zM1442 1097h48v3h-48zM1249 988h125v3h-125zM1370 1166h29v2h-29zM1384 1231h28v3h-28zM1680 930h129v2h-129zM1602 1244h49v3h-49zM1680 949h22v2h-22zM1212 1063h102v2h-102zM1320 939h90v2h-90zM1456 1076h60v2h-60zM1257 1324h27v3h-27zM1556 950h117v2h-117zM1151 1136h28v3h-28zM991 1123h122v2h-122zM1232 1139h89v2h-89zM1674 1040h54v3h-54zM1168 969h51v2h-51zM1324 1288h43v2h-43zM1181 1304h58v2h-58zM1284 1256h26v3h-26zM1077 1149h37v2h-37zM1666 1271h23v3h-23zM1115 1101h34v3h-34zM1433 1228h124v2h-124zM1436 1002h34v2h-34zM1183 1156h103v2h-103zM1575 972h22v2h-22zM1774 983h70v2h-70zM1498 1218h86v2h-86zM1573 1051h31v2h-31zM1751 1322h120v2h-120zM1476 1197h34v2h-34zM1717 1196h99v2h-99zM1778 1326h94v2h-94zM1689 1262h33v3h-33zM1106 1065h113v2h-113zM1645 971h24v2h-24zM1701 1274h89v2h-89zM1482 932h28v3h-28zM1336 1047h116v2h-116zM1184 1154h85v3h-85zM1153 1210h126v3h-126zM1637 1067h62v2h-62zM1168 971h71v3h-71zM1040 1190h62v2h-62zM1645 1129h20v2h-20zM1739 1248h30v2h-30zM1149 1016h82v2h-82zM1240 998h94v3h-94zM1462 1119h64v3h-64zM1168 988h42v2h-42zM1544 1313h50v2h-50zM1369 1395h20v3h-20zM1345 1111h21v2h-21zM1269 958h74v3h-74zM1103 981h93v3h-93zM1388 1149h49v3h-49zM1113 1148h100v2h-100zM1125 1090h127v3h-127zM1649 1168h22v2h-22zM1777 1049h23v2h-23zM1451 923h72v3h-72zM1226 1052h65v2h-65zM1504 1019h52v3h-52zM1511 1333h78v2h-78zM1219 1041h56v3h-56zM1563 1288h66v3h-66zM1021 1272h101v2h-101zM1712 1120h124v2h-124zM1784 979h49v3h-49zM1822 929h25v2h-25zM1791 1117h52v2h-52zM1057 1285h111v2h-111zM1415 964h70v3h-70zM1528 1120h110v3h-110zM1298 987h127v3h-127zM1174 1121h122v2h-122zM1095 1163h123v2h-123zM1388 1036h51v3h-51zM1104 1160h32v3h-32zM1096 944h102v2h-102zM1436 941h30v3h-30zM1607 1400h45v2h-45zM1553 1043h76v3h-76zM1376 1017h80v3h-80zM990 1086h112v2h-112zM1267 1171h71v3h-71zM1088 1284h29v3h-29zM1065 999h51v2h-51zM1501 1093h89v2h-89zM1418 1127h20v3h-20zM1800 1278h46v2h-46zM1074 936h74v3h-74zM1639 928h33v2h-33zM1064 1048h67v2h-67zM1145 1239h75v2h-75zM1692 1134h31v3h-31zM1779 1329h60v3h-60zM1730 1232h33v3h-33zM1339 1210h80v2h-80zM1433 1126h93v2h-93zM1623 1091h105v2h-105zM1556 1111h24v3h-24zM1551 1174h35v2h-35zM1514 1180h98v3h-98zM1298 1245h25v2h-25zM1088 1064h110v2h-110zM1323 970h46v2h-46zM1354 1094h118v3h-118zM1696 1101h83v3h-83zM1456 1245h76v2h-76zM1301 1030h21v2h-21zM1720 1127h21v3h-21zM1314 924h58v2h-58zM1714 1159h116v2h-116zM1465 1271h36v2h-36zM1103 1327h54v3h-54zM1178 1308h117v2h-117zM1340 926h81v2h-81zM1290 1311h99v3h-99zM1413 1207h21v3h-21zM1508 956h84v3h-84zM1312 1278h97v3h-97zM1252 1204h70v3h-70zM1026 1022h112v2h-112zM1248 1307h112v3h-112zM985 1313h119v2h-119zM1451 994h39v3h-39zM1613 1193h68v2h-68zM1669 1032h42v3h-42zM1751 927h108v3h-108zM1319 1295h62v2h-62zM1519 987h39v2h-39zM1770 1063h22v3h-22zM1272 1128h97v3h-97zM1560 970h43v2h-43zM1368 1291h122v3h-122zM1206 942h78v2h-78zM1457 932h116v3h-116zM1025 988h71v3h-71zM1276 1198h117v2h-117zM1040 1262h117v2h-117zM1499 1130h82v2h-82zM1669 1345h66v2h-66zM1802 927h45v2h-45zM1148 1144h48v2h-48zM1796 987h21v2h-21zM1368 1313h78v3h-78zM1750 1274h29v2h-29zM1634 1151h47v3h-47zM1630 1299h71v2h-71zM1382 1160h31v2h-31zM1114 961h112v3h-112zM1747 1228h26v2h-26zM1439 1340h61v3h-61zM1677 1037h75v2h-75zM1238 1128h21v3h-21zM1509 1312h83v2h-83zM1456 1261h72v3h-72zM1042 1211h54v3h-54zM1120 1085h20v3h-20zM1276 1048h55v2h-55zM1454 1080h98v2h-98zM1675 1105h32v2h-32zM1738 1068h83v2h-83zM1468 930h51v3h-51zM1264 1090h26v3h-26zM1772 1102h103v3h-103zM1610 1345h46v2h-46zM1281 990h86v3h-86zM1064 925h104v3h-104zM1350 1205h69v2h-69zM1308 1101h62v3h-62zM1051 1338h76v2h-76zM1787 1260h39v2h-39zM1339 1285h56v2h-56zM1520 968h109v2h-109zM1309 1126h98v3h-98zM1134 1384h21v2h-21zM1430 941h94v2h-94zM1087 1094h53v3h-53zM1786 1359h61v2h-61zM1259 1149h20v2h-20zM1499 1073h111v2h-111zM1598 1196h97v3h-97zM1135 1235h38v3h-38zM1731 1214h24v3h-24zM1057 979h82v3h-82zM1779 1146h34v3h-34zM1759 1248h51v3h-51zM1805 1194h44v3h-44zM1189 1292h46v3h-46zM1172 1133h26v3h-26zM1562 955h36v3h-36zM1733 1206h28v3h-28zM1231 1181h73v3h-73zM1660 952h27v2h-27zM1648 1103h29v2h-29zM1382 1333h68v3h-68zM1457 1321h37v2h-37zM1788 989h61v3h-61zM1073 936h83v3h-83zM1569 1243h70v3h-70zM1550 1266h57v2h-57zM1034 992h45v3h-45zM1391 1245h49v2h-49zM1092 1093h38v3h-38zM1478 1125h70v2h-70zM1595 1142h23v2h-23zM1025 984h124v2h-124zM1338 1155h22v3h-22zM1177 965h21v2h-21zM1038 1103h22v2h-22zM1265 1133h103v2h-103zM1154 1135h26v3h-26zM1588 1155h52v2h-52zM1386 1233h93v3h-93zM1319 1047h56v2h-56zM1217 1043h114v3h-114zM1465 1281h97v3h-97zM1238 1011h45v2h-45zM1380 1189h60v2h-60zM1786 1212h95v2h-95zM1645 1324h127v2h-127zM1766 1294h48v3h-48zM1578 1037h24v3h-24zM1352 1092h95v3h-95zM1502 950h118v3h-118zM1514 1293h70v2h-70zM1045 1241h29v2h-29zM1224 1175h78v2h-78zM1724 1079h96v3h-96zM1059 973h45v3h-45zM1114 1268h50v3h-50zM1264 1311h76v2h-76zM1570 1095h76v3h-76zM1147 1019h68v2h-68zM1260 926h43v3h-43zM1506 963h65v2h-65zM1025 1140h48v2h-48zM1234 1291h33v2h-33zM1605 1286h105v3h-105zM1691 1260h80v2h-80zM1289 1133h112v3h-112zM1459 1000h35v3h-35zM1524 1314h73v2h-73zM1534 1139h62v2h-62zM1568 1003h90v2h-90zM1155 1200h62v3h-62zM1062 1311h130v3h-130zM1290 1149h81v2h-81zM1331 1057h30v3h-30zM1475 957h61v2h-61zM1683 960h59v2h-59zM1278 1067h40v3h-40zM1743 1308h52v3h-52zM1263 1020h120v3h-120zM1344 1120h21v3h-21zM1002 1014h92v3h-92zM1280 951h21v3h-21zM1314 1203h46v3h-46zM1021 1044h126v2h-126zM1771 971h44v3h-44zM1161 1095h120v3h-120zM1680 1029h114v2h-114z"/>
<path fill="#3e26a8" fill-opacity="0.75" d="M1241 1132h21v2h-21zM1726 1261h123v3h-123zM1056 1255h70v2h-70zM1509 1244h28v2h-28zM1407 951h31v2h-31zM1410 1031h82v3h-82zM1475 967h30v3h-30zM1623 994h71v3h-71zM1287 1145h64v2h-64zM1241 1126h49v2h-49zM1328 987h53v2h-53zM1420 1054h94v2h-94zM1621 1155h25v3h-25zM1531 938h28v2h-28zM1493 1122h22v2h-22zM1451 1311h36v3h-36zM1502 1172h129v2h-129zM1271 1136h75v3h-75zM1182 954h56v2h-56zM1078 1224h25v2h-25zM1202 1336h32v3h-32zM1487 1078h40v2h-40zM1095 1176h49v2h-49zM1354 1367h21v2h-21zM1698 1030h61v3h-61zM1258 1254h76v3h-76zM1321 1028h121v3h-121zM1579 1160h100v3h-100zM1566 1101h60v2h-60zM1304 1286h21v2h-21zM1205 1057h89v2h-89zM1530 1322h111v3h-111zM1453 1146h69v2h-69zM1638 1127h82v2h-82zM1172 1065h62v2h-62zM1077 1300h77v3h-77zM1324 1264h125v3h-125zM1449 929h22v3h-22zM1300 984h46v2h-46zM1398 1081h95v3h-95zM1442 1076h88v3h-88zM1146 1091h109v2h-109zM1521 1172h73v3h-73zM1116 1023h109v2h-109zM1217 1149h71v3h-71zM1559 1325h78v2h-78zM1501 1235h94v2h-94zM1645 1311h24v3h-24zM1532 943h47v3h-47zM1559 1185h96v3h-96zM1132 1327h33v2h-33zM1582 932h99v2h-99zM1695 1237h50v3h-50zM1723 980h39v2h-39zM1578 971h47v2h-47zM1238 959h59v2h-59zM1253 1168h30v3h-30zM1568 1266h53v3h-53zM1622 1241h34v3h-34zM1619 1048h100v3h-100zM1767 1146h33v2h-33zM1370 1085h34v2h-34zM1086 1004h21v3h-21zM1468 993h78v2h-78zM1324 952h74v2h-74zM1471 1074h21v2h-21zM1076 1005h115v2h-115zM1533 1293h54v3h-54zM1308 1264h82v3h-82zM1285 1019h120v2h-120zM1657 1123h48v3h-48zM1486 1178h43v2h-43zM1116 930h34v3h-34zM1642 1039h27v3h-27zM1222 1159h102v3h-102zM1387 1317h56v3h-56zM1522 1173h21v2h-21zM1420 1317h30v3h-30zM995 1119h106v2h-106zM1162 1217h87v2h-87zM1431 1115h41v3h-41zM1025 1239h115v3h-115zM1698 1086h24v2h-24zM1535 1280h53v2h-53zM1328 1306h42v3h-42zM1406 1278h79v3h-79zM1806 1115h24v3h-24zM1221 1113h81v2h-81zM1304 1014h116v2h-116zM1776 1279h61v2h-61zM1298 948h33v2h-33zM1355 1121h60v3h-60zM1300 953h124v3h-124zM1617 1248h117v3h-117zM1622 1279h55v3h-55zM1215 947h105v2h-105zM1433 1118h20v2h-20zM1503 1460h99v3h-99zM1331 1253h129v2h-129zM1043 1012h23v3h-23zM1331 1375h112v3h-112zM1015 1155h127v3h-127zM1016 1295h111v3h-111zM1187 1105h30v2h-30zM1245 1176h54v2h-54zM1734 971h20v3h-20zM1063 1141h65v3h-65zM1573 1115h63v3h-63zM1679 1227h53v3h-53zM1507 1155h50v3h-50zM1251 1264h38v2h-38zM1803 1180h54v3h-54zM1595 1075h98v2h-98zM1470 1298h27v3h-27zM1439 1121h97v2h-97zM1345 938h26v3h-26zM1294 1155h92v2h-92zM1074 1181h116v2h-116zM1438 1263h54v2h-54zM1283 1008h21v2h-21zM1562 1196h20v2h-20zM1784 1268h82v2h-82zM1024 1276h54v2h-54zM1375 960h43v2h-43zM1020 1232h91v3h-91zM1060 1257h71v3h-71zM1072 1033h21v3h-21zM1266 1100h59v3h-59zM1617 962h91v2h-91zM1602 1137h47v2h-47zM1131 1251h33v2h-33zM1112 1293h82v3h-82zM1767 1031h43v2h-43zM1710 984h102v2h-102zM1139 1139h27v2h-27zM1239 1082h127v2h-127zM1146 1311h62v2h-62zM1597 1267h128v3h-128zM1571 1091h122v3h-122zM1337 1056h29v3h-29zM1718 1314h71v2h-71zM1541 1355h55v2h-55zM1038 1077h41v2h-41zM1655 1117h55v3h-55zM1445 1069h38v2h-38zM1071 1123h61v3h-61zM1340 1148h36v3h-36zM1270 980h93v2h-93zM1431 1258h109v3h-109zM1298 1242h36v3h-36zM1433 1216h92v3h-92zM1071 1044h72v3h-72zM1795 1283h61v3h-61zM1233 1089h97v2h-97zM1075 953h95v3h-95zM1599 1319h64v3h-64zM1650 968h63v3h-63zM1269 1129h23v2h-23zM1171 951h86v2h-86zM1409 1216h41v2h-41zM1199 1136h39v2h-39zM1217 1251h122v3h-122zM1658 1319h68v3h-68zM1107 1025h122v2h-122zM1614 1336h113v3h-113zM1460 1020h107v3h-107zM1462 1151h40v2h-40zM1057 1297h48v2h-48zM1138 1282h30v3h-30zM1117 1254h119v2h-119zM1175 1243h21v2h-21zM1435 1292h63v2h-63zM1091 1282h62v3h-62zM1165 1251h87v3h-87zM1524 950h32v2h-32zM1366 949h97v2h-97zM1218 1230h68v2h-68zM1097 942h91v3h-91zM1418 1186h45v3h-45zM1310 1339h42v2h-42zM1701 1032h27v2h-27zM1112 972h38v2h-38zM1737 1085h25v3h-25zM1197 944h62v2h-62zM1638 1240h37v2h-37zM1717 1246h123v3h-123zM1246 1275h98v2h-98zM1646 1074h104v2h-104zM1085 940h122v3h-122zM1422 1089h67v2h-67zM1661 1300h24v3h-24zM1402 941h27v2h-27zM1453 1165h28v2h-28zM1779 946h93v3h-93zM1315 1087h21v2h-21zM1616 994h28v2h-28zM1072 1059h116v2h-116zM1325 1314h32v3h-32zM1677 1059h34v3h-34zM1331 1212h119v2h-119zM1579 973h129v3h-129zM1108 994h29v3h-29zM1260 948h111v3h-111zM1647 969h48v2h-48zM1173 1045h101v3h-101zM1276 1070h86v3h-86zM1515 920h59v2h-59zM1095 932h105v3h-105zM1355 1147h84v3h-84zM1245 1047h98v3h-98zM1479 1161h111v2h-111zM1683 1346h50v2h-50zM1258 951h23v2h-23zM1580 1282h24v2h-24zM1406 1113h51v3h-51zM1500 925h23v2h-23zM1523 1081h85v2h-85zM1699 1148h65v3h-65zM1782 1172h52v2h-52zM1397 1342h78v3h-78zM1637 996h32v3h-32zM1778 1268h86v2h-86zM1768 1156h70v2h-70zM1307 989h94v3h-94zM1311 930h37v2h-37zM1099 1173h60v2h-60zM1473 1263h39v2h-39zM1389 989h91v2h-91zM1650 1293h65v2h-65zM1269 1059h115v2h-115zM1233 1269h64v3h-64zM1746 1048h47v2h-47zM1672 1180h107v2h-107zM1750 947h79v2h-79zM1405 1270h40v3h-40zM1446 1103h102v3h-102zM1740 1314h32v2h-32zM1169 1002h108v3h-108zM1230 1046h87v3h-87zM1186 985h60v3h-60zM1397 972h40v2h-40zM1639 1273h105v2h-105zM1097 996h26v2h-26zM1182 1057h83v2h-83zM1743 1025h44v2h-44zM1345 1224h23v3h-23zM1675 941h26v2h-26zM1554 992h55v2h-55zM1446 1325h33v2h-33zM1298 1136h27v2h-27zM1776 996h54v2h-54zM1023 1109h112v2h-112zM1775 1082h21v3h-21zM1106 1280h93v3h-93zM1419 1242h122v3h-122zM1340 1027h41v2h-41zM1339 1066h30v2h-30zM1626 1257h84v3h-84zM1069 1029h68v2h-68zM1524 932h125v2h-125zM1172 1099h119v2h-119zM1358 923h35v2h-35zM1613 1339h33v2h-33zM1445 925h73v3h-73zM1735 1043h113v2h-113zM1750 1053h34v2h-34zM1079 1091h90v3h-90zM1696 1152h54v2h-54zM1550 1294h52v2h-52zM1476 1131h38v2h-38zM1529 1232h76v3h-76zM1308 1049h91v3h-91zM1334 1298h69v3h-69zM1412 1091h74v3h-74zM1648 1061h72v2h-72zM1609 1200h41v3h-41zM1152 1249h66v2h-66zM1411 1186h33v2h-33zM1055 1346h118v3h-118zM1597 1285h41v2h-41zM1595 1039h101v3h-101zM1499 1153h33v3h-33zM1379 1212h113v2h-113zM1058 987h122v3h-122zM1141 1325h124v3h-124zM1139 1205h62v2h-62zM1337 968h27v2h-27zM1034 1342h24v3h-24zM1122 1040h83v2h-83zM1238 1001h119v2h-119zM1468 1249h37v3h-37zM1184 1148h48v3h-48zM1394 1140h50v3h-50zM1671 1034h92v2h-92zM1605 1290h129v2h-129zM1676 1195h34v3h-34zM1752 1327h64v2h-64zM1443 1234h72v2h-72zM1600 1220h31v2h-31zM1054 1258h42v3h-42zM1790 1326h84v2h-84zM1009 1120h70v2h-70zM1761 1237h29v3h-29zM1432 1310h44v2h-44zM1167 1176h45v2h-45zM1769 1122h25v2h-25zM1505 1104h30v3h-30zM1364 1362h43v3h-43zM1726 1353h49v2h-49zM1560 1320h77v2h-77zM1228 1050h48v3h-48zM1722 1199h111v2h-111zM1206 1315h98v3h-98zM1779 1189h43v3h-43zM1286 1322h41v2h-41zM1638 1319h105v2h-105z"/>
<path fill="#3380f9" fill-opacity="0.50" d="M1681 1151h86v3h-86zM1090 1119h89v2h-89zM1678 1037h69v3h-69zM1484 1120h34v3h-34zM1079 1097h103v1h-103zM1173 1121h89v3h-89zM1136 1218h16v3h-16zM1431 924h19v2h-19zM1500 1039h47v2h-47zM1486 1274h60v2h-60zM1049 1113h102v3h-102zM1715 1125h36v2h-36zM1094 1137h16v2h-16zM1543 1235h42v2h-42zM1078 1241h17v3h-17zM1331 1128h19v1h-19zM1049 1076h75v2h-75zM1726 1112h60v2h-60zM1099 1113h25v3h-25zM1641 1030h44v2h-44zM1573 1118h31v2h-31zM1374 979h64v2h-64zM1127 1150h65v2h-65zM1171 1223h21v3h-21zM1371 1003h48v2h-48zM1477 1069h16v2h-16zM1791 1297h77v1h-77zM1670 1143h92v2h-92zM1425 1255h58v3h-58zM1119 972h70v1h-70zM1098 1104h22v2h-22zM1096 1115h47v1h-47zM1478 1150h73v2h-73zM1169 1055h107v3h-107zM1102 1321h61v2h-61zM1604 1363h101v2h-101zM1123 1106h17v2h-17z"/>
<path fill="#3380f9" fill-opacity="0.75" d="M1279 1307h44v1h-44zM1368 1234h90v2h-90zM1669 1069h17v2h-17zM1307 1009h94v2h-94zM1368 1116h34v2h-34zM1422 1223h30v1h-30zM1264 1122h79v2h-79zM1264 1016h39v1h-39zM1659 935h34v2h-34zM1684 1114h16v1h-16zM1540 1108h59v2h-59zM1063 1128h86v2h-86zM1492 1044h21v2h-21zM1449 1121h27v2h-27zM1055 1092h30v1h-30zM1578 955h31v3h-31zM1381 1317h25v3h-25zM1184 1030h65v2h-65zM1760 1067h79v2h-79zM1707 1119h31v1h-31zM1618 1143h96v2h-96zM1131 1023h89v3h-89zM1777 1274h93v2h-93zM1075 1113h17v3h-17zM1660 1279h39v2h-39zM1576 1193h28v1h-28zM1312 1144h16v3h-16zM1241 1095h104v2h-104zM1790 1107h77v2h-77zM1037 1143h15v3h-15zM1603 1272h19v2h-19zM1351 949h88v2h-88zM1456 1132h96v2h-96zM1684 1085h22v3h-22zM1137 1351h75v1h-75zM1459 1319h54v1h-54zM1732 1321h71v3h-71zM1555 1110h106v2h-106zM1594 1147h54v2h-54zM1290 1113h63v3h-63zM1723 1006h24v2h-24zM1509 1174h20v2h-20zM1272 1109h66v3h-66zM1503 1108h102v3h-102zM1005 1068h109v2h-109zM1717 1076h33v1h-33zM1713 969h85v3h-85zM1210 1314h109v3h-109zM1701 1315h15v2h-15zM1765 1310h106v2h-106zM1121 1145h18v2h-18zM1520 1094h29v2h-29zM1687 1147h32v1h-32zM1496 1119h45v1h-45zM1384 1117h25v2h-25zM1548 1044h57v3h-57zM1404 985h25v2h-25zM1113 1061h98v3h-98zM1340 1270h16v2h-16zM1793 1049h28v1h-28zM1444 949h22v1h-22zM1436 1091h21v1h-21zM1272 966h80v2h-80zM1706 1047h24v2h-24zM1442 951h48v2h-48zM1619 1154h67v2h-67zM1076 1356h89v2h-89zM1226 1331h82v2h-82zM1265 1150h24v2h-24zM1400 1130h62v3h-62zM1425 1051h39v2h-39zM1245 1131h70v1h-70z"/>
<path fill="#3380f9" fill-opacity="1.00" d="M1492 1387h28v1h-28zM1222 1218h56v3h-56zM1228 1119h16v1h-16zM1263 1150h101v1h-101zM1222 1288h19v2h-19zM1280 1142h103v1h-103zM1626 1298h52v3h-52zM1608 1115h19v1h-19zM1104 1268h28v3h-28z"/>
<path fill="#3f67fb" fill-opacity="0.50" d="M1532 985h33v3h-33zM1044 1222h19v2h-19zM1226 1171h77v3h-77zM1036 934h42v2h-42zM1339 1298h108v3h-108zM1301 995h36v2h-36zM1667 1038h64v2h-64zM1086 1123h46v2h-46zM1460 1330h25v2h-25zM1407 1118h39v3h-39zM1137 983h71v2h-71zM1109 1112h37v2h-37zM1073 1160h102v2h-102zM1608 1109h60v2h-60zM1297 1273h28v2h-28zM1501 1040h20v2h-20zM1728 999h98v1h-98zM1525 1087h75v2h-75zM1320 1205h34v2h-34zM1103 1105h37v2h-37zM1345 933h99v3h-99zM1330 1183h88v2h-88zM1732 1261h23v1h-23zM1230 1015h54v2h-54zM1709 1258h34v3h-34zM1240 1121h41v2h-41zM1716 1150h45v3h-45zM1661 1069h21v3h-21zM1715 931h99v3h-99zM1656 1286h78v3h-78zM1618 1055h23v1h-23zM1303 1297h18v2h-18zM1382 1359h66v2h-66zM1333 1081h32v1h-32zM1606 1310h79v2h-79zM1630 1013h26v2h-26zM1196 993h32v2h-32zM1793 1137h28v2h-28zM1431 1092h62v3h-62zM1440 1130h26v3h-26zM1763 1241h22v2h-22zM1561 1369h35v2h-35zM1530 969h19v1h-19zM1507 1365h24v2h-24zM1119 1030h72v1h-72zM1574 1237h87v3h-87zM1092 1139h109v2h-109zM1449 1125h28v2h-28zM1545 1247h20v1h-20zM1193 1140h57v2h-57zM1564 1317h28v2h-28zM1378 1129h77v2h-77zM1296 1112h30v1h-30z"/>
<path fill="#3f67fb" fill-opacity="0.75" d="M1604 1322h59v3h-59zM1211 1254h59v2h-59zM1780 1106h98v2h-98zM1328 1129h76v1h-76zM1457 1102h39v2h-39zM1699 1244h42v2h-42zM1590 1345h24v2h-24zM1767 926h64v2h-64zM1687 1011h74v2h-74zM1421 1243h21v2h-21zM1763 1120h17v3h-17zM1804 1109h56v3h-56zM1114 1055h25v3h-25zM1242 954h17v2h-17zM1372 1092h73v3h-73zM1514 1070h75v1h-75zM1572 1095h18v3h-18zM1340 1121h15v1h-15zM1167 935h36v2h-36zM1497 1289h81v1h-81zM1379 1298h17v2h-17zM1373 1239h29v2h-29zM1142 1032h98v2h-98zM1692 988h16v3h-16zM1547 946h67v2h-67zM1325 1276h49v2h-49zM1262 1284h23v2h-23zM1464 1282h104v2h-104zM1550 1294h23v2h-23zM1179 1122h18v2h-18zM1541 1117h19v3h-19zM1126 959h16v2h-16zM1138 933h76v2h-76zM1487 1245h91v3h-91zM1718 1018h18v1h-18zM1574 1085h38v2h-38zM1581 1340h92v2h-92zM1335 977h66v2h-66zM1523 1272h16v3h-16zM1121 1326h16v2h-16zM1114 1097h63v1h-63zM1392 1131h94v2h-94zM1628 1126h43v1h-43zM1165 1009h100v2h-100zM1249 1189h57v1h-57zM1270 1257h33v2h-33zM1554 1097h82v2h-82zM1495 1239h16v3h-16zM1025 1310h63v2h-63zM1270 1008h31v1h-31zM1423 1007h17v1h-17zM1104 1046h46v2h-46zM1134 1102h79v2h-79zM1712 1188h105v1h-105zM1519 961h73v1h-73zM1332 1169h18v3h-18zM1206 1197h19v3h-19zM1332 1101h90v3h-90zM1797 1179h17v2h-17zM1663 949h93v2h-93zM1296 1118h41v2h-41zM1060 1315h32v1h-32zM1387 1066h43v2h-43zM1536 1195h46v2h-46zM1794 921h70v3h-70zM1593 1056h27v3h-27zM1097 1028h97v3h-97zM1103 1107h92v3h-92zM1732 1339h46v1h-46zM1199 953h25v2h-25zM1654 1092h97v3h-97zM1803 1336h55v2h-55zM1110 1312h16v2h-16zM1114 961h28v1h-28zM1052 1215h109v2h-109zM1631 1047h96v3h-96zM1574 1065h16v3h-16zM1355 1135h58v2h-58zM1218 1019h85v1h-85zM1424 1145h108v3h-108zM1124 1194h85v2h-85zM1774 1258h39v3h-39zM1155 1194h37v2h-37zM1334 1218h29v2h-29zM1171 1129h47v3h-47zM1750 1293h79v1h-79zM1708 1124h19v3h-19zM1613 1237h16v2h-16zM1743 1143h108v3h-108zM1446 1143h103v2h-103zM1232 1243h66v2h-66zM1634 1293h109v3h-109zM1780 1334h93v2h-93zM1191 1314h96v3h-96zM1418 1391h52v2h-52zM1643 1329h33v1h-33zM1121 1292h33v2h-33zM1453 1102h32v2h-32zM1656 1300h66v3h-66zM1568 1139h41v1h-41zM1412 1055h38v2h-38zM1382 1052h17v2h-17zM1030 1126h30v2h-30zM1668 1170h61v2h-61zM1201 1047h38v1h-38zM1739 931h15v3h-15zM1584 1447h17v2h-17zM1180 1091h69v1h-69zM1698 1147h80v2h-80zM1541 997h27v2h-27zM1460 1277h104v3h-104zM1035 1108h59v2h-59zM1496 1261h26v3h-26z"/>
<path fill="#3f67fb" fill-opacity="1.00" d="M1469 1148h59v3h-59zM1593 1194h16v2h-16zM1053 1004h80v2h-80zM1146 1002h25v2h-25zM1441 949h77v2h-77zM1289 1216h19v3h-19zM1606 1117h95v3h-95zM1142 1243h25v1h-25zM1337 934h24v2h-24zM1768 1269h44v2h-44zM1375 1252h82v2h-82zM1652 1127h30v2h-30zM1075 1105h84v3h-84zM1192 1008h64v2h-64zM1654 1304h76v2h-76zM1490 1338h20v1h-20zM1203 1113h85v2h-85zM1171 932h110v2h-110zM1138 1080h16v2h-16zM1769 1040h26v2h-26zM1058 1295h106v3h-106zM1535 1097h68v2h-68zM1219 1281h29v3h-29zM1514 1299h77v1h-77zM1501 1248h71v2h-71zM1442 1145h27v2h-27zM1593 1304h32v2h-32zM1380 1023h106v3h-106zM1753 1007h84v1h-84zM1378 1188h35v2h-35zM1644 1331h80v1h-80zM1497 1106h37v2h-37zM1667 933h27v2h-27zM1162 1285h23v3h-23zM1436 1137h82v2h-82zM1032 1102h90v2h-90zM1272 1046h52v2h-52zM1194 1271h84v2h-84zM1516 961h52v1h-52zM1624 1300h33v2h-33zM1597 1240h24v2h-24zM1242 941h48v1h-48zM1818 1029h15v3h-15z"/>
<path fill="#463ad6" fill-opacity="0.50" d="M1313 1214h44v3h-44zM1496 1236h75v3h-75zM1538 1005h50v2h-50zM1771 1285h16v2h-16zM1112 1034h109v2h-109zM1556 925h69v3h-69zM1634 1248h95v2h-95zM1400 956h48v2h-48zM1750 1251h106v2h-106zM1024 1304h106v1h-106zM1386 1258h23v3h-23zM1395 949h55v2h-55zM1467 1026h39v1h-39zM1500 976h63v1h-63zM1132 1016h88v2h-88zM1149 1162h70v2h-70zM1486 1310h50v3h-50zM1653 1075h38v1h-38zM1502 1233h31v3h-31zM1217 1176h39v2h-39zM1791 1308h62v2h-62zM1607 1065h88v2h-88zM1788 1335h25v3h-25zM1733 1171h50v2h-50zM1640 1171h63v2h-63zM1129 1237h18v2h-18zM1370 1253h100v2h-100zM1344 1061h27v2h-27zM1368 1283h81v3h-81zM1037 1028h32v2h-32zM1611 948h21v3h-21zM1450 1048h38v3h-38zM1503 1198h53v2h-53zM1497 1295h102v3h-102zM1751 962h87v3h-87zM1519 1272h49v2h-49zM1062 1324h71v1h-71zM1388 1180h31v2h-31zM1790 1091h21v2h-21zM1086 1035h24v3h-24zM1176 1168h22v2h-22zM1116 954h27v2h-27zM1387 1121h43v2h-43zM1645 1200h17v1h-17zM1518 1162h53v2h-53zM1580 1083h36v2h-36zM1374 1138h77v1h-77zM1224 986h55v2h-55zM1782 1147h34v3h-34zM1205 1397h29v2h-29zM1033 1285h77v1h-77zM1486 1223h97v3h-97zM1155 1085h18v3h-18zM1130 992h92v3h-92zM1491 944h33v2h-33zM1142 1334h54v2h-54zM1785 938h36v2h-36zM1588 1252h20v2h-20zM1392 1283h18v2h-18zM1730 1236h94v3h-94zM1613 1152h60v1h-60zM1108 1109h69v3h-69zM1465 1308h85v2h-85zM1809 967h47v2h-47zM1511 1431h25v3h-25zM1307 1301h52v1h-52zM1173 1325h32v2h-32zM1076 1336h17v3h-17zM1071 1289h30v3h-30zM1155 977h39v2h-39zM1116 1252h92v2h-92zM1104 935h44v2h-44zM1482 1278h104v2h-104zM1404 1114h36v2h-36zM1657 1006h53v1h-53zM1789 1145h25v2h-25zM1397 997h34v2h-34zM1499 1310h28v1h-28zM1070 1134h102v1h-102zM1390 1000h25v2h-25zM1140 1016h15v3h-15zM1247 1338h35v1h-35zM1804 1333h29v2h-29zM1499 1474h44v2h-44zM1631 1071h108v3h-108zM1393 1020h86v1h-86zM1519 1187h87v1h-87zM1200 1348h83v2h-83zM1594 1154h102v3h-102zM1436 1260h82v2h-82zM1210 1253h53v3h-53zM1589 965h79v2h-79zM1274 1073h86v3h-86zM1617 1409h67v2h-67zM1257 1167h90v1h-90zM1313 1096h92v2h-92zM1447 946h44v2h-44zM1309 946h17v2h-17zM1043 1362h87v2h-87zM1750 1350h41v3h-41zM1261 1283h15v3h-15zM1432 1036h54v2h-54zM1515 1303h36v2h-36zM1618 1319h107v1h-107zM1358 988h69v2h-69zM1107 1088h75v2h-75zM1247 1255h108v1h-108zM1438 1184h78v2h-78zM1705 1072h106v3h-106zM1672 1334h35v2h-35zM1252 1275h22v2h-22zM1181 1066h45v2h-45zM1073 1310h22v2h-22zM1120 967h57v3h-57zM1130 1303h52v1h-52zM1446 1179h53v1h-53zM1337 953h29v2h-29zM1431 967h18v1h-18zM1279 1339h74v3h-74zM1623 1170h103v2h-103zM1379 1027h85v3h-85zM1658 1262h16v2h-16zM1194 1258h79v3h-79zM1196 1059h41v3h-41zM1332 1012h76v2h-76zM1617 948h25v3h-25z"/>
<path fill="#463ad6" fill-opacity="0.75" d="M1174 1161h48v2h-48zM1782 974h25v3h-25zM1774 1008h70v2h-70zM1032 1296h28v3h-28zM1492 1260h85v3h-85zM1577 991h29v1h-29zM1232 1344h26v2h-26zM1583 1083h25v3h-25zM1502 1244h63v2h-63zM1710 1031h44v3h-44zM1670 1008h51v2h-51zM1376 1184h77v3h-77zM1272 1287h27v2h-27zM1643 1052h75v3h-75zM1631 1026h66v1h-66zM1546 1024h41v2h-41zM1811 1301h46v1h-46zM1568 1032h29v2h-29zM1100 1295h83v2h-83zM1430 1286h47v2h-47zM1499 1104h88v2h-88zM1597 1244h61v2h-61zM1630 1047h17v2h-17zM1661 984h100v2h-100zM1450 1347h35v2h-35zM1211 1244h109v3h-109zM1013 1375h73v2h-73zM1177 1232h63v3h-63zM1159 1072h67v1h-67zM1570 1439h64v2h-64zM1412 1338h90v2h-90zM1212 1256h32v2h-32zM1372 1279h21v2h-21zM1090 1303h94v2h-94zM1739 1081h43v2h-43zM1227 1155h49v2h-49zM1450 993h86v3h-86zM1472 1250h17v2h-17zM1775 1312h89v2h-89zM1753 1089h35v3h-35zM1111 932h34v2h-34zM1726 969h18v2h-18zM1075 1190h34v2h-34zM1540 1473h77v2h-77zM1536 1263h50v1h-50zM1678 944h58v2h-58zM1727 1285h86v3h-86zM1611 1256h27v2h-27zM1296 1307h97v3h-97zM1012 1312h68v2h-68zM1016 1308h60v2h-60zM1554 1133h99v1h-99zM1570 1183h22v3h-22zM1513 950h60v1h-60zM1301 1158h17v2h-17zM1198 1077h72v3h-72zM1592 997h15v2h-15zM1708 1351h37v1h-37zM1209 951h72v3h-72zM1487 976h39v2h-39zM1299 1111h25v2h-25zM1256 955h38v2h-38zM1700 1113h79v2h-79zM1471 1335h43v1h-43zM1712 967h79v2h-79zM1424 1245h32v2h-32zM1702 998h15v2h-15zM1120 1140h20v3h-20zM1310 1155h21v3h-21zM1020 1288h57v2h-57zM1181 1269h20v2h-20zM1410 1008h16v2h-16zM1155 1333h25v2h-25zM1303 1069h24v1h-24zM1585 1088h35v2h-35zM1587 1322h90v2h-90zM1446 1078h67v2h-67zM1564 993h38v2h-38zM1456 1404h15v3h-15zM1318 929h57v2h-57zM1218 1058h18v1h-18zM1691 1088h76v3h-76zM1392 1360h42v3h-42zM1590 1089h18v2h-18zM1699 1032h82v1h-82zM1466 1140h54v2h-54zM1056 956h18v2h-18zM1565 928h107v3h-107zM1757 1257h53v1h-53zM1196 1153h29v3h-29zM1683 1261h46v3h-46zM1635 1032h76v3h-76zM1516 1088h76v2h-76zM1271 945h23v2h-23zM1690 1095h15v2h-15zM1456 1164h47v3h-47zM1179 1211h83v3h-83zM1747 961h30v3h-30zM1767 1120h90v2h-90zM1486 1255h24v2h-24zM1743 936h55v2h-55zM1486 1245h105v2h-105zM1135 1307h75v2h-75zM1592 1045h86v2h-86zM1248 1255h78v2h-78zM1322 1071h29v3h-29zM1769 933h101v2h-101zM1208 1251h72v1h-72zM1328 1339h46v1h-46zM1567 1353h105v2h-105zM1584 1266h20v3h-20zM1212 1089h67v2h-67zM1344 989h18v3h-18zM1307 1159h73v2h-73zM1625 1124h85v3h-85zM1760 1311h22v2h-22zM1787 924h32v2h-32zM1173 1045h21v2h-21zM1401 1319h66v2h-66zM1045 1252h23v2h-23zM1637 924h17v2h-17zM1646 1348h24v2h-24zM1442 1158h94v2h-94zM1629 1154h58v3h-58zM1637 1142h25v2h-25zM1470 1267h15v3h-15zM1380 1191h89v1h-89zM1639 1210h91v2h-91zM1510 954h61v1h-61zM1376 1111h102v1h-102zM1766 1021h78v2h-78zM1603 1181h33v3h-33zM1298 1338h63v3h-63zM1570 1110h68v2h-68zM1046 1090h82v3h-82zM1564 1312h63v3h-63zM1090 1302h16v3h-16zM1156 1298h43v2h-43zM1641 955h66v1h-66zM1431 1267h25v2h-25zM1232 1004h25v3h-25zM1013 1172h69v2h-69zM1334 942h17v2h-17zM1684 956h21v2h-21zM1424 1017h38v3h-38zM1220 997h56v2h-56zM1262 1256h77v2h-77zM1624 1058h28v2h-28zM1510 1156h44v2h-44zM1280 931h22v2h-22zM1737 1098h64v1h-64zM1589 1220h50v2h-50zM1434 1084h70v3h-70zM1661 1151h48v1h-48zM1664 1070h39v3h-39zM1613 1263h16v2h-16zM1032 1190h43v2h-43zM1634 1056h48v2h-48zM1187 1348h20v3h-20zM1373 966h28v3h-28zM1695 1281h73v2h-73zM1748 1342h92v3h-92zM1526 1274h87v3h-87zM1509 1296h21v3h-21zM1079 1010h31v1h-31zM1508 1214h63v2h-63zM1695 927h40v3h-40zM1307 955h55v2h-55zM1215 1345h21v3h-21zM1749 943h77v3h-77zM1412 930h67v3h-67zM1406 1301h59v2h-59zM1694 1225h15v1h-15zM1045 1022h19v2h-19zM1572 1114h28v1h-28zM1211 1300h71v1h-71zM1782 953h19v3h-19zM1016 999h60v2h-60zM1672 979h61v1h-61zM1730 1202h34v2h-34zM1396 1011h96v2h-96zM1132 1257h51v2h-51zM1385 1019h17v3h-17zM1565 1108h99v2h-99zM1404 958h43v1h-43zM1331 1134h68v2h-68zM1712 1033h85v2h-85zM1712 1107h101v3h-101zM1265 1280h47v3h-47zM1573 1215h47v3h-47zM1358 1246h19v2h-19zM1523 1262h39v2h-39zM1091 981h93v3h-93zM1591 1308h35v3h-35zM1101 1261h18v3h-18zM1300 1082h28v2h-28zM1686 1440h85v1h-85zM1131 1227h27v2h-27zM1783 1315h23v1h-23zM1778 1148h56v2h-56zM1430 1345h46v1h-46zM1098 1018h19v3h-19zM1467 1283h61v3h-61zM1604 1104h81v2h-81zM1524 1085h79v1h-79zM1528 1337h27v1h-27zM1310 1257h91v3h-91zM1810 1037h19v2h-19zM1336 1121h80v2h-80zM1761 1091h37v3h-37zM1271 1004h24v1h-24zM1205 1270h80v2h-80zM1584 1245h23v2h-23zM1602 1171h106v3h-106zM1247 1083h18v3h-18zM1265 1305h43v2h-43zM1620 1081h17v2h-17zM1434 1014h89v2h-89zM1200 956h38v1h-38zM1318 1178h90v2h-90zM1567 1281h21v3h-21zM1398 1338h53v3h-53zM1417 1172h50v3h-50zM1245 994h31v3h-31zM1176 1293h40v2h-40zM1766 1057h108v3h-108zM1166 1343h76v3h-76zM1105 1155h18v1h-18zM1185 1024h55v2h-55zM1709 1337h107v2h-107zM1812 1257h16v2h-16zM1137 920h105v3h-105zM1750 1268h101v3h-101zM1429 1258h15v1h-15zM1360 1183h105v3h-105zM1755 1257h53v2h-53zM1754 1302h22v1h-22zM1394 1105h51v1h-51zM1212 982h29v2h-29zM1027 1258h91v3h-91zM1595 943h20v3h-20zM1137 1088h83v3h-83zM1227 1268h36v2h-36zM1660 1282h50v1h-50zM1628 1125h20v3h-20zM1112 1149h29v3h-29zM1215 1336h104v1h-104zM1579 1339h108v1h-108zM1049 970h41v2h-41zM1200 1236h30v2h-30zM1661 985h25v3h-25zM1160 1080h71v2h-71zM1211 975h16v1h-16zM1573 998h64v2h-64zM1314 1246h103v2h-103zM1477 1178h22v2h-22zM1471 925h56v2h-56zM1677 951h30v2h-30z"/>
<path fill="#463ad6" fill-opacity="1.00" d="M1238 983h16v2h-16zM1200 953h86v3h-86zM1190 941h17v2h-17zM1745 1343h45v3h-45zM1233 930h47v3h-47zM1061 1052h30v2h-30zM1813 1444h21v2h-21zM1766 1306h52v2h-52zM1811 1203h18v2h-18zM1326 1255h24v1h-24zM1253 1142h42v3h-42zM1384 942h50v3h-50zM1585 980h110v3h-110zM1147 1160h87v2h-87zM1040 1256h50v2h-50zM1116 1016h45v2h-45zM1167 1162h100v2h-100zM1248 1374h28v2h-28zM1735 1228h73v1h-73zM1280 1275h76v1h-76zM1453 949h30v1h-30zM1689 1286h39v2h-39zM1638 1336h16v3h-16zM1353 954h15v2h-15zM1587 1296h60v3h-60zM1174 1212h22v2h-22zM1083 1020h24v2h-24zM1361 1335h55v1h-55zM1307 1201h24v2h-24zM1142 1316h98v2h-98zM1184 1341h15v3h-15zM1184 1280h85v2h-85zM1693 1084h25v3h-25zM1732 1039h21v2h-21zM1266 1142h61v2h-61zM1248 1064h94v2h-94zM1460 923h41v2h-41zM1278 1310h91v1h-91zM1158 1122h36v3h-36zM1330 978h41v3h-41zM1136 922h18v2h-18zM1418 1255h79v1h-79zM1476 1133h51v2h-51zM1150 1243h67v3h-67zM1421 1067h98v2h-98zM1564 1139h100v2h-100zM1668 1344h44v1h-44zM1390 968h32v2h-32zM1032 1195h30v2h-30zM1356 961h67v1h-67zM1622 967h53v1h-53zM1508 1110h107v2h-107zM1502 926h84v2h-84zM1024 945h44v3h-44zM1116 1016h16v2h-16zM1351 1155h38v3h-38zM1796 1216h30v1h-30zM1412 948h93v2h-93zM1302 1357h24v2h-24zM1360 1234h43v2h-43zM1226 1259h88v2h-88zM1112 1223h25v1h-25zM1115 1018h41v1h-41zM1422 938h18v2h-18zM1167 1263h84v2h-84zM1310 1030h26v1h-26zM1086 992h106v2h-106zM1230 949h23v1h-23zM1340 1099h84v3h-84zM1120 1163h32v2h-32zM1138 1080h80v2h-80zM1235 1317h49v3h-49zM1429 1199h29v2h-29zM1494 924h75v2h-75zM1611 1072h79v2h-79zM1606 1279h81v2h-81zM1309 1010h57v1h-57zM1344 1285h47v2h-47zM1229 1278h22v2h-22zM1094 1125h70v3h-70z"/>
<path fill="#4747e6" fill-opacity="0.50" d="M1689 1136h52v2h-52zM1765 1170h22v2h-22zM1345 1309h61v1h-61zM1192 935h45v2h-45zM1182 1165h31v2h-31zM1487 1087h43v2h-43zM1233 1273h67v2h-67zM1104 1196h50v1h-50zM1487 921h20v1h-20zM1232 1356h109v2h-109zM1574 1330h105v3h-105zM1306 1313h93v2h-93zM1556 1002h69v3h-69zM1224 1088h103v3h-103zM1281 1089h25v3h-25zM1689 1159h102v2h-102zM1772 1322h73v2h-73zM1311 1012h86v3h-86zM1749 1037h83v2h-83zM1267 1001h16v2h-16zM1777 1332h97v2h-97zM1443 1050h52v1h-52zM1051 1123h50v3h-50zM1021 1184h91v2h-91zM1173 980h72v3h-72zM1320 1024h31v2h-31zM1735 1055h15v1h-15zM1217 1038h19v2h-19zM1339 1132h78v1h-78zM1072 1369h76v3h-76zM1807 937h29v3h-29zM1582 1294h53v3h-53zM1066 1324h49v2h-49zM1375 1086h27v2h-27zM1620 1396h50v1h-50zM1606 1260h58v2h-58zM1533 1142h87v2h-87zM1554 1051h52v1h-52zM1759 1305h79v2h-79zM1777 1156h41v2h-41zM1199 1301h60v2h-60zM1662 1341h76v2h-76zM1347 1169h76v2h-76zM1756 1296h20v1h-20zM1350 1271h27v2h-27zM1646 1186h42v2h-42zM1686 939h20v2h-20zM1030 1114h57v1h-57zM1750 1124h17v2h-17zM1274 933h109v3h-109zM1766 1138h31v2h-31zM1676 1332h80v2h-80zM1784 1262h99v3h-99zM1010 1330h90v1h-90zM1098 943h46v1h-46zM1773 1007h43v3h-43zM1052 1438h80v1h-80zM1193 1259h109v1h-109zM1147 1224h51v2h-51zM1018 1144h92v2h-92zM1407 1250h62v1h-62zM1214 1070h47v2h-47zM1550 1330h74v2h-74zM1605 1273h39v2h-39zM1421 1154h32v3h-32zM1481 992h24v2h-24zM1452 1296h88v2h-88zM1128 1294h79v2h-79zM1785 1318h82v2h-82zM1668 1301h69v1h-69zM1213 1295h29v3h-29zM1137 1261h62v3h-62zM1215 931h68v2h-68zM1205 1290h62v1h-62zM1764 1246h96v2h-96zM1326 1021h15v1h-15zM1698 1167h20v3h-20zM1495 1100h86v3h-86zM1355 1343h70v2h-70zM1564 1031h47v1h-47zM1073 1136h106v2h-106zM1330 1187h81v1h-81zM1205 1267h19v3h-19zM1063 1045h39v3h-39zM1130 998h23v3h-23zM1192 978h55v1h-55zM1092 1080h19v2h-19zM1717 1234h15v3h-15zM1556 1248h62v2h-62zM1222 1219h93v2h-93zM1298 1282h86v3h-86zM1194 1138h107v2h-107zM1151 1048h83v3h-83zM1242 941h55v3h-55zM1595 1340h62v3h-62zM1556 1176h83v2h-83zM1111 1319h35v1h-35zM1678 1318h56v2h-56zM1126 1328h24v3h-24zM1450 1245h68v1h-68zM1608 934h89v2h-89zM1255 1283h26v1h-26zM1675 934h18v3h-18zM1225 1067h60v2h-60zM1250 1308h15v1h-15zM1090 1302h71v2h-71zM1386 1317h105v2h-105zM1327 1081h46v2h-46zM1714 1223h49v2h-49zM1078 950h54v2h-54zM1035 950h89v3h-89zM1714 1307h66v3h-66zM1744 1308h86v3h-86zM1391 1315h15v1h-15zM1422 955h106v2h-106zM1107 1173h18v3h-18zM1608 949h16v3h-16zM1463 1295h65v1h-65zM1425 1216h56v2h-56zM1175 932h15v2h-15zM1373 987h18v1h-18zM1128 1057h49v3h-49zM1339 1281h26v2h-26zM1294 1302h70v1h-70zM1678 1246h19v2h-19zM1726 1208h20v2h-20zM1583 1115h34v2h-34zM1816 1331h15v2h-15zM1526 945h23v2h-23zM1542 1069h65v2h-65zM1674 1110h64v3h-64zM1508 1146h40v2h-40zM1685 1194h35v2h-35zM1055 1141h45v2h-45z"/>
<path fill="#4747e6" fill-opacity="0.75" d="M1387 1330h58v2h-58zM1745 1143h86v1h-86zM1512 1291h20v2h-20zM1539 960h101v3h-101zM1307 1309h51v2h-51zM1254 1141h26v2h-26zM1617 1328h102v3h-102zM1606 1046h21v1h-21zM1337 1229h15v2h-15zM1656 965h52v2h-52zM1690 1041h43v2h-43zM1568 1058h55v2h-55zM1138 954h94v2h-94zM1157 1102h63v2h-63zM1213 1289h66v1h-66zM1149 1232h54v2h-54zM1418 1027h39v2h-39zM1080 1016h47v2h-47zM1576 1266h101v2h-101zM1104 948h35v3h-35zM1345 1135h70v3h-70zM1552 1290h64v2h-64zM1191 928h39v1h-39zM1676 992h37v1h-37zM1022 1273h58v3h-58zM1703 1329h89v2h-89zM1692 1319h78v2h-78zM1425 1162h18v2h-18zM1470 1235h20v2h-20zM1016 1065h66v2h-66zM1125 993h35v3h-35zM1020 1001h92v3h-92zM1263 1314h106v3h-106zM1475 1130h35v2h-35zM1143 985h42v2h-42zM1422 1054h39v2h-39zM1648 1086h20v2h-20zM1174 1002h37v2h-37zM1347 1095h34v2h-34zM1206 1350h77v3h-77zM1721 1344h85v1h-85zM1393 1028h42v2h-42zM1690 942h56v3h-56zM1316 1069h19v2h-19zM1371 992h96v3h-96zM1535 928h42v3h-42zM1742 1123h21v1h-21zM1227 1269h56v2h-56zM1562 1033h30v3h-30zM1383 1077h80v2h-80zM1231 931h26v2h-26zM1700 1320h109v2h-109zM1083 938h16v2h-16zM1717 1043h29v2h-29zM1452 1103h18v2h-18zM1800 1036h42v2h-42zM1468 1016h16v3h-16zM1090 1018h26v2h-26zM1264 954h43v2h-43zM1542 1151h32v2h-32zM1519 1080h28v3h-28zM1276 959h30v2h-30zM1041 1280h74v2h-74zM1468 966h27v2h-27zM1751 1084h17v2h-17zM1729 1011h15v3h-15zM1426 1151h35v2h-35zM1589 998h45v2h-45zM1606 1256h48v3h-48zM1106 999h54v2h-54zM1310 996h109v2h-109zM1425 1006h78v1h-78zM1272 1288h15v2h-15zM1603 1109h94v2h-94zM1180 1008h33v3h-33zM1742 989h70v3h-70zM1380 943h17v2h-17zM1356 1359h53v2h-53zM1083 1131h107v3h-107zM1629 1331h55v2h-55zM1482 1206h43v2h-43zM1273 994h94v1h-94zM1300 1312h101v2h-101zM1410 1288h34v2h-34zM1697 936h105v3h-105zM1625 1067h56v1h-56zM1198 1058h39v2h-39zM1518 938h101v1h-101zM1238 952h37v2h-37zM1649 1090h19v1h-19zM1095 1024h50v3h-50zM1552 1174h59v3h-59zM1333 1176h72v3h-72zM1494 1112h46v2h-46zM1493 1110h107v1h-107zM1606 1145h20v1h-20zM1531 1121h70v3h-70zM1000 1001h99v2h-99zM1006 1019h73v2h-73zM1672 1285h25v1h-25zM1679 1225h19v2h-19zM1493 1251h28v2h-28zM1350 982h96v1h-96zM1543 1219h21v2h-21zM1261 1291h66v2h-66zM1348 1269h30v2h-30zM1063 1438h56v1h-56zM1623 1308h23v2h-23zM1700 1294h23v1h-23zM1342 1103h21v1h-21zM1297 1142h30v2h-30zM1368 1139h53v2h-53zM1762 1280h90v3h-90zM1164 1407h71v2h-71zM1223 1305h59v2h-59zM1159 1413h66v2h-66zM1045 1118h96v2h-96zM1563 1250h29v1h-29zM1728 1080h25v3h-25zM1123 944h102v3h-102zM1445 1108h16v2h-16zM1499 1347h61v2h-61zM1153 1236h43v1h-43zM1121 1347h93v2h-93zM1548 959h45v1h-45zM1801 966h15v1h-15zM1549 1125h20v1h-20zM1533 1033h90v2h-90zM1164 1317h71v3h-71zM1727 1091h37v2h-37zM1613 1192h20v1h-20zM1464 1276h45v2h-45zM1455 969h20v2h-20zM1716 1372h43v2h-43zM1010 1122h67v2h-67zM1072 1318h107v2h-107zM1397 1011h24v2h-24zM1729 1324h16v1h-16zM1711 1230h28v2h-28zM1177 1267h23v3h-23zM1223 1030h101v1h-101zM1172 1289h16v2h-16zM1031 1267h100v2h-100zM1558 1051h32v2h-32zM1373 937h20v3h-20zM1039 1193h29v2h-29zM1243 950h18v1h-18zM1034 1328h80v1h-80zM1255 1295h84v3h-84zM1402 1098h85v2h-85zM1254 1138h107v3h-107zM1248 1193h75v2h-75zM1283 1243h73v2h-73zM1278 1092h15v3h-15zM1039 1249h71v3h-71zM1069 1241h74v3h-74zM1328 1334h45v2h-45zM1108 1277h47v2h-47zM1214 951h105v2h-105zM1417 1096h85v2h-85zM1173 1353h25v2h-25zM1110 1125h71v2h-71zM1036 1155h20v2h-20zM1168 959h62v2h-62zM1558 1027h15v1h-15zM1203 1099h32v2h-32zM1100 987h19v2h-19zM1583 1090h69v2h-69zM1728 1324h103v2h-103zM1325 1330h81v2h-81zM1566 1011h24v2h-24zM1143 1127h106v1h-106zM1447 966h25v3h-25zM1047 1274h71v2h-71zM1476 1039h30v3h-30zM1350 1134h15v2h-15zM1777 966h65v3h-65zM1589 1286h62v3h-62zM1145 1031h64v2h-64zM1217 1091h17v2h-17zM1631 1156h88v2h-88zM1237 1065h74v3h-74zM1510 1329h22v2h-22zM1748 1369h75v3h-75zM1541 1256h15v1h-15zM1237 937h41v2h-41zM1066 1334h30v2h-30zM1109 1275h23v2h-23zM1449 1289h15v1h-15zM1328 1104h18v2h-18zM1381 1261h66v3h-66zM1384 949h101v3h-101zM1803 958h26v2h-26zM1047 1327h80v2h-80zM1076 1242h100v2h-100zM1708 1252h15v3h-15zM1529 1175h70v2h-70zM1741 1324h90v2h-90zM1615 1001h77v3h-77zM1166 1046h106v1h-106zM1212 1103h48v2h-48zM1299 1395h41v3h-41zM1167 1293h29v2h-29zM1728 1065h89v3h-89z"/>
<path fill="#4747e6" fill-opacity="1.00" d="M1765 1091h34v2h-34zM1270 1270h36v2h-36zM1756 1295h34v2h-34zM1334 990h75v2h-75zM1716 974h72v3h-72zM1769 1201h16v1h-16zM1304 972h52v1h-52zM1258 1345h23v2h-23zM1623 1314h35v1h-35zM1482 992h104v3h-104zM1371 1353h24v2h-24zM1518 1252h29v2h-29zM1678 1082h109v2h-109zM1234 1293h68v2h-68zM1687 1146h47v2h-47zM1703 1261h80v3h-80zM1565 935h76v2h-76zM1005 1167h101v2h-101zM1744 1251h34v2h-34zM1433 981h60v3h-60zM1076 1008h45v3h-45zM1173 1407h61v1h-61zM1164 1380h66v2h-66zM1702 1341h71v3h-71zM999 930h103v3h-103zM1721 1356h22v2h-22zM1144 1251h98v3h-98zM1677 937h68v2h-68zM1816 1410h19v2h-19zM1099 1053h70v3h-70zM1294 984h15v1h-15zM1757 947h43v3h-43zM1627 1054h91v2h-91zM1411 1329h18v2h-18zM1357 976h17v3h-17zM1006 1237h77v3h-77zM1309 1014h95v1h-95zM1714 1074h18v2h-18zM1437 1224h33v2h-33zM1569 1258h95v3h-95zM1251 1031h18v2h-18zM1578 1104h41v3h-41zM1129 1073h76v2h-76zM1807 1052h29v2h-29zM1623 1140h53v3h-53zM1634 1202h91v3h-91zM1204 1021h41v3h-41zM1522 1156h39v2h-39zM1367 1025h91v3h-91zM1363 1197h38v2h-38zM1394 1110h45v3h-45zM1694 1318h64v2h-64zM1255 1223h25v2h-25zM1505 1331h74v3h-74zM1522 936h15v2h-15zM1612 1129h46v3h-46zM1643 926h27v2h-27zM1542 1177h77v2h-77zM1126 1248h71v3h-71zM1727 1302h93v2h-93zM1496 1030h69v3h-69zM1597 1245h55v2h-55z"/>
<path fill="#4754f5" fill-opacity="0.50" d="M1164 1275h17v3h-17zM1579 977h80v3h-80zM1267 1087h17v2h-17zM1429 1104h46v3h-46zM1369 1040h51v2h-51zM1287 1211h105v3h-105zM1330 1070h46v2h-46zM1073 936h19v2h-19zM1463 1281h106v3h-106zM1010 1306h106v1h-106zM1522 1221h17v1h-17zM1331 1033h29v2h-29zM1311 1207h34v2h-34zM1213 1132h21v2h-21zM1045 1324h67v3h-67zM1020 1252h98v3h-98zM1091 1068h55v3h-55zM1318 1120h54v3h-54zM1445 1132h16v1h-16zM1030 941h27v2h-27zM1107 1216h18v1h-18zM1598 932h64v2h-64zM1530 1003h82v3h-82zM1596 1327h17v2h-17zM1027 933h100v2h-100zM1138 1066h17v3h-17zM1183 1282h22v3h-22zM1143 1100h83v2h-83zM1220 1172h61v1h-61zM1746 1089h44v2h-44zM1441 979h61v2h-61zM1102 1013h19v2h-19zM1714 1270h20v1h-20zM1437 1155h45v2h-45zM1647 1299h106v2h-106zM1454 1149h108v1h-108zM1376 1027h99v2h-99zM1059 1307h20v2h-20zM1667 1176h88v2h-88zM1052 1292h63v2h-63zM1690 1160h57v1h-57zM1803 1100h18v1h-18zM1326 1244h71v1h-71zM1694 1348h37v1h-37zM1644 1337h20v3h-20zM1384 935h78v1h-78zM1734 964h32v3h-32zM1757 1008h37v1h-37zM1711 1026h18v1h-18zM1631 1140h90v2h-90zM1073 1341h19v1h-19zM1702 1070h17v2h-17zM1669 1000h58v1h-58zM1224 986h98v3h-98zM1610 1028h39v2h-39zM1055 983h94v3h-94zM1449 1152h78v2h-78zM1254 938h27v3h-27zM1815 1269h27v1h-27zM1267 1170h36v2h-36zM1022 1142h78v2h-78zM1808 973h17v3h-17zM1225 1322h95v2h-95zM1470 1310h106v2h-106zM1436 1075h37v3h-37zM1477 998h62v2h-62zM1723 1091h45v1h-45zM1371 1108h95v2h-95zM1383 1062h38v2h-38zM1691 929h17v2h-17zM1003 1244h88v3h-88zM1624 1287h18v2h-18zM1296 1241h98v1h-98zM1569 1007h32v1h-32zM1606 1000h97v1h-97zM1701 979h34v2h-34zM1779 1206h72v2h-72zM1617 1097h20v3h-20zM1550 1242h16v2h-16zM1289 1365h66v2h-66zM1447 929h25v2h-25zM1773 1079h88v1h-88z"/>
<path fill="#4754f5" fill-opacity="0.75" d="M1043 1030h18v3h-18zM1213 953h94v1h-94zM1305 1251h76v2h-76zM1743 1346h79v2h-79zM1464 1023h24v3h-24zM1111 1272h21v1h-21zM1400 1107h52v3h-52zM1266 920h77v3h-77zM1740 1291h44v3h-44zM1700 1250h53v3h-53zM1406 1300h31v2h-31zM1243 1140h48v1h-48zM1782 1154h68v1h-68zM1595 1273h77v2h-77zM1731 1007h58v2h-58zM1641 1031h88v2h-88zM1423 1054h28v1h-28zM1317 1333h77v2h-77zM1381 1093h93v2h-93zM1055 1337h24v2h-24zM1144 1261h99v2h-99zM1094 1024h107v2h-107zM1204 1238h38v2h-38zM1616 1023h38v1h-38zM1533 1084h94v2h-94zM1100 1310h23v2h-23zM1602 1128h49v2h-49zM1333 1271h25v2h-25zM1484 1293h41v3h-41zM1219 1263h19v1h-19zM1615 1259h60v1h-60zM1409 1267h21v2h-21zM1341 999h36v1h-36zM1525 1134h16v2h-16zM1334 1408h54v1h-54zM1047 1288h82v1h-82zM1101 1297h74v2h-74zM1536 1087h58v3h-58zM1374 1145h63v1h-63zM1426 1034h55v2h-55zM1069 992h72v2h-72zM1273 932h68v3h-68zM1153 1025h106v2h-106zM1678 1334h58v3h-58zM1578 998h63v2h-63zM1423 1065h47v1h-47zM1394 1134h21v2h-21zM1398 1365h20v3h-20zM1750 1126h91v2h-91zM1191 1341h18v1h-18zM1773 947h35v2h-35zM1689 978h17v1h-17zM988 1102h109v2h-109zM1628 1325h46v2h-46zM1538 1134h87v2h-87zM1321 1287h16v2h-16zM1085 1304h62v1h-62zM1122 1148h65v3h-65zM1622 1289h72v3h-72zM1540 1177h89v2h-89zM1527 1413h38v2h-38zM1515 993h16v3h-16zM1740 1371h26v2h-26zM1202 1254h21v2h-21zM1769 1021h23v2h-23zM1625 1088h23v2h-23zM1204 1258h19v1h-19zM1316 1142h58v3h-58zM1652 961h29v3h-29zM1467 1138h27v2h-27zM1373 976h28v3h-28zM1477 1035h92v2h-92zM1181 1097h110v2h-110zM1425 947h19v1h-19zM1015 1288h104v3h-104zM1467 1033h76v2h-76zM1456 1326h91v2h-91zM1257 953h96v2h-96zM1384 940h25v2h-25zM1180 971h78v1h-78zM1761 1332h31v1h-31zM1394 1283h34v2h-34zM1120 1324h27v2h-27zM1561 959h39v3h-39zM1218 1197h106v2h-106zM1729 1361h48v3h-48zM1744 1161h101v2h-101zM1616 1084h79v3h-79zM1513 1068h28v1h-28zM1254 1087h28v2h-28zM1067 1183h62v1h-62zM1310 1104h47v1h-47zM1564 1148h78v2h-78zM1425 1262h15v2h-15zM1746 1188h34v2h-34zM1098 939h66v3h-66zM1542 1147h103v2h-103zM1174 1102h50v2h-50zM1095 1043h85v2h-85zM1410 1033h51v2h-51zM1100 1108h71v3h-71zM1063 1287h45v3h-45zM1659 1198h20v2h-20zM1675 1069h18v2h-18zM1114 1072h46v2h-46zM1108 1105h90v2h-90zM1530 955h50v3h-50zM1059 1265h64v2h-64zM1550 1042h23v2h-23zM1127 1089h108v2h-108zM1238 1352h31v3h-31zM1669 1340h18v3h-18zM1775 949h27v2h-27zM1744 1334h95v2h-95zM1464 1311h82v2h-82zM1505 1298h57v3h-57zM1320 1302h18v3h-18zM1248 930h33v2h-33zM1470 1062h32v2h-32zM1623 1069h44v3h-44zM1814 1064h32v3h-32zM1177 1021h40v2h-40zM1084 1113h69v1h-69zM1425 1285h19v2h-19zM1707 1130h97v1h-97zM1735 983h24v2h-24zM1109 1105h21v2h-21zM1473 984h19v2h-19zM1754 963h17v3h-17zM1422 1038h86v3h-86zM1742 1300h75v3h-75zM1787 1328h43v2h-43zM1426 1409h33v2h-33zM1191 1242h42v2h-42zM1484 1171h55v2h-55zM1554 1073h28v1h-28zM1297 1049h30v1h-30zM1295 1200h27v2h-27zM1771 1009h22v1h-22zM1546 976h100v1h-100zM1707 1232h19v3h-19zM1634 1405h99v2h-99zM1031 1262h22v2h-22zM1691 1149h90v2h-90zM1052 1115h109v3h-109zM1413 1246h84v3h-84zM1158 1065h92v2h-92zM1173 1086h37v2h-37zM1530 1048h88v1h-88zM1192 1022h17v2h-17zM1358 1346h66v1h-66zM1103 1177h59v1h-59zM1618 1317h30v3h-30zM1316 1054h50v2h-50zM1464 1090h16v2h-16zM1299 969h37v3h-37zM1217 932h69v2h-69zM1525 1283h78v2h-78zM1648 1127h46v2h-46zM1765 1080h46v3h-46zM1474 1143h61v1h-61zM1690 1140h65v1h-65zM1062 1277h107v3h-107zM1035 1015h72v2h-72zM1756 1103h23v3h-23zM1727 1222h106v3h-106zM1506 966h90v1h-90zM1089 1010h53v2h-53zM1126 1302h43v3h-43zM1332 1074h15v2h-15zM1181 1164h21v2h-21zM1735 1135h17v2h-17zM1219 1067h103v2h-103zM1357 1108h109v3h-109zM1361 1055h100v2h-100zM1425 1318h109v1h-109zM1046 1102h19v2h-19zM1408 1052h107v1h-107zM1192 1327h104v2h-104zM1275 1305h101v1h-101zM1544 1186h18v3h-18zM1596 921h74v1h-74z"/>
<path fill="#4754f5" fill-opacity="1.00" d="M1406 1110h19v2h-19zM1721 1257h25v3h-25zM1150 1080h48v1h-48zM1138 1119h21v3h-21zM1673 1142h94v1h-94zM1130 1067h67v2h-67zM1667 1119h41v1h-41zM1211 1244h81v2h-81zM1446 1097h99v1h-99zM1654 1314h70v2h-70zM1036 1123h87v2h-87zM1500 1267h94v3h-94zM1289 932h22v2h-22zM1283 1057h68v2h-68zM1289 1094h61v2h-61zM1284 1140h22v2h-22zM1279 1224h38v2h-38zM1396 1003h105v2h-105zM1608 1041h32v2h-32zM1039 1342h21v2h-21zM1103 1088h104v2h-104zM1786 1307h40v2h-40zM1789 1074h46v2h-46zM1464 1121h28v2h-28zM1787 1017h17v1h-17zM1318 1008h26v3h-26zM1181 1060h15v2h-15zM1246 1136h32v3h-32zM1739 1302h16v2h-16zM1596 974h45v1h-45zM1178 1236h100v2h-100zM1142 1267h92v2h-92zM1301 1226h31v1h-31zM1780 1286h28v2h-28zM1201 1115h77v1h-77zM1288 1137h22v2h-22zM1705 1085h45v2h-45zM1286 1121h26v1h-26zM1052 1066h19v2h-19zM1100 1100h77v2h-77zM1265 993h74v3h-74zM1182 1289h21v3h-21zM1337 1093h57v2h-57zM1028 1318h94v3h-94zM1056 1253h32v2h-32z"/>
</g>
<g>
<ellipse cx="1105" cy="1137" rx="52" ry="26" fill="url(#bc)" opacity="0.80"/>
<ellipse cx="1252" cy="1141" rx="60" ry="32" fill="url(#bc)" opacity="1.00"/>
<ellipse cx="1345" cy="1133" rx="52" ry="26" fill="url(#bc)" opacity="0.80"/>
<ellipse cx="1442" cy="1136" rx="56" ry="26" fill="url(#bc)" opacity="0.90"/>
<ellipse cx="1540" cy="1134" rx="52" ry="26" fill="url(#bc)" opacity="0.85"/>
<ellipse cx="1640" cy="1131" rx="56" ry="26" fill="url(#bc)" opacity="0.85"/>
<ellipse cx="1742" cy="1134" rx="52" ry="26" fill="url(#bc)" opacity="0.90"/>
<ellipse cx="1420" cy="1040" rx="45" ry="18" fill="url(#bc)" opacity="0.40"/>
<ellipse cx="1250" cy="1185" rx="50" ry="18" fill="url(#bc)" opacity="0.40"/>
<ellipse cx="1760" cy="1020" rx="45" ry="16" fill="url(#bc)" opacity="0.35"/>
<ellipse cx="1200" cy="1138" rx="40" ry="18" fill="url(#bc)" opacity="0.50"/>
<ellipse cx="1590" cy="1134" rx="40" ry="18" fill="url(#bc)" opacity="0.50"/>
<ellipse cx="1246" cy="1305" rx="50" ry="20" fill="url(#bb)" opacity="0.90"/>
<ellipse cx="1608" cy="1292" rx="52" ry="22" fill="url(#bb)" opacity="1.00"/>
<ellipse cx="1440" cy="1262" rx="50" ry="16" fill="url(#bb)" opacity="0.50"/>
<ellipse cx="1100" cy="1292" rx="50" ry="16" fill="url(#bb)" opacity="0.50"/>
<ellipse cx="1340" cy="1270" rx="45" ry="14" fill="url(#bb)" opacity="0.40"/>
<ellipse cx="1740" cy="1280" rx="45" ry="14" fill="url(#bb)" opacity="0.40"/>
</g>
<g filter="url(#sb2)">
<rect x="1061.5" y="1125.5" width="753" height="2" fill="#30a8e0" fill-opacity="0.5"/>
<rect x="1061.5" y="1125.3" width="48.5" height="2.4" fill="#b0c040" fill-opacity="0.85"/>
<rect x="1210" y="1125.3" width="50" height="2.4" fill="#7cc868" fill-opacity="0.85"/>
<rect x="1420" y="1125.3" width="40" height="2.4" fill="#60c0a0" fill-opacity="0.85"/>
<rect x="1630" y="1125.3" width="70" height="2.4" fill="#a8c850" fill-opacity="0.85"/>
<rect x="1780" y="1125.3" width="34" height="2.4" fill="#c0b848" fill-opacity="0.85"/>
</g>
</g>
<line x1="1061.5" y1="921.5" x2="1814.5" y2="1477.5" stroke="#6a78ff" stroke-opacity="0.28" stroke-width="1.2"/>
<path d="M1250 1477.5v-9M1250 921.5v9M1440 1477.5v-9M1440 921.5v9M1629.6 1477.5v-9M1629.6 921.5v9" stroke="#1a1a60" stroke-width="1.5" opacity="0.6"/>
<path d="" stroke="#1a1a60" stroke-width="1.5" opacity="0.6"/>
<rect x="1061.5" y="921.5" width="753" height="556" fill="none" stroke="#2a2a40" stroke-width="2.2"/>
<rect x="1107.3" y="1089.3" width="635" height="58.7" fill="none" stroke="#ff1010" stroke-width="4.6" stroke-dasharray="18.5 11.5"/>
<line x1="1537.3" y1="1032.3" x2="1504.4" y2="1058.3" stroke="#e01530" stroke-width="2.6"/>
<path d="M1483.2 1075L1496.6 1048.5L1512.1 1068.1Z" fill="#ff1010"/>
<text x="1572" y="1015" font-size="46" fill="#fff" style="font-family:&quot;DejaVu Serif&quot;,serif;font-style:italic">f</text>
<text x="1595.5" y="1017.5" font-size="29" fill="#fff">i</text>
<text x="1031" y="940.7" font-size="51.5" text-anchor="middle" fill="#303030">5</text>
<text x="1031" y="1055.5" font-size="51.5" text-anchor="middle" fill="#303030">4</text>
<text x="1031" y="1163.5" font-size="51.5" text-anchor="middle" fill="#303030">3</text>
<text x="1031" y="1274.5" font-size="51.5" text-anchor="middle" fill="#303030">2</text>
<text x="1031" y="1384.5" font-size="51.5" text-anchor="middle" fill="#303030">1</text>
<text x="1031" y="1495.5" font-size="51.5" text-anchor="middle" fill="#303030">0</text>
<text x="1060.6" y="1542" font-size="51.5" text-anchor="middle" fill="#303030">0</text>
<text x="1250" y="1542" font-size="51.5" text-anchor="middle" fill="#303030">0.02</text>
<text x="1440" y="1542" font-size="51.5" text-anchor="middle" fill="#303030">0.04</text>
<text x="1629.6" y="1542" font-size="51.5" text-anchor="middle" fill="#303030">0.06</text>
<text x="1439.8" y="1613" font-size="56.5" text-anchor="middle" fill="#303030">Time/s</text>
<text x="994.3" y="1200" font-size="53" text-anchor="middle" fill="#303030" transform="rotate(-90 994.3 1200)">Frequency/KHz</text>
<text x="1378" y="1724" font-size="42" text-anchor="middle" fill="#303030">(d)</text>
<g clip-path="url(#ce)">
<rect x="160" y="1800" width="729.5" height="546.5" fill="url(#ge)"/>
<g filter="url(#sb)">
<path fill="#3e26a8" fill-opacity="0.50" d="M420 2138h63v2h-63zM896 2215h20v2h-20zM695 2128h46v3h-46zM416 1971h40v2h-40zM848 1862h113v2h-113zM520 2033h85v2h-85zM673 2218h96v3h-96zM415 1902h38v3h-38zM487 1917h90v2h-90zM680 2007h58v3h-58zM746 2054h36v3h-36zM628 2082h69v2h-69zM382 1981h123v3h-123zM286 1998h38v2h-38zM631 2140h44v3h-44zM342 1972h69v3h-69zM803 2028h40v3h-40zM679 1956h128v3h-128zM650 2150h49v3h-49zM226 1808h48v3h-48zM456 1908h84v2h-84zM325 2120h36v2h-36zM444 2002h28v2h-28zM785 2118h20v2h-20zM209 1837h38v2h-38zM516 1992h20v2h-20zM220 2170h21v3h-21zM547 1943h37v2h-37zM725 1876h95v2h-95zM306 2101h89v2h-89zM215 1981h49v3h-49zM669 1946h78v2h-78zM699 2134h92v2h-92zM521 2160h62v3h-62zM776 2001h22v3h-22zM614 2139h54v3h-54zM835 2142h107v3h-107zM615 2188h100v2h-100zM870 1991h36v2h-36zM151 1817h43v3h-43zM310 1925h52v3h-52zM144 2213h103v3h-103zM685 1963h21v3h-21zM663 1846h91v2h-91zM586 2197h43v3h-43zM818 1982h45v2h-45zM857 1987h23v2h-23zM748 1963h27v3h-27zM276 1835h95v2h-95zM511 1997h73v2h-73zM472 1957h61v3h-61zM752 1811h44v3h-44zM811 2007h83v2h-83zM546 1944h117v2h-117zM661 2207h79v2h-79zM706 2025h79v3h-79zM842 2005h122v2h-122zM799 1820h28v3h-28zM504 1965h127v3h-127zM362 2163h81v2h-81zM213 2014h111v2h-111zM489 1832h55v2h-55zM238 1919h28v3h-28zM335 1851h30v3h-30zM544 2156h53v3h-53zM648 2131h113v3h-113zM730 2026h51v3h-51zM652 1970h64v2h-64zM352 1902h61v3h-61zM645 1920h100v3h-100zM877 2079h62v3h-62zM695 2184h28v2h-28zM235 1826h33v3h-33zM293 1808h20v2h-20zM244 1862h95v2h-95zM148 2165h67v2h-67zM543 2173h106v3h-106zM310 2112h74v3h-74zM452 2082h60v2h-60zM254 1845h35v3h-35zM571 2174h36v3h-36zM244 1932h27v3h-27zM597 2194h67v2h-67zM698 2126h24v3h-24zM230 2081h61v3h-61zM233 2017h107v2h-107zM835 1839h38v3h-38zM443 1942h81v2h-81zM716 2190h46v3h-46zM596 2209h25v2h-25zM471 2048h61v2h-61zM303 2032h31v3h-31zM449 2019h82v2h-82zM382 1974h20v2h-20zM543 2008h54v2h-54zM158 1824h107v3h-107zM725 2164h93v2h-93zM489 1964h35v2h-35zM248 1957h87v3h-87zM195 2105h123v3h-123zM417 2011h78v2h-78zM157 1997h37v3h-37zM625 2156h119v2h-119zM385 1950h113v2h-113zM259 1974h72v3h-72zM661 1945h79v3h-79zM300 1887h35v3h-35zM717 1957h39v2h-39zM115 1989h92v3h-92zM357 2152h81v3h-81zM297 1975h43v3h-43zM756 2191h116v3h-116zM174 1825h24v2h-24zM778 1981h33v2h-33zM279 2218h116v2h-116zM758 1868h36v2h-36zM703 1812h28v3h-28zM703 1972h84v3h-84zM140 1966h39v3h-39zM372 2257h66v2h-66zM819 2119h109v2h-109zM217 1952h47v2h-47zM471 2144h121v3h-121zM530 1830h96v2h-96zM692 2170h86v2h-86zM295 1856h32v3h-32zM518 1908h35v2h-35zM730 2035h97v3h-97zM615 2117h47v2h-47zM184 2130h32v2h-32zM750 1962h87v2h-87zM357 2118h26v2h-26zM551 1960h42v2h-42zM441 2185h107v3h-107zM665 2076h123v2h-123zM676 1842h53v3h-53zM644 2176h80v3h-80zM513 2080h81v2h-81zM400 1833h87v3h-87zM482 2138h22v3h-22zM626 2189h122v3h-122zM232 2250h46v2h-46zM299 2123h120v3h-120zM800 1978h78v2h-78zM520 2127h114v2h-114zM402 1843h49v3h-49zM242 2034h24v2h-24zM221 2074h57v2h-57zM142 1906h130v3h-130zM447 1900h104v3h-104zM455 1880h113v3h-113zM690 2129h111v3h-111zM408 1886h105v2h-105zM733 1997h54v2h-54zM360 2231h50v3h-50zM776 2113h51v3h-51zM158 1875h20v2h-20zM313 2025h44v2h-44zM404 1889h28v2h-28zM139 1846h73v3h-73zM438 1858h61v3h-61zM565 1939h21v2h-21zM765 1889h29v2h-29zM261 2024h46v3h-46zM756 2158h98v3h-98zM479 1903h28v2h-28zM435 1990h26v2h-26zM718 1968h20v2h-20zM404 2177h22v2h-22zM690 1957h23v3h-23zM413 1813h58v2h-58zM555 2149h49v3h-49zM292 2054h21v3h-21zM711 2025h86v2h-86zM524 1852h83v3h-83zM776 2211h112v2h-112zM863 2113h42v3h-42zM171 2162h73v2h-73zM397 2160h107v2h-107zM484 1814h94v3h-94zM431 2201h57v3h-57zM249 1811h22v2h-22zM446 2166h76v3h-76zM875 2223h62v3h-62zM824 1882h21v3h-21zM562 2075h74v3h-74zM657 1888h115v3h-115zM559 2084h44v3h-44zM228 1882h39v2h-39zM797 2143h93v2h-93zM691 1889h79v3h-79zM206 1855h108v2h-108zM272 1905h71v2h-71zM825 2210h53v2h-53zM715 2093h86v3h-86zM693 2167h40v3h-40zM256 2199h72v2h-72zM233 2210h46v3h-46zM734 2085h33v2h-33zM483 2185h87v3h-87zM466 1814h63v2h-63zM131 2014h43v3h-43zM465 1842h89v3h-89zM700 1849h43v2h-43zM609 1964h23v3h-23zM857 1851h64v3h-64zM410 1850h40v2h-40zM461 2188h69v2h-69zM114 1977h58v3h-58zM505 1831h78v2h-78zM344 1828h33v2h-33zM195 1887h28v3h-28zM774 2176h130v3h-130zM303 2057h44v3h-44zM269 1809h32v2h-32zM828 1885h39v3h-39zM223 1885h81v2h-81zM256 1960h123v3h-123zM103 1959h83v3h-83zM636 1928h38v3h-38zM679 1835h20v3h-20zM836 2137h46v2h-46zM315 2090h65v2h-65zM885 2107h27v2h-27zM506 1970h43v2h-43zM546 1975h30v3h-30zM519 1839h47v3h-47zM658 2112h77v2h-77zM744 1915h49v3h-49zM790 1840h41v3h-41zM158 2167h113v2h-113zM760 1847h28v2h-28zM319 1858h20v3h-20zM336 2016h86v3h-86zM474 2181h25v2h-25zM296 2031h108v3h-108zM432 2183h109v2h-109zM751 1959h63v2h-63zM816 1831h27v2h-27zM658 2200h38v3h-38zM767 1845h25v3h-25zM492 1999h25v2h-25zM682 1822h125v2h-125zM417 2063h47v2h-47zM796 2027h75v3h-75zM251 1947h77v2h-77zM168 1862h22v3h-22zM842 2085h99v2h-99zM520 2083h30v3h-30zM700 1955h51v3h-51zM137 1941h45v3h-45zM337 1998h55v3h-55zM304 1811h98v3h-98zM842 2173h117v2h-117zM705 2026h92v3h-92zM469 1941h25v2h-25zM707 1930h87v3h-87zM174 2104h43v3h-43zM156 2090h107v2h-107zM614 1835h108v3h-108zM638 2033h123v2h-123zM359 2192h32v2h-32zM671 1889h78v3h-78zM711 1972h38v2h-38zM107 1826h81v3h-81zM557 1989h100v3h-100zM849 2105h94v2h-94zM625 2131h88v2h-88zM340 1998h79v2h-79zM856 2133h29v3h-29zM635 2185h109v2h-109zM499 2009h31v2h-31zM520 1890h36v2h-36zM373 1870h29v3h-29zM274 1912h73v3h-73zM471 2145h22v3h-22zM622 1996h60v2h-60zM271 1982h50v3h-50zM433 1938h117v2h-117zM693 2064h25v3h-25zM874 2136h32v2h-32zM544 1870h20v2h-20zM676 2151h53v3h-53zM517 2292h89v2h-89zM296 2332h46v2h-46zM268 2185h31v2h-31zM557 2122h70v3h-70zM280 2121h66v2h-66zM560 2154h61v2h-61zM116 2089h99v3h-99zM299 2088h67v2h-67zM401 1924h21v2h-21zM801 2131h21v2h-21zM359 2134h30v2h-30zM317 2086h90v3h-90zM521 1993h56v2h-56zM102 2134h103v3h-103zM253 2119h61v2h-61zM501 1989h118v2h-118zM220 1860h84v3h-84zM595 1848h59v3h-59zM235 1959h42v3h-42zM664 2156h46v2h-46zM677 1971h39v2h-39zM197 2202h83v3h-83zM558 2190h100v3h-100zM565 2238h29v3h-29zM876 2153h25v2h-25zM581 1811h77v2h-77zM644 1913h27v3h-27zM590 1856h67v2h-67zM574 2206h127v3h-127zM391 2183h67v3h-67zM486 1875h114v2h-114zM655 2064h110v3h-110zM675 1899h111v3h-111zM696 1815h31v2h-31zM423 2030h32v3h-32zM264 2125h92v3h-92zM799 1870h40v2h-40zM227 2009h22v3h-22zM411 1850h71v2h-71zM855 2287h46v2h-46zM138 2111h98v3h-98zM330 2069h55v3h-55zM506 1998h106v2h-106zM753 2058h37v2h-37zM245 2187h38v2h-38zM395 2082h48v3h-48zM375 1947h58v2h-58zM147 2186h109v3h-109zM298 1809h30v3h-30zM354 2061h123v2h-123zM360 2270h69v3h-69zM634 1806h36v2h-36zM299 2179h51v2h-51zM192 1893h27v3h-27zM499 2117h65v2h-65zM156 2057h61v3h-61zM178 1956h33v2h-33zM596 2196h38v2h-38zM891 1813h28v2h-28zM679 2086h126v3h-126zM416 2280h49v3h-49zM758 2015h31v2h-31zM524 2138h31v3h-31zM689 2045h32v3h-32zM610 1799h36v2h-36zM151 2023h25v2h-25zM604 2198h110v3h-110zM378 1821h34v3h-34zM692 1804h31v3h-31zM716 2117h65v3h-65zM609 1956h118v2h-118zM745 1939h61v2h-61zM637 2090h42v3h-42zM868 1882h42v3h-42zM488 2065h20v3h-20zM433 1993h109v2h-109zM431 1969h43v2h-43zM163 1833h59v3h-59zM496 2137h59v2h-59zM487 2001h41v3h-41zM516 1847h23v3h-23zM783 2040h108v3h-108zM220 1955h44v2h-44zM541 1934h37v3h-37zM521 1805h86v3h-86zM715 2033h105v2h-105zM780 1855h90v3h-90zM269 1922h29v2h-29zM638 2152h91v3h-91zM468 2028h125v2h-125zM363 1884h43v3h-43zM503 2300h25v2h-25zM498 1994h49v2h-49zM670 2182h41v2h-41z"/>
<path fill="#3e26a8" fill-opacity="0.75" d="M108 2132h91v2h-91zM654 2182h82v3h-82zM524 2125h20v2h-20zM231 2303h21v2h-21zM222 1831h23v2h-23zM137 2155h45v2h-45zM761 2205h23v2h-23zM461 1808h115v3h-115zM131 2099h53v2h-53zM144 2160h22v3h-22zM732 2172h53v2h-53zM325 2101h76v3h-76zM592 2127h21v2h-21zM255 2084h78v3h-78zM292 2199h70v2h-70zM522 2107h24v3h-24zM206 2138h68v2h-68zM516 2179h22v3h-22zM171 1970h57v2h-57zM312 1800h33v2h-33zM812 1887h78v2h-78zM111 1886h68v3h-68zM508 2269h42v3h-42zM548 2082h22v2h-22zM560 1980h112v3h-112zM379 2019h124v3h-124zM345 1865h33v3h-33zM672 1868h57v2h-57zM643 1933h28v3h-28zM844 2133h113v3h-113zM409 1923h96v3h-96zM226 1983h28v3h-28zM228 2010h116v3h-116zM747 2009h21v3h-21zM594 1864h25v3h-25zM364 1911h44v3h-44zM462 2162h20v3h-20zM751 1882h109v2h-109zM163 2190h82v2h-82zM314 1948h22v3h-22zM164 2084h90v3h-90zM611 2214h24v3h-24zM738 1967h52v2h-52zM765 2161h32v2h-32zM133 1903h96v2h-96zM289 2102h46v2h-46zM876 2240h31v2h-31zM721 2144h49v2h-49zM489 2125h127v2h-127zM524 2061h55v2h-55zM613 2116h20v3h-20zM447 1975h23v3h-23zM698 1820h23v3h-23zM751 1936h75v3h-75zM716 2018h21v2h-21zM637 2144h65v2h-65zM587 1807h60v3h-60zM234 1938h120v2h-120zM742 1911h41v3h-41zM235 2150h20v3h-20zM574 2241h99v3h-99zM331 2121h59v2h-59zM166 2176h21v2h-21zM837 2037h87v3h-87zM417 1897h24v2h-24zM557 1822h25v2h-25zM727 2253h38v3h-38zM273 2268h21v3h-21zM870 2006h22v3h-22zM376 2095h69v2h-69zM701 1943h46v2h-46zM353 2199h24v3h-24zM551 1819h22v2h-22zM758 1939h114v2h-114zM319 1887h35v2h-35zM625 1873h55v2h-55zM425 2024h74v3h-74zM538 2065h76v2h-76zM384 2120h28v2h-28zM293 1967h43v3h-43zM360 1972h130v3h-130zM790 1893h53v3h-53zM136 1997h26v3h-26zM549 1889h42v3h-42zM337 2215h46v3h-46zM521 2122h20v2h-20zM561 2020h51v2h-51zM668 1839h23v2h-23zM331 1844h122v3h-122zM541 2313h46v3h-46zM405 2008h20v2h-20zM827 2164h37v2h-37zM170 2189h28v3h-28zM479 1869h64v3h-64zM522 2076h71v3h-71zM722 2241h77v2h-77zM532 2182h75v3h-75zM539 1962h99v2h-99zM453 1943h109v2h-109zM871 1896h20v3h-20zM555 1998h31v3h-31zM246 2212h88v2h-88zM195 2114h64v2h-64zM637 2249h86v3h-86zM681 2213h93v2h-93zM524 2004h26v3h-26zM241 1871h59v2h-59zM833 1854h99v2h-99zM160 2190h31v3h-31zM313 2012h125v2h-125zM165 2083h40v2h-40zM647 2153h45v2h-45zM769 1868h88v2h-88zM780 2102h91v2h-91zM629 2002h38v2h-38zM726 2122h51v2h-51zM251 1945h64v3h-64zM509 1813h25v2h-25zM194 1915h20v2h-20zM852 1891h106v3h-106zM678 1941h117v3h-117zM396 2183h82v3h-82zM756 2176h119v3h-119zM638 2140h123v2h-123zM419 1880h107v3h-107zM656 1983h121v3h-121zM424 1976h84v2h-84zM668 2075h101v2h-101zM848 1835h104v3h-104zM622 1916h37v2h-37zM680 2083h76v3h-76zM773 2056h48v2h-48zM799 2215h52v2h-52zM149 1890h43v2h-43zM193 2122h88v2h-88zM709 1988h38v3h-38zM182 1940h83v2h-83zM320 2023h40v3h-40zM666 2114h105v2h-105zM168 1819h122v3h-122zM291 1826h92v2h-92zM252 2157h82v2h-82zM790 1844h68v2h-68zM474 2233h20v3h-20zM831 2183h100v3h-100zM535 2133h63v3h-63zM745 1971h54v2h-54zM408 1946h24v3h-24zM712 2188h87v2h-87zM266 2121h51v2h-51zM523 2069h45v3h-45zM159 1939h38v2h-38zM513 2013h37v2h-37zM233 1983h64v2h-64zM580 2199h51v2h-51zM590 2115h82v3h-82zM756 2156h24v3h-24zM301 1844h79v3h-79zM500 1865h41v2h-41zM563 1908h23v2h-23zM408 2112h27v2h-27zM404 1903h64v3h-64zM316 1832h29v3h-29zM439 1915h32v2h-32zM657 2000h50v3h-50zM616 1870h52v2h-52zM861 2150h55v3h-55zM265 1930h70v2h-70zM656 1939h112v3h-112zM222 1961h96v3h-96zM275 2043h60v2h-60zM833 2148h72v3h-72zM192 2154h20v3h-20zM244 1892h112v3h-112zM515 2160h111v3h-111zM627 1953h92v3h-92zM679 2223h102v2h-102zM648 1899h94v3h-94zM518 1910h55v2h-55zM224 2010h111v3h-111zM293 1836h41v2h-41zM349 2013h21v3h-21zM153 2040h64v3h-64zM668 1859h77v2h-77zM860 1849h50v3h-50zM586 1938h83v2h-83zM561 2202h120v3h-120zM755 1822h63v3h-63zM590 1875h28v2h-28zM702 2197h67v3h-67zM214 2006h32v2h-32zM486 2137h55v3h-55zM497 2170h94v2h-94zM655 1994h106v3h-106zM713 2180h55v2h-55zM775 2168h68v2h-68zM508 1860h95v2h-95zM778 1871h20v3h-20zM780 1996h29v2h-29zM485 1972h27v3h-27zM176 1814h118v2h-118zM315 1988h121v2h-121zM881 1861h26v3h-26zM172 1871h107v3h-107zM328 2109h48v3h-48zM611 2153h77v2h-77zM675 1846h24v3h-24zM189 1977h54v2h-54zM868 2152h51v3h-51zM650 2001h92v3h-92zM181 2202h36v2h-36zM141 2157h53v2h-53zM749 1853h21v3h-21zM123 1935h98v2h-98zM314 1901h78v3h-78zM553 2165h77v3h-77zM679 2135h92v3h-92zM329 2162h87v3h-87zM160 1826h66v3h-66zM328 1894h77v3h-77zM588 1932h97v3h-97zM477 2128h35v3h-35zM638 2202h43v3h-43zM293 1921h73v3h-73zM521 1829h59v2h-59zM173 1932h87v2h-87zM636 1880h21v3h-21zM713 2194h26v3h-26zM376 2184h113v2h-113zM657 2115h109v3h-109zM145 2159h69v2h-69zM694 1838h32v2h-32zM385 2000h45v2h-45zM317 1887h50v3h-50zM513 2099h30v2h-30zM103 1855h125v3h-125zM148 1988h67v2h-67zM207 2143h48v3h-48zM768 2158h21v2h-21zM400 2185h96v2h-96zM329 2140h41v2h-41zM288 1929h42v2h-42zM886 2173h22v3h-22zM869 2088h76v3h-76zM516 2068h77v3h-77zM730 1978h22v2h-22zM357 2031h30v2h-30zM457 1891h104v3h-104zM627 1913h55v2h-55zM490 2043h68v3h-68zM682 1958h44v2h-44zM423 1995h89v3h-89zM686 2124h84v2h-84zM759 2011h28v2h-28zM738 1946h94v3h-94zM605 1953h76v2h-76zM818 2135h22v2h-22zM430 1945h57v2h-57zM692 2062h68v2h-68zM851 1992h33v2h-33zM525 2004h117v3h-117zM797 1806h22v2h-22zM284 2202h39v2h-39zM102 1987h93v3h-93zM657 2066h41v3h-41zM387 2119h51v2h-51zM875 1960h33v2h-33zM491 1956h34v2h-34zM805 2148h20v2h-20zM423 2178h35v2h-35zM839 1823h58v2h-58zM427 1940h130v3h-130zM301 2244h44v2h-44zM263 2108h20v2h-20zM655 1870h23v2h-23zM806 1799h24v3h-24zM587 1806h129v2h-129zM427 2164h114v2h-114zM350 1813h114v3h-114zM731 2054h96v3h-96zM140 2177h23v2h-23zM250 2199h90v3h-90zM320 1916h103v2h-103zM348 1944h115v2h-115zM806 1960h86v3h-86zM673 1907h46v3h-46zM689 2140h78v3h-78zM595 2153h54v2h-54zM456 2019h52v2h-52zM824 2194h60v2h-60zM507 2151h20v2h-20zM785 1855h90v3h-90zM736 2126h115v3h-115zM92 1957h128v2h-128zM628 2183h56v2h-56zM415 2159h22v2h-22zM489 2194h112v2h-112zM500 2197h34v2h-34zM171 1914h38v2h-38zM117 2022h117v2h-117zM581 2028h35v2h-35zM580 2146h57v3h-57zM638 2205h79v2h-79zM371 1799h20v2h-20zM275 1817h20v3h-20zM508 1971h66v3h-66zM164 1957h28v3h-28zM617 1827h113v3h-113zM337 2122h21v3h-21zM702 2166h97v3h-97zM459 2183h89v3h-89zM500 2187h96v2h-96zM723 1975h89v2h-89zM719 1806h38v2h-38zM484 2168h37v2h-37zM354 2016h23v3h-23zM271 2212h95v3h-95zM163 2022h124v3h-124zM209 1937h49v3h-49zM645 2147h21v2h-21zM332 2004h62v3h-62zM725 2021h59v3h-59zM296 1961h129v3h-129z"/>
<path fill="#3380f9" fill-opacity="0.50" d="M547 2003h78v1h-78zM707 2106h73v1h-73zM319 1854h16v1h-16zM116 1875h58v3h-58zM438 1946h72v1h-72zM821 2101h68v2h-68zM579 2005h56v2h-56zM288 2027h18v2h-18zM218 2013h22v2h-22zM188 1861h22v3h-22zM301 1831h16v2h-16zM314 2053h77v2h-77zM331 2128h19v3h-19zM766 2174h27v2h-27zM475 2204h44v1h-44zM589 2205h54v3h-54zM142 1997h42v2h-42zM821 1994h15v3h-15zM281 1959h26v3h-26zM332 1907h17v2h-17zM622 1836h90v1h-90zM563 2137h50v2h-50zM231 2204h17v2h-17zM389 1825h81v1h-81zM352 2004h92v3h-92zM648 1939h40v2h-40zM399 1988h101v1h-101zM331 2207h69v3h-69zM601 1924h39v2h-39zM459 2024h58v2h-58zM385 1984h55v3h-55zM502 2000h15v3h-15zM291 2191h26v2h-26zM684 2107h42v2h-42zM584 2191h75v2h-75zM325 1883h30v2h-30zM739 2136h82v3h-82z"/>
<path fill="#3380f9" fill-opacity="0.75" d="M826 1939h29v2h-29zM745 2020h18v3h-18zM745 2180h64v1h-64zM855 1995h51v3h-51zM878 1978h15v2h-15zM674 2021h20v2h-20zM574 1870h46v2h-46zM252 1971h38v2h-38zM144 1813h105v2h-105zM615 1975h28v2h-28zM623 2143h23v2h-23zM206 2160h55v3h-55zM864 2220h57v3h-57zM693 1899h43v3h-43zM253 2173h92v1h-92zM265 1989h16v3h-16zM544 2208h44v3h-44zM338 1875h50v3h-50zM294 2115h16v2h-16zM470 1863h93v2h-93zM810 2005h59v2h-59zM415 2193h27v3h-27zM364 1905h37v2h-37zM500 2168h71v2h-71zM301 1981h76v2h-76zM622 2021h66v3h-66zM514 2126h44v3h-44zM379 1831h52v2h-52zM259 1981h19v2h-19zM471 2140h99v2h-99zM116 1998h51v3h-51zM134 1892h110v1h-110zM816 2014h31v3h-31zM340 1943h87v2h-87zM194 1983h33v3h-33zM538 2104h43v2h-43zM255 2028h25v2h-25zM665 1822h19v2h-19zM864 1920h62v3h-62zM306 1847h76v3h-76zM592 2154h27v2h-27zM820 2198h38v1h-38zM339 2048h30v3h-30zM570 1820h79v1h-79zM552 2012h16v2h-16zM326 1919h92v2h-92zM548 2025h29v3h-29zM816 2013h99v2h-99zM425 2023h55v2h-55zM587 1912h21v2h-21zM426 2012h40v1h-40zM154 2012h51v2h-51zM137 2009h20v2h-20zM154 2025h72v2h-72zM389 2007h49v2h-49zM331 1918h24v1h-24zM672 1960h78v2h-78zM270 1825h37v2h-37zM586 2000h36v2h-36zM891 2016h19v1h-19zM369 1978h49v3h-49zM266 2160h21v2h-21zM452 2168h49v2h-49zM367 1872h26v2h-26zM147 2015h56v2h-56zM208 2148h80v2h-80zM873 1994h27v2h-27zM851 2004h39v2h-39zM594 2096h59v2h-59zM706 1919h85v1h-85zM442 2211h35v3h-35zM513 1937h73v1h-73zM161 1993h22v2h-22zM767 1851h26v2h-26zM251 2113h56v2h-56zM590 1881h18v2h-18z"/>
<path fill="#3380f9" fill-opacity="1.00" d="M344 1983h96v2h-96zM769 1969h75v3h-75zM468 2015h55v1h-55zM865 1987h35v2h-35zM151 1916h32v2h-32zM485 2218h26v2h-26zM690 1935h16v2h-16zM603 2203h76v2h-76zM675 2148h18v2h-18zM263 1932h41v3h-41zM626 1878h44v2h-44zM280 2050h20v3h-20zM586 2211h18v2h-18zM302 1978h42v2h-42zM306 1889h56v2h-56zM592 2143h18v2h-18zM621 2008h23v2h-23zM798 1958h21v2h-21zM889 2123h16v3h-16zM660 1833h72v3h-72zM532 1799h91v1h-91zM307 1827h21v2h-21zM461 1989h45v1h-45zM291 1995h16v3h-16zM877 2021h15v2h-15zM423 2039h16v2h-16zM348 2110h56v3h-56zM360 2013h80v2h-80zM806 1831h88v3h-88zM844 2020h47v2h-47zM302 1914h52v2h-52z"/>
<path fill="#3f67fb" fill-opacity="0.50" d="M621 1837h15v3h-15zM395 2064h22v3h-22zM257 1972h22v2h-22zM215 2102h54v1h-54zM620 1992h17v1h-17zM246 1997h56v2h-56zM469 1858h31v2h-31zM429 1890h92v3h-92zM389 1923h28v3h-28zM722 1998h68v2h-68zM344 2013h55v3h-55zM770 2120h23v2h-23zM790 1974h16v2h-16zM634 2029h21v2h-21zM761 1924h76v3h-76zM236 1999h75v2h-75zM492 2152h24v3h-24zM159 1986h105v2h-105zM776 2142h100v2h-100zM337 2020h54v1h-54zM676 2011h20v3h-20zM469 1906h73v1h-73zM586 1874h27v1h-27zM255 2021h42v2h-42zM848 2134h106v3h-106zM320 2006h31v2h-31zM246 2169h34v2h-34zM368 2115h76v1h-76zM153 2139h107v2h-107zM719 1824h61v3h-61zM270 2169h65v2h-65zM195 1802h43v2h-43zM802 1990h82v2h-82zM648 1852h38v3h-38zM654 1804h56v2h-56zM679 2045h19v2h-19zM364 2131h73v3h-73zM625 1947h44v2h-44zM439 1944h74v3h-74zM441 2063h16v2h-16zM599 1914h90v2h-90zM524 2137h22v1h-22zM383 2125h20v3h-20zM485 1896h24v1h-24zM168 2100h35v2h-35zM770 1831h63v3h-63zM549 1871h36v2h-36zM771 2019h80v1h-80zM697 2199h99v1h-99zM594 2020h22v3h-22zM729 2223h17v2h-17zM332 1832h90v2h-90zM299 2029h32v3h-32zM715 1863h92v2h-92zM303 2058h101v3h-101zM591 2128h48v2h-48zM402 1928h20v3h-20zM176 1932h35v3h-35zM497 1984h27v2h-27zM175 1824h101v1h-101zM475 2204h19v3h-19zM369 2130h25v2h-25z"/>
<path fill="#3f67fb" fill-opacity="0.75" d="M506 2001h26v3h-26zM372 1983h17v2h-17zM849 2164h30v1h-30zM886 1813h18v1h-18zM601 2158h37v3h-37zM801 1837h60v2h-60zM548 1982h15v2h-15zM595 2006h26v2h-26zM142 2200h25v3h-25zM773 1830h32v3h-32zM635 2148h74v2h-74zM173 2216h53v2h-53zM217 2001h42v2h-42zM853 2016h17v2h-17zM420 2007h105v3h-105zM605 1964h58v2h-58zM788 2037h83v2h-83zM374 2148h29v2h-29zM466 2111h40v3h-40zM112 1965h96v2h-96zM844 1894h16v2h-16zM620 1834h52v2h-52zM396 2149h44v2h-44zM367 2224h39v2h-39zM745 2009h37v3h-37zM335 2070h24v3h-24zM368 2000h33v2h-33zM579 2020h93v3h-93zM412 2026h32v1h-32zM830 2018h67v1h-67zM811 1857h28v3h-28zM594 1991h83v2h-83zM533 2092h16v2h-16zM590 2140h106v2h-106zM791 2146h99v2h-99zM635 2141h91v2h-91zM836 1854h109v3h-109zM435 1956h41v1h-41zM202 1961h57v2h-57zM341 1928h81v2h-81zM259 2106h31v1h-31zM362 2025h20v1h-20zM466 1934h91v3h-91zM598 1976h34v3h-34zM417 2005h106v3h-106zM288 1992h20v3h-20zM744 2021h35v3h-35zM125 1885h66v2h-66zM171 2023h37v3h-37zM296 1999h93v2h-93zM364 1989h96v2h-96zM559 2057h88v2h-88zM117 1823h82v3h-82zM221 2011h46v2h-46zM184 1969h101v2h-101zM534 1989h90v3h-90zM233 2205h71v2h-71zM453 1913h22v1h-22zM488 1861h60v2h-60zM637 1871h28v2h-28zM379 2021h79v3h-79zM505 2218h90v2h-90zM573 2228h109v3h-109zM497 1866h40v3h-40zM294 2061h66v2h-66zM361 2190h100v3h-100zM656 2217h56v2h-56zM321 1852h66v2h-66zM250 1998h34v2h-34zM841 2101h68v2h-68zM862 2213h24v2h-24zM864 1956h27v2h-27zM881 2170h48v3h-48zM226 2113h50v3h-50zM347 2073h95v1h-95zM627 2107h28v3h-28zM832 1909h34v1h-34zM751 2128h94v3h-94zM706 1970h72v3h-72zM180 1914h43v3h-43zM220 2210h24v3h-24zM346 2127h16v2h-16zM755 1840h98v2h-98zM492 2005h15v3h-15zM204 2022h95v3h-95zM746 1845h50v2h-50zM291 2033h91v2h-91zM609 1988h22v3h-22zM223 2028h72v3h-72zM360 2180h16v2h-16zM675 2212h30v2h-30zM481 1958h17v2h-17zM568 2008h91v2h-91zM317 2015h16v1h-16zM261 1936h81v2h-81zM819 2151h23v2h-23zM680 1882h77v1h-77zM373 2013h48v3h-48zM587 1800h73v3h-73zM653 2065h44v2h-44zM524 1991h35v2h-35zM479 2211h22v2h-22zM831 1962h49v3h-49zM285 1987h41v3h-41z"/>
<path fill="#3f67fb" fill-opacity="1.00" d="M666 2174h99v2h-99zM795 1991h16v3h-16zM832 1977h84v3h-84zM710 1823h86v1h-86zM153 1974h15v2h-15zM600 2022h90v1h-90zM534 1822h86v2h-86zM201 2127h38v1h-38zM357 2111h33v3h-33zM574 1986h25v2h-25zM715 2193h59v1h-59zM357 1894h44v3h-44zM884 2148h32v1h-32zM427 2162h80v2h-80zM597 2187h60v1h-60zM368 2002h75v3h-75zM124 2277h50v3h-50zM350 2169h36v2h-36zM436 2063h61v3h-61zM300 2013h60v1h-60zM172 2038h33v1h-33zM329 1880h108v2h-108zM621 1918h55v2h-55zM192 1927h69v3h-69zM743 1881h86v2h-86zM723 2023h23v3h-23zM415 2105h29v1h-29zM459 2196h107v2h-107zM442 1834h97v2h-97zM305 2002h61v3h-61zM427 2214h92v2h-92zM285 2016h67v3h-67zM602 1872h48v2h-48zM136 2025h21v2h-21zM450 1999h25v3h-25zM806 2175h93v1h-93zM597 1923h70v2h-70zM249 1852h43v2h-43zM567 2128h92v2h-92zM577 2132h85v3h-85z"/>
<path fill="#463ad6" fill-opacity="0.50" d="M125 2008h39v2h-39zM296 2215h98v2h-98zM689 2098h50v3h-50zM428 2104h71v1h-71zM509 2201h40v3h-40zM490 1857h64v3h-64zM441 1921h25v2h-25zM591 2143h68v3h-68zM707 1890h30v3h-30zM890 1907h31v3h-31zM751 2165h39v1h-39zM208 2137h37v2h-37zM622 2144h24v1h-24zM814 2111h97v3h-97zM410 1844h41v2h-41zM719 2021h26v2h-26zM250 1873h68v3h-68zM623 1838h60v2h-60zM548 2118h32v1h-32zM518 1928h36v1h-36zM699 2185h66v2h-66zM114 2159h73v2h-73zM198 1997h108v2h-108zM725 1938h59v2h-59zM712 2057h36v2h-36zM190 1916h43v2h-43zM254 1802h65v3h-65zM617 1831h40v1h-40zM353 1912h80v2h-80zM537 2061h68v2h-68zM543 1827h61v1h-61zM244 2037h106v2h-106zM146 2133h44v1h-44zM228 1823h25v3h-25zM429 1885h87v2h-87zM260 1962h60v3h-60zM457 1918h102v1h-102zM804 1827h97v2h-97zM266 2212h15v3h-15zM275 2163h23v2h-23zM523 2174h98v2h-98zM315 2033h41v2h-41zM731 2210h39v2h-39zM759 2150h84v3h-84zM527 2032h52v2h-52zM261 2116h18v2h-18zM151 2198h52v1h-52zM512 1841h109v2h-109zM306 1926h94v2h-94zM859 1815h22v1h-22zM482 2130h100v2h-100zM692 1918h47v3h-47zM395 2205h85v3h-85zM739 2148h85v2h-85zM370 1946h37v2h-37zM736 2211h62v3h-62zM463 2083h88v1h-88zM195 1974h87v1h-87zM339 1830h78v2h-78zM337 2059h98v2h-98zM188 2208h23v1h-23zM330 2073h31v3h-31zM551 2164h76v2h-76zM718 2137h40v3h-40zM596 1968h36v3h-36zM550 2202h87v2h-87zM852 2017h95v2h-95zM797 1976h64v1h-64zM767 1820h26v3h-26zM516 2162h46v3h-46zM174 2204h63v3h-63zM679 1813h23v3h-23zM702 1877h52v2h-52zM314 1874h107v1h-107zM131 2219h35v2h-35zM318 2159h36v3h-36zM721 1911h41v3h-41zM840 2110h15v1h-15zM405 1894h34v3h-34zM825 1962h96v2h-96zM553 2093h46v3h-46zM499 1971h77v2h-77zM216 1857h91v2h-91zM527 2085h102v2h-102zM394 1993h39v2h-39zM532 2221h27v2h-27zM303 1861h46v2h-46zM751 1912h46v2h-46zM462 1875h78v2h-78zM306 2168h18v2h-18zM527 1856h35v2h-35zM514 2071h51v2h-51zM844 2213h61v1h-61zM794 1961h48v1h-48zM529 2114h77v2h-77zM592 2043h17v3h-17zM790 2127h105v3h-105zM766 2041h69v2h-69zM346 1964h64v3h-64zM370 2070h16v2h-16zM784 2197h105v2h-105zM754 2020h53v2h-53zM171 1860h17v2h-17zM463 1834h86v2h-86zM679 1954h59v2h-59zM747 1927h104v2h-104zM620 1921h89v2h-89zM839 2093h15v2h-15zM143 2073h16v2h-16zM469 2187h77v1h-77zM368 1873h15v3h-15zM290 1989h18v3h-18zM813 1839h105v3h-105zM635 2131h73v2h-73zM150 2179h41v1h-41z"/>
<path fill="#463ad6" fill-opacity="0.75" d="M762 2109h40v3h-40zM244 1975h17v2h-17zM246 1819h32v3h-32zM851 2199h64v3h-64zM558 2004h35v3h-35zM563 2032h53v2h-53zM150 1818h40v2h-40zM363 2039h52v2h-52zM325 2042h72v2h-72zM389 2042h58v2h-58zM190 1962h29v3h-29zM412 1815h15v3h-15zM706 2214h108v2h-108zM324 2130h101v2h-101zM851 1799h70v2h-70zM151 2202h109v2h-109zM193 1813h20v2h-20zM786 1864h76v3h-76zM574 2187h103v3h-103zM153 2107h26v2h-26zM852 1843h40v2h-40zM825 1864h31v3h-31zM326 1951h60v3h-60zM359 2032h97v2h-97zM791 1971h51v2h-51zM718 2130h80v2h-80zM223 2198h50v3h-50zM588 2184h27v3h-27zM154 2086h29v3h-29zM725 1897h26v2h-26zM489 2046h15v3h-15zM503 1833h23v2h-23zM469 1842h94v1h-94zM659 2174h26v2h-26zM329 1815h20v2h-20zM343 1865h33v2h-33zM387 1834h76v1h-76zM317 2133h31v3h-31zM550 1897h104v2h-104zM753 2108h20v3h-20zM303 1835h107v3h-107zM129 1911h107v1h-107zM309 2020h39v1h-39zM366 2238h28v3h-28zM419 2036h97v3h-97zM699 2042h40v2h-40zM305 2055h52v2h-52zM833 1916h97v1h-97zM391 2104h91v3h-91zM705 1903h64v3h-64zM409 2080h46v2h-46zM138 2145h41v2h-41zM789 1931h69v2h-69zM433 2155h20v3h-20zM231 2164h97v2h-97zM300 1844h17v3h-17zM837 1851h18v2h-18zM645 1853h105v2h-105zM199 2090h15v2h-15zM580 1877h16v3h-16zM187 2028h30v3h-30zM700 2170h19v3h-19zM840 2032h90v3h-90zM261 1863h29v1h-29zM467 1996h16v2h-16zM742 2162h26v2h-26zM543 2158h25v3h-25zM576 1878h16v2h-16zM460 1894h104v1h-104zM724 2149h64v1h-64zM775 1887h38v1h-38zM310 1949h19v2h-19zM244 1811h39v2h-39zM164 2160h74v2h-74zM816 2102h21v1h-21zM136 1842h84v2h-84zM198 2001h98v2h-98zM848 1800h33v1h-33zM812 2243h29v3h-29zM455 2134h69v2h-69zM271 1911h67v2h-67zM274 2076h36v2h-36zM768 2167h42v3h-42zM838 2004h68v3h-68zM647 2153h78v1h-78zM313 1906h101v2h-101zM231 2109h23v1h-23zM683 1922h79v2h-79zM833 2105h97v2h-97zM745 1889h27v3h-27zM528 2126h30v2h-30zM276 1903h51v1h-51zM451 2057h51v2h-51zM700 1973h47v2h-47zM342 2121h38v2h-38zM523 1937h110v2h-110zM183 1926h17v3h-17zM439 1942h32v2h-32zM238 1955h29v3h-29zM323 1801h15v2h-15zM771 1953h77v3h-77zM476 2002h15v3h-15zM492 1832h51v2h-51zM840 2145h47v3h-47zM623 1888h65v2h-65zM315 2057h53v2h-53zM372 2037h93v2h-93zM798 1870h76v1h-76zM512 2178h22v1h-22zM568 2133h105v2h-105zM886 2196h32v3h-32zM772 1833h83v2h-83zM516 1853h16v2h-16zM786 2182h15v3h-15zM285 2048h40v2h-40zM726 2124h34v2h-34zM209 1937h79v2h-79zM338 1909h27v3h-27zM773 1877h29v2h-29zM683 2096h90v2h-90zM134 2205h31v3h-31zM431 2078h29v2h-29zM449 1932h108v3h-108zM697 1938h26v1h-26zM308 1897h19v3h-19zM601 2090h29v2h-29zM157 1958h17v2h-17zM433 1995h86v3h-86zM789 1906h22v1h-22zM853 1857h26v3h-26zM852 2103h45v3h-45zM784 1875h56v3h-56zM346 2137h30v2h-30zM461 1954h46v2h-46zM190 1933h25v2h-25zM850 1920h25v3h-25zM592 1896h79v2h-79zM634 1860h58v3h-58zM665 1963h20v1h-20zM465 2131h104v2h-104zM821 2130h62v2h-62zM391 2007h34v3h-34zM293 1857h29v2h-29zM452 1828h78v3h-78zM853 2132h93v2h-93zM861 1869h24v2h-24zM339 1991h79v2h-79zM503 1945h53v2h-53zM460 1821h39v2h-39zM774 2045h43v2h-43zM791 1946h86v2h-86zM708 1906h67v2h-67zM644 1989h96v1h-96zM120 1952h62v2h-62zM857 1839h87v1h-87zM166 1926h104v3h-104zM194 1808h100v2h-100zM877 2213h21v1h-21zM627 1858h96v2h-96zM562 2039h73v2h-73zM825 1885h93v2h-93zM360 1801h91v2h-91zM411 1944h19v2h-19zM454 1917h99v1h-99zM710 2106h26v1h-26zM867 1941h76v2h-76zM395 2136h82v2h-82zM749 1806h19v2h-19zM626 2159h88v2h-88zM258 1845h72v2h-72zM372 2122h24v2h-24zM590 1893h55v3h-55zM379 2128h24v2h-24zM551 2003h31v3h-31zM248 2191h77v2h-77zM393 1902h25v3h-25zM799 1836h16v1h-16zM717 1895h92v2h-92zM757 2084h17v1h-17zM185 1951h60v2h-60zM763 1873h45v2h-45zM394 2212h20v2h-20zM860 1898h54v2h-54zM757 1826h66v3h-66zM415 2158h96v3h-96zM266 1995h81v2h-81zM327 2113h86v3h-86zM777 1904h22v2h-22zM236 1886h33v1h-33zM511 1899h61v2h-61zM107 1911h105v2h-105zM533 1846h71v1h-71zM133 2259h27v2h-27zM516 2023h79v1h-79zM695 2035h109v1h-109zM390 1916h17v3h-17zM511 1901h39v3h-39zM599 2046h27v2h-27zM829 1912h36v3h-36zM279 2037h78v3h-78zM698 1959h46v2h-46zM123 2175h54v2h-54zM241 2197h30v2h-30zM175 2122h63v2h-63zM270 1876h34v1h-34zM372 2069h30v2h-30zM626 1825h26v3h-26zM799 1811h22v1h-22zM315 2163h63v3h-63zM593 1800h43v2h-43zM128 2198h45v2h-45zM802 2123h42v2h-42zM486 2199h31v2h-31zM199 2033h38v2h-38zM309 1879h55v2h-55zM514 2162h61v3h-61zM462 2136h44v2h-44zM267 1922h55v2h-55zM330 2088h59v2h-59zM209 1868h86v2h-86zM864 2123h46v1h-46zM405 2140h43v1h-43zM836 1825h71v3h-71zM477 1939h46v2h-46zM491 1835h18v2h-18zM658 2058h40v3h-40zM636 2087h94v2h-94z"/>
<path fill="#463ad6" fill-opacity="1.00" d="M124 2181h101v1h-101zM593 1949h33v2h-33zM204 1856h65v1h-65zM527 2104h32v2h-32zM788 2011h22v2h-22zM710 2032h63v2h-63zM569 2136h22v2h-22zM805 2063h22v2h-22zM611 1859h58v3h-58zM738 2097h30v2h-30zM438 2015h99v1h-99zM221 2119h34v2h-34zM524 2110h63v3h-63zM361 2182h107v3h-107zM640 1803h63v2h-63zM434 2191h15v3h-15zM648 1811h16v2h-16zM209 2197h60v3h-60zM355 2217h22v1h-22zM885 1840h39v2h-39zM384 1943h30v1h-30zM577 1817h36v2h-36zM800 1976h36v1h-36zM637 2200h52v2h-52zM821 2204h96v2h-96zM879 2117h17v3h-17zM517 1988h66v2h-66zM641 2195h31v3h-31zM688 2195h56v2h-56zM151 2129h65v2h-65zM330 1952h72v2h-72zM641 2038h30v2h-30zM783 2073h35v3h-35zM155 2197h91v2h-91zM478 2136h46v3h-46zM574 1844h28v2h-28zM491 1809h100v2h-100zM505 1916h28v2h-28zM329 2255h71v2h-71zM459 1939h48v2h-48zM862 2035h92v2h-92zM523 2090h17v2h-17zM706 1851h30v2h-30zM690 1992h90v3h-90zM263 2127h21v2h-21zM552 2066h94v1h-94zM168 2001h92v2h-92zM534 2028h83v2h-83zM210 2013h35v2h-35zM627 1847h71v3h-71zM857 1914h93v2h-93zM223 1906h38v2h-38zM165 2034h16v2h-16zM646 2043h15v3h-15zM600 2039h15v2h-15zM603 2176h18v2h-18zM331 2070h85v1h-85zM320 1836h90v2h-90zM414 1990h82v2h-82zM123 1964h47v3h-47zM674 2044h20v2h-20zM654 1801h65v2h-65zM638 1960h15v3h-15zM217 2168h98v2h-98zM900 2038h15v2h-15zM287 1948h36v2h-36zM766 2025h35v3h-35zM626 2129h77v2h-77z"/>
<path fill="#4747e6" fill-opacity="0.50" d="M541 2220h16v2h-16zM620 1836h19v2h-19zM836 2212h93v2h-93zM160 2095h74v2h-74zM461 1832h104v2h-104zM263 1903h51v2h-51zM560 1824h16v2h-16zM117 2171h76v2h-76zM545 2126h87v2h-87zM399 2095h17v3h-17zM426 1909h74v2h-74zM662 2195h20v1h-20zM355 2005h108v2h-108zM230 1895h55v3h-55zM653 2164h20v2h-20zM344 2283h49v1h-49zM522 2221h27v1h-27zM636 2010h77v2h-77zM114 2160h82v3h-82zM119 1964h56v3h-56zM600 1812h65v3h-65zM146 1950h34v1h-34zM236 2145h20v2h-20zM703 2067h17v2h-17zM794 2177h83v2h-83zM595 2064h17v3h-17zM323 2139h15v2h-15zM722 1998h71v2h-71zM582 2154h22v2h-22zM438 2156h85v1h-85zM476 2108h37v3h-37zM674 2188h57v2h-57zM322 1816h55v2h-55zM653 2067h22v2h-22zM293 2168h93v1h-93zM691 1957h70v1h-70zM477 2071h31v2h-31zM586 2119h53v2h-53zM454 1861h94v3h-94zM842 2162h81v2h-81zM259 2140h37v2h-37zM227 2183h18v3h-18zM708 1965h43v2h-43zM549 2013h16v3h-16zM829 2244h30v2h-30zM178 2111h17v3h-17zM165 1973h24v1h-24zM322 1956h18v2h-18zM533 2070h96v3h-96zM321 2019h23v2h-23zM765 2079h93v2h-93zM240 1919h27v2h-27zM647 2221h31v1h-31zM422 2126h18v3h-18zM186 2204h15v3h-15zM624 2022h86v3h-86zM149 2106h101v3h-101zM126 2238h74v3h-74zM439 2186h15v2h-15zM213 1989h102v3h-102zM616 1965h45v3h-45zM704 1888h77v3h-77zM749 1873h16v1h-16zM683 2189h34v2h-34zM131 2041h55v2h-55zM579 2300h52v3h-52zM152 2205h80v2h-80zM507 2206h17v2h-17zM830 2131h110v1h-110zM252 2006h16v2h-16zM383 2076h37v3h-37zM120 2151h55v1h-55zM399 2232h93v2h-93zM412 2148h34v2h-34zM295 2016h48v2h-48zM293 1905h44v2h-44zM179 2088h92v1h-92zM763 1876h17v2h-17zM493 2075h89v2h-89zM587 1957h69v3h-69zM377 1973h15v2h-15zM347 1945h48v2h-48zM777 2118h105v2h-105zM364 2006h18v2h-18zM401 1972h68v2h-68zM772 2173h27v1h-27zM147 1981h52v2h-52zM685 1896h62v3h-62zM271 2021h24v2h-24zM810 2145h89v3h-89zM348 2011h33v2h-33zM671 2012h26v3h-26zM135 1951h15v2h-15zM203 2212h15v2h-15zM291 1981h41v2h-41zM342 2079h26v2h-26zM358 1860h42v3h-42zM132 2130h69v2h-69zM335 2046h47v2h-47zM725 1976h46v1h-46zM626 1946h85v2h-85zM175 1831h15v3h-15zM648 2160h63v2h-63zM320 1880h21v2h-21zM789 1892h39v2h-39zM457 2033h45v2h-45zM681 1868h56v3h-56zM625 1873h62v2h-62zM148 1923h34v2h-34zM461 1801h17v1h-17zM244 2100h105v2h-105zM713 2198h19v2h-19zM729 1910h40v2h-40zM573 1928h15v2h-15zM838 2170h21v2h-21zM550 1891h18v2h-18zM473 2162h78v3h-78zM395 2182h56v2h-56zM676 1894h46v2h-46zM615 2182h16v2h-16zM826 1832h15v3h-15zM172 2013h25v2h-25zM353 2152h16v1h-16z"/>
<path fill="#4747e6" fill-opacity="0.75" d="M240 1894h24v1h-24zM804 2191h108v2h-108zM148 2181h19v2h-19zM483 1859h32v3h-32zM562 2177h40v3h-40zM503 2115h36v1h-36zM231 1911h95v2h-95zM767 1895h68v1h-68zM732 2178h43v2h-43zM378 1937h44v2h-44zM683 2197h22v2h-22zM249 1807h48v3h-48zM457 1982h17v3h-17zM136 2155h28v2h-28zM636 2033h32v2h-32zM441 2185h44v1h-44zM437 1848h20v3h-20zM865 1823h83v2h-83zM542 2009h80v2h-80zM669 2072h30v2h-30zM823 2198h41v2h-41zM120 1805h63v2h-63zM265 2187h87v2h-87zM751 1825h65v1h-65zM529 2035h57v3h-57zM375 1809h20v2h-20zM271 1893h93v2h-93zM636 1837h17v2h-17zM410 1927h91v2h-91zM161 2175h81v2h-81zM667 1845h17v2h-17zM802 2017h49v2h-49zM657 2189h25v2h-25zM443 2099h70v1h-70zM623 2212h101v2h-101zM175 2092h55v2h-55zM222 1914h54v2h-54zM875 2200h35v3h-35zM764 2082h80v2h-80zM320 2165h50v1h-50zM566 2040h25v2h-25zM649 1886h34v2h-34zM847 2040h15v2h-15zM693 1967h69v2h-69zM567 1954h19v2h-19zM692 1882h68v2h-68zM427 1895h41v3h-41zM291 1860h39v2h-39zM201 1886h85v3h-85zM144 2211h67v2h-67zM608 2204h35v2h-35zM222 1893h82v3h-82zM647 1815h78v2h-78zM380 2129h34v3h-34zM337 2071h87v2h-87zM240 1886h40v2h-40zM746 1816h104v2h-104zM829 2238h104v2h-104zM674 2190h42v3h-42zM572 2205h59v3h-59zM307 1908h34v1h-34zM295 1984h106v1h-106zM388 1949h44v1h-44zM105 2013h89v1h-89zM829 1918h43v2h-43zM516 1925h21v2h-21zM446 2192h26v3h-26zM753 2177h80v2h-80zM463 2017h18v3h-18zM540 1864h43v2h-43zM777 1954h48v1h-48zM609 2010h53v2h-53zM268 2081h54v1h-54zM857 1967h17v2h-17zM636 2035h18v2h-18zM433 2217h94v1h-94zM863 2024h58v3h-58zM226 1956h103v2h-103zM752 2069h19v1h-19zM524 2011h18v2h-18zM824 2204h55v2h-55zM613 1852h100v2h-100zM610 2117h20v2h-20zM296 1955h21v2h-21zM696 1893h83v2h-83zM634 1903h51v1h-51zM318 1865h35v3h-35zM533 2171h64v2h-64zM603 2210h22v2h-22zM141 2181h107v2h-107zM415 1889h79v2h-79zM846 2003h59v1h-59zM678 2139h41v3h-41zM295 1859h23v2h-23zM769 1931h100v1h-100zM681 2201h17v1h-17zM714 2154h87v2h-87zM643 2140h26v2h-26zM860 1829h60v2h-60zM818 1971h73v2h-73zM502 2186h16v2h-16zM652 2117h63v1h-63zM845 1824h48v2h-48zM400 2001h83v2h-83zM592 1914h56v1h-56zM428 2201h110v3h-110zM666 1950h62v2h-62zM414 2031h36v2h-36zM874 1974h69v2h-69zM735 2160h78v2h-78zM652 1969h25v2h-25zM544 2200h23v2h-23zM786 2187h102v1h-102zM244 1999h31v3h-31zM425 1869h106v3h-106zM582 2029h17v2h-17zM779 2145h86v2h-86zM508 2105h17v2h-17zM829 1866h15v2h-15zM274 1938h32v2h-32zM778 1817h67v2h-67zM230 1897h21v3h-21zM680 2032h25v2h-25zM491 1915h21v1h-21zM737 2199h97v3h-97zM595 1879h41v3h-41zM651 2215h34v1h-34zM294 2144h96v3h-96zM728 1900h36v2h-36zM621 1982h27v1h-27zM400 1839h40v3h-40zM253 1992h57v3h-57zM792 2192h94v3h-94zM885 1876h17v2h-17zM234 2160h28v1h-28zM893 1928h22v2h-22zM802 2148h19v2h-19zM313 1955h56v3h-56zM756 1845h99v2h-99zM779 1953h98v2h-98zM471 2045h49v2h-49zM490 2025h80v2h-80zM303 1862h71v3h-71zM366 2190h21v1h-21zM763 2111h42v2h-42zM707 2038h65v2h-65zM777 1980h17v2h-17zM190 1956h19v1h-19zM332 2133h16v1h-16zM671 2227h44v2h-44zM314 1817h73v2h-73zM212 2121h50v2h-50zM493 2233h39v3h-39zM194 2215h33v2h-33zM311 1942h22v2h-22zM292 1847h22v2h-22zM331 1937h39v2h-39zM575 2020h65v1h-65zM849 2132h23v3h-23zM576 1925h72v2h-72zM382 1828h79v2h-79zM392 1923h17v2h-17zM683 1809h47v3h-47zM541 1987h19v3h-19zM777 1915h91v3h-91zM474 2177h47v2h-47zM740 2183h61v3h-61zM140 1917h102v3h-102zM519 1963h92v2h-92zM706 2138h54v3h-54zM559 2229h56v2h-56zM326 1809h90v3h-90zM404 2074h29v2h-29zM564 2104h81v2h-81zM185 1986h91v3h-91zM544 2069h40v2h-40zM838 2019h28v3h-28zM522 1851h106v2h-106zM519 2192h15v3h-15zM700 1805h57v2h-57zM810 2180h83v3h-83zM440 2088h108v3h-108zM818 1846h34v2h-34zM158 1937h55v2h-55zM601 1864h87v2h-87zM425 1890h110v2h-110zM218 2247h16v2h-16zM435 1847h96v2h-96zM651 1879h27v3h-27zM680 1845h16v2h-16zM301 1849h110v2h-110zM132 1802h62v2h-62zM429 1991h85v2h-85zM220 1996h56v2h-56zM395 1859h58v1h-58zM574 1900h78v3h-78zM670 1950h105v2h-105zM314 1958h57v2h-57zM411 2078h17v2h-17zM209 1908h59v3h-59zM345 2244h26v2h-26zM347 2170h76v2h-76zM279 2212h67v3h-67zM401 1953h89v1h-89zM136 1873h18v3h-18zM232 2179h19v2h-19zM759 1918h15v1h-15zM783 2177h62v2h-62zM516 1802h22v2h-22zM251 2038h56v2h-56zM727 1903h36v2h-36zM784 1985h43v1h-43zM845 2136h17v3h-17zM890 2126h16v2h-16zM691 1987h101v2h-101zM539 1830h15v1h-15zM616 1931h110v1h-110zM768 1856h50v2h-50zM455 2142h82v2h-82zM224 1954h22v2h-22z"/>
<path fill="#4747e6" fill-opacity="1.00" d="M305 2006h38v3h-38zM605 1945h35v2h-35zM223 2193h65v2h-65zM624 2176h73v1h-73zM168 1869h18v1h-18zM849 2188h95v2h-95zM499 1943h77v2h-77zM814 1997h97v2h-97zM554 2196h96v1h-96zM445 2155h20v2h-20zM808 2173h76v3h-76zM759 1882h18v2h-18zM451 2198h18v2h-18zM584 1930h103v2h-103zM705 1979h18v1h-18zM442 2113h52v2h-52zM652 1868h41v3h-41zM103 1812h108v3h-108zM458 1813h32v3h-32zM534 1808h66v2h-66zM653 2014h53v3h-53zM776 1894h71v2h-71zM527 1987h77v2h-77zM470 1830h71v2h-71zM708 1974h30v2h-30zM732 2330h32v3h-32zM638 2149h51v2h-51zM419 1966h44v2h-44zM777 1907h43v2h-43zM244 1888h49v1h-49zM304 2127h45v2h-45zM465 2156h18v2h-18zM405 1997h74v3h-74zM503 1806h21v2h-21zM793 2158h75v2h-75zM490 1894h58v3h-58zM856 1895h77v1h-77zM279 2159h63v3h-63zM807 2151h96v2h-96zM551 2073h19v3h-19zM696 1857h41v2h-41zM651 2073h39v2h-39zM179 2111h19v2h-19zM207 1895h15v2h-15zM751 2184h50v2h-50zM625 2014h28v2h-28zM278 1887h29v2h-29zM514 1858h54v2h-54zM718 1809h59v2h-59zM878 2210h57v3h-57zM596 1898h17v2h-17zM626 1901h43v3h-43zM461 2025h83v3h-83zM715 2035h58v3h-58zM205 2166h61v2h-61zM256 2275h38v2h-38zM556 1862h16v2h-16zM812 2157h59v2h-59zM154 1971h28v3h-28zM699 1871h17v2h-17zM734 2105h76v2h-76zM598 1815h77v2h-77zM566 2128h16v1h-16zM492 2164h55v1h-55zM580 2130h44v3h-44zM807 1965h71v1h-71zM791 1953h36v2h-36z"/>
<path fill="#4754f5" fill-opacity="0.50" d="M426 1800h69v3h-69zM776 2128h101v3h-101zM667 2202h86v3h-86zM845 1852h29v3h-29zM703 2200h53v2h-53zM597 1806h86v2h-86zM438 2029h95v2h-95zM864 1912h31v2h-31zM219 2027h28v3h-28zM756 2246h43v2h-43zM712 2026h50v3h-50zM501 1816h88v2h-88zM454 1847h23v3h-23zM128 2009h49v1h-49zM884 2007h16v3h-16zM404 1923h16v2h-16zM732 2153h16v3h-16zM379 1997h35v3h-35zM728 2153h41v3h-41zM851 2058h20v1h-20zM795 1927h43v2h-43zM776 2004h29v2h-29zM508 2193h44v2h-44zM307 1934h51v1h-51zM524 2191h17v1h-17zM199 1852h91v2h-91zM239 1921h83v1h-83zM588 1983h45v2h-45zM756 1881h108v2h-108zM694 1834h53v1h-53zM659 2225h21v3h-21zM563 2238h50v2h-50zM770 1951h62v2h-62zM653 2147h63v2h-63zM561 2004h79v1h-79zM648 2104h33v3h-33zM826 1926h50v3h-50zM610 1950h103v2h-103zM192 1971h47v1h-47zM682 1953h60v3h-60zM845 2020h56v3h-56zM866 2098h70v3h-70zM301 2154h59v3h-59zM573 1847h26v2h-26zM588 1946h61v2h-61zM196 2255h21v1h-21zM563 1939h75v2h-75zM618 1959h43v3h-43zM510 1835h95v3h-95zM127 1830h77v2h-77zM802 2070h100v2h-100zM464 1839h37v3h-37zM251 2302h18v3h-18zM776 2138h74v2h-74zM203 1977h83v2h-83zM599 2184h69v3h-69zM411 1799h49v1h-49zM314 1872h29v3h-29zM280 2173h59v2h-59zM242 1946h60v2h-60zM157 2036h17v1h-17zM705 1954h36v1h-36zM811 1993h49v2h-49zM395 1999h20v3h-20zM671 1940h19v1h-19zM163 1997h27v2h-27zM162 2002h20v2h-20zM630 1972h65v2h-65zM372 1989h35v2h-35zM268 1851h48v2h-48zM829 2019h40v2h-40zM504 1928h45v1h-45zM423 2021h35v2h-35zM370 1987h26v3h-26zM561 2133h16v2h-16zM588 1920h49v1h-49zM472 2175h96v3h-96zM697 2050h23v3h-23zM650 2276h30v2h-30zM224 1800h39v2h-39zM331 1965h23v2h-23zM857 2209h103v1h-103zM431 2150h40v2h-40zM318 2054h16v2h-16zM606 2146h22v2h-22zM259 2145h22v2h-22zM510 2133h108v2h-108z"/>
<path fill="#4754f5" fill-opacity="0.75" d="M191 2055h42v3h-42zM280 2109h97v2h-97zM788 2198h95v3h-95zM786 1947h85v3h-85zM500 1856h95v3h-95zM185 2081h79v3h-79zM404 1900h20v2h-20zM754 1882h96v3h-96zM316 2168h31v2h-31zM734 2106h62v2h-62zM693 1831h71v3h-71zM853 2124h100v3h-100zM545 1962h88v3h-88zM350 2077h34v2h-34zM618 2054h26v3h-26zM448 2088h106v2h-106zM811 2210h21v2h-21zM880 1957h47v2h-47zM177 1986h44v1h-44zM723 2023h69v3h-69zM552 2034h20v1h-20zM134 2066h110v3h-110zM776 1878h68v2h-68zM879 2025h45v2h-45zM406 1816h33v1h-33zM680 1846h53v3h-53zM393 2150h25v2h-25zM837 2187h30v2h-30zM782 2212h34v1h-34zM595 2093h21v2h-21zM424 2126h85v3h-85zM342 1970h17v1h-17zM291 1971h15v2h-15zM484 1896h87v2h-87zM553 2003h18v1h-18zM530 2018h94v2h-94zM723 2002h15v3h-15zM459 1908h104v1h-104zM539 2070h18v2h-18zM366 1801h75v1h-75zM413 1997h18v2h-18zM834 1807h32v2h-32zM816 2161h15v2h-15zM337 1840h17v2h-17zM140 2022h32v2h-32zM688 2134h21v2h-21zM98 1937h85v1h-85zM494 1828h44v2h-44zM162 2126h66v3h-66zM823 2206h53v2h-53zM149 1818h16v2h-16zM352 2139h21v2h-21zM382 1802h95v2h-95zM344 2157h30v2h-30zM279 2040h59v2h-59zM381 1851h41v3h-41zM335 1991h33v2h-33zM600 2018h16v2h-16zM760 2065h20v2h-20zM550 1869h37v2h-37zM137 2173h28v2h-28zM360 1971h39v1h-39zM802 2202h33v2h-33zM645 2172h90v2h-90zM212 1941h75v2h-75zM424 2269h66v2h-66zM108 2004h85v3h-85zM507 2022h33v2h-33zM560 2137h44v2h-44zM474 2046h86v1h-86zM182 2035h50v1h-50zM174 2038h27v2h-27zM522 2269h17v1h-17zM485 1805h45v3h-45zM247 1955h36v2h-36zM194 2127h72v1h-72zM184 2117h106v1h-106zM761 1939h19v2h-19zM760 1802h107v2h-107zM484 2004h17v2h-17zM597 1813h92v2h-92zM684 2024h25v2h-25zM304 2059h24v2h-24zM295 2022h38v2h-38zM874 2019h42v1h-42zM535 2055h73v2h-73zM116 1997h59v3h-59zM403 2222h16v3h-16zM213 1976h102v3h-102zM510 1930h102v3h-102zM326 2160h24v1h-24zM692 2002h26v3h-26zM732 1976h102v3h-102zM420 2183h110v2h-110zM660 1807h25v2h-25zM310 2000h61v2h-61zM864 2173h79v3h-79zM799 1996h88v3h-88zM275 2135h81v2h-81zM299 1973h25v3h-25zM128 2084h44v1h-44zM491 1801h62v2h-62zM357 2183h38v2h-38zM711 1969h74v2h-74zM696 1976h70v2h-70zM507 2182h31v1h-31zM629 2148h102v1h-102zM270 2171h73v2h-73zM589 1859h28v3h-28zM386 2265h18v3h-18zM412 2148h19v2h-19zM485 1826h26v2h-26zM605 1821h56v2h-56zM724 2117h42v2h-42zM573 2009h19v2h-19zM767 2161h62v3h-62zM462 1969h95v2h-95zM667 2169h29v1h-29zM670 1917h42v2h-42zM752 1947h73v2h-73zM314 1895h16v2h-16zM638 2174h33v3h-33zM849 1861h23v2h-23zM650 2006h26v1h-26zM247 1960h15v1h-15zM686 2039h82v2h-82zM460 1998h65v2h-65zM446 1998h15v1h-15zM223 2185h104v2h-104zM352 1978h25v2h-25zM901 2192h15v3h-15zM698 2019h88v1h-88zM240 2097h72v1h-72zM601 2183h86v3h-86zM524 2150h75v3h-75zM117 2014h100v1h-100zM203 1843h22v2h-22zM855 2079h16v2h-16zM284 2156h80v1h-80zM640 2162h58v2h-58zM547 2144h28v2h-28zM578 2105h78v3h-78zM236 2001h50v2h-50zM493 1999h30v1h-30zM511 2174h24v2h-24zM327 2011h72v2h-72zM597 1986h89v2h-89zM883 1988h45v1h-45zM752 2195h58v3h-58zM875 2254h25v3h-25zM240 2030h23v2h-23zM821 1924h20v2h-20zM475 2140h41v2h-41zM544 2005h30v1h-30zM425 2013h24v2h-24zM769 1988h29v3h-29zM378 2132h71v2h-71zM714 2020h94v2h-94zM877 2071h31v2h-31zM302 2000h23v1h-23zM615 1808h46v3h-46zM334 1956h31v2h-31zM567 2200h16v2h-16zM463 2181h48v2h-48zM830 1977h32v2h-32zM380 2034h68v2h-68zM339 1990h79v3h-79zM151 2202h37v2h-37zM142 2067h55v2h-55zM594 1961h28v2h-28zM767 2132h17v3h-17zM583 2016h92v2h-92zM879 1883h32v2h-32zM319 2243h18v3h-18zM464 1807h86v3h-86zM679 2001h25v2h-25zM705 2082h36v3h-36zM558 1890h32v2h-32zM875 1935h15v2h-15zM404 1998h69v1h-69zM217 2184h44v2h-44zM133 2042h23v2h-23zM556 2143h23v2h-23zM713 2194h81v2h-81zM756 2210h95v3h-95zM286 2001h42v2h-42zM390 2005h21v1h-21z"/>
<path fill="#4754f5" fill-opacity="1.00" d="M562 1992h75v2h-75zM95 1840h95v2h-95zM382 1853h18v1h-18zM571 1888h94v2h-94zM238 2174h89v2h-89zM309 1963h69v2h-69zM448 1799h49v1h-49zM845 1907h55v3h-55zM233 2167h103v2h-103zM215 2177h65v3h-65zM630 2160h47v2h-47zM671 1843h41v1h-41zM123 2098h62v2h-62zM724 1872h19v3h-19zM442 1858h35v2h-35zM150 1849h20v3h-20zM661 2152h84v1h-84zM414 2006h90v2h-90zM272 1809h84v2h-84zM294 1820h73v1h-73zM607 2187h88v2h-88zM684 2080h53v3h-53zM747 2187h76v2h-76zM515 2111h49v2h-49zM240 1920h107v2h-107zM723 2246h68v1h-68zM595 2128h28v2h-28zM853 2119h64v2h-64zM503 1813h19v2h-19zM515 2173h58v2h-58zM367 2134h52v2h-52zM458 1898h87v3h-87zM584 2146h73v3h-73zM198 2126h34v2h-34zM770 2058h33v2h-33zM205 1907h90v2h-90zM490 2185h39v2h-39zM848 1857h15v2h-15zM312 1965h59v1h-59zM788 2134h76v1h-76zM262 1809h65v1h-65zM396 2126h38v3h-38zM485 2197h48v1h-48zM424 1866h34v3h-34zM250 1975h62v2h-62zM743 1980h84v2h-84zM445 1964h110v2h-110zM366 1958h110v2h-110zM839 1999h25v3h-25zM462 1885h50v3h-50zM299 1858h103v2h-103zM829 1964h29v1h-29zM635 2145h84v3h-84zM834 2193h39v3h-39zM780 2135h23v3h-23zM513 2057h33v1h-33z"/>
</g>
<g>
<ellipse cx="205" cy="2004" rx="50" ry="26" fill="url(#bc)" opacity="0.80"/>
<ellipse cx="342" cy="2006" rx="58" ry="30" fill="url(#bc)" opacity="1.00"/>
<ellipse cx="430" cy="2000" rx="52" ry="26" fill="url(#bc)" opacity="0.80"/>
<ellipse cx="530" cy="2001" rx="54" ry="26" fill="url(#bc)" opacity="0.85"/>
<ellipse cx="625" cy="2003" rx="52" ry="26" fill="url(#bc)" opacity="0.85"/>
<ellipse cx="715" cy="2000" rx="54" ry="26" fill="url(#bc)" opacity="0.85"/>
<ellipse cx="820" cy="2002" rx="52" ry="26" fill="url(#bc)" opacity="0.90"/>
<ellipse cx="520" cy="1905" rx="45" ry="18" fill="url(#bc)" opacity="0.40"/>
<ellipse cx="345" cy="2052" rx="50" ry="18" fill="url(#bc)" opacity="0.40"/>
<ellipse cx="470" cy="2003" rx="40" ry="18" fill="url(#bc)" opacity="0.50"/>
<ellipse cx="760" cy="2002" rx="40" ry="18" fill="url(#bc)" opacity="0.50"/>
<ellipse cx="345" cy="2172" rx="50" ry="20" fill="url(#bb)" opacity="0.90"/>
<ellipse cx="693" cy="2160" rx="52" ry="22" fill="url(#bb)" opacity="1.00"/>
<ellipse cx="530" cy="2130" rx="50" ry="16" fill="url(#bb)" opacity="0.50"/>
<ellipse cx="210" cy="2160" rx="50" ry="16" fill="url(#bb)" opacity="0.50"/>
<ellipse cx="430" cy="2140" rx="45" ry="14" fill="url(#bb)" opacity="0.40"/>
<ellipse cx="820" cy="2150" rx="45" ry="14" fill="url(#bb)" opacity="0.40"/>
</g>
<g filter="url(#sb2)">
<rect x="160" y="2001" width="729.5" height="2" fill="#30a8e0" fill-opacity="0.5"/>
<rect x="160" y="2000.8" width="50" height="2.4" fill="#b0c040" fill-opacity="0.85"/>
<rect x="300" y="2000.8" width="45" height="2.4" fill="#7cc868" fill-opacity="0.85"/>
<rect x="510" y="2000.8" width="40" height="2.4" fill="#60c0a0" fill-opacity="0.85"/>
<rect x="700" y="2000.8" width="60" height="2.4" fill="#a8c850" fill-opacity="0.85"/>
<rect x="855" y="2000.8" width="34" height="2.4" fill="#c0b848" fill-opacity="0.85"/>
</g>
</g>
<line x1="160" y1="1800" x2="889.5" y2="2346.5" stroke="#6a78ff" stroke-opacity="0.28" stroke-width="1.2"/>
<path d="M344.6 2346.5v-9M344.6 1800v9M531.4 2346.5v-9M531.4 1800v9M717.7 2346.5v-9M717.7 1800v9" stroke="#1a1a60" stroke-width="1.5" opacity="0.6"/>
<path d="" stroke="#1a1a60" stroke-width="1.5" opacity="0.6"/>
<rect x="160" y="1800" width="729.5" height="546.5" fill="none" stroke="#2a2a40" stroke-width="2.2"/>
<rect x="225" y="1954.8" width="632.2" height="61.5" fill="none" stroke="#ff1010" stroke-width="4.6" stroke-dasharray="18.5 11.5"/>
<line x1="675" y1="1929.7" x2="641.4" y2="1954.6" stroke="#e01530" stroke-width="2.6"/>
<path d="M619.7 1970.7L633.9 1944.6L648.8 1964.7Z" fill="#ff1010"/>
<text x="684.5" y="1933" font-size="46" fill="#fff" style="font-family:&quot;DejaVu Serif&quot;,serif;font-style:italic">f</text>
<text x="708" y="1935.5" font-size="29" fill="#fff">i</text>
<text x="130.6" y="1819.5" font-size="51.5" text-anchor="middle" fill="#303030">5</text>
<text x="131" y="1931.5" font-size="51.5" text-anchor="middle" fill="#303030">4</text>
<text x="131" y="2039.5" font-size="51.5" text-anchor="middle" fill="#303030">3</text>
<text x="131" y="2149.2" font-size="51.5" text-anchor="middle" fill="#303030">2</text>
<text x="131" y="2257.3" font-size="51.5" text-anchor="middle" fill="#303030">1</text>
<text x="131" y="2365.5" font-size="51.5" text-anchor="middle" fill="#303030">0</text>
<text x="160" y="2411.5" font-size="51.5" text-anchor="middle" fill="#303030">0</text>
<text x="344.6" y="2411.5" font-size="51.5" text-anchor="middle" fill="#303030">0.02</text>
<text x="531.4" y="2411.5" font-size="51.5" text-anchor="middle" fill="#303030">0.04</text>
<text x="717.7" y="2411.5" font-size="51.5" text-anchor="middle" fill="#303030">0.06</text>
<text x="531.2" y="2479.5" font-size="55" text-anchor="middle" fill="#303030">Time/s</text>
<text x="95.1" y="2075" font-size="52" text-anchor="middle" fill="#303030" transform="rotate(-90 95.1 2075)">Frequency/KHz</text>
<text x="434" y="2591" font-size="42" text-anchor="middle" fill="#303030">(e)</text>
<g clip-path="url(#cf)">
<rect x="1063" y="1800" width="730" height="546.5" fill="#3d2aab"/>
<g filter="url(#sb)"><path fill="#3f62ee" fill-opacity="0.35" d="M1052 2167h83v6h-83zM1208 1884h97v6h-97zM1258 1984h62v6h-62zM1269 1992h28v6h-28zM1275 1897h83v6h-83zM1487 1996h24v6h-24zM1444 1801h57v6h-57zM1303 2028h117v6h-117zM1200 1805h52v6h-52zM1274 2176h22v6h-22zM1105 2184h79v6h-79zM1375 1847h75v6h-75zM1209 2006h97v6h-97zM1489 1978h21v6h-21zM1496 2180h117v6h-117zM1267 1994h25v6h-25zM1421 2020h64v6h-64zM1224 1822h48v6h-48zM1091 1805h104v6h-104zM1722 1983h64v6h-64zM1736 2133h36v6h-36zM1584 2138h98v6h-98zM1545 2190h108v6h-108zM1678 1997h82v6h-82zM1506 1857h105v6h-105zM1580 1990h76v6h-76zM1129 1827h55v6h-55zM1345 1977h85v6h-85zM1676 2018h66v6h-66zM1392 2131h48v6h-48zM1169 2199h63v6h-63zM1752 1803h50v6h-50zM1041 2001h49v6h-49zM1171 1985h32v6h-32zM1698 2016h98v6h-98zM1389 2145h108v6h-108zM1706 1982h61v6h-61zM1076 2138h101v6h-101zM1470 1831h98v6h-98zM1159 2176h36v6h-36zM1110 1826h32v6h-32zM1655 2203h44v6h-44zM1785 2007h34v6h-34zM1477 2140h40v6h-40zM1297 1990h62v6h-62zM1573 1910h61v6h-61zM1655 1839h116v6h-116zM1353 1826h74v6h-74zM1070 1980h61v6h-61zM1664 2030h26v6h-26zM1479 2021h60v6h-60zM1051 1997h107v6h-107zM1588 1809h75v6h-75zM1046 1898h111v6h-111zM1586 1919h106v6h-106zM1053 1808h88v6h-88zM1773 1820h35v6h-35zM1365 1844h41v6h-41zM1191 1969h60v6h-60zM1619 2020h89v6h-89zM1068 2131h114v6h-114zM1197 1993h49v6h-49zM1347 1922h84v6h-84zM1703 1805h73v6h-73zM1608 2181h104v6h-104zM1102 1851h112v6h-112zM1524 1840h110v6h-110zM1538 2170h47v6h-47zM1648 2011h84v6h-84zM1763 2184h28v6h-28zM1681 1859h20v6h-20zM1078 1858h98v6h-98zM1748 2194h66v6h-66zM1543 2028h107v6h-107zM1051 2196h23v6h-23zM1709 1799h111v6h-111zM1327 1862h30v6h-30zM1352 1958h117v6h-117zM1658 1850h93v6h-93zM1623 1873h92v6h-92zM1239 1852h83v6h-83zM1056 2123h100v6h-100zM1231 1807h27v6h-27zM1090 2039h31v6h-31zM1723 2132h60v6h-60zM1205 2155h78v6h-78zM1014 1987h94v6h-94zM1471 2127h86v6h-86zM1345 2058h80v6h-80zM1760 1839h83v6h-83zM1380 2028h45v6h-45zM1762 2172h47v6h-47zM1280 1989h90v6h-90zM1247 1821h55v6h-55zM1737 2175h99v6h-99zM1603 1944h74v6h-74zM1288 1977h82v6h-82zM1739 2027h49v6h-49zM1316 2192h62v6h-62zM1634 1829h50v6h-50zM1102 1964h45v6h-45zM1727 1833h93v6h-93zM1236 1990h47v6h-47zM1326 1855h40v6h-40zM1574 2016h94v6h-94zM1463 1978h37v6h-37zM1135 2030h108v6h-108zM1093 1847h37v6h-37zM1134 2183h45v6h-45zM1033 2209h53v6h-53zM1732 1835h56v6h-56zM1261 2167h98v6h-98zM1396 2033h59v6h-59zM1367 2018h81v6h-81zM1666 2039h91v6h-91zM1606 1819h114v6h-114zM1633 2013h81v6h-81zM1753 1885h90v6h-90zM1045 2001h78v6h-78zM1349 1840h48v6h-48zM1070 1845h75v6h-75zM1660 1880h38v6h-38zM1066 2142h99v6h-99zM1333 2164h81v6h-81zM1601 2129h40v6h-40zM1108 1942h40v6h-40zM1738 2008h31v6h-31zM1233 2155h101v6h-101zM1047 2022h75v6h-75zM1098 2150h118v6h-118zM1165 2161h58v6h-58zM1466 2007h45v6h-45zM1524 2033h57v6h-57zM1580 1903h115v6h-115zM1375 1828h95v6h-95zM1143 1839h50v6h-50zM1365 2132h82v6h-82zM1343 1976h31v6h-31zM1025 2196h112v6h-112zM1370 1809h31v6h-31zM1608 2056h29v6h-29zM1668 2027h35v6h-35zM1336 2137h96v6h-96zM1632 2024h36v6h-36zM1293 2196h26v6h-26zM1046 1990h113v6h-113zM1447 1976h97v6h-97zM1066 1810h91v6h-91zM1309 1816h107v6h-107zM1267 1875h81v6h-81zM1391 2140h82v6h-82zM1722 2014h35v6h-35zM1076 2158h24v6h-24zM1342 2006h104v6h-104zM1699 1974h32v6h-32zM1738 2001h117v6h-117zM1219 1995h37v6h-37zM1378 1826h104v6h-104zM1317 2009h45v6h-45zM1692 1992h77v6h-77z"/></g>
<ellipse cx="1154" cy="2008" rx="44.8" ry="22" fill="url(#bc)" opacity="0.95"/>
<ellipse cx="1245" cy="2006" rx="54.4" ry="32" fill="url(#bc)" opacity="0.95"/>
<ellipse cx="1332" cy="2007" rx="54.4" ry="20" fill="url(#bc)" opacity="0.95"/>
<ellipse cx="1411" cy="2004" rx="44.8" ry="24" fill="url(#bc)" opacity="0.95"/>
<ellipse cx="1505" cy="2001" rx="35.2" ry="16" fill="url(#bc)" opacity="0.95"/>
<ellipse cx="1590" cy="2009" rx="38.4" ry="16" fill="url(#bc)" opacity="0.95"/>
<ellipse cx="1690" cy="1997" rx="44.8" ry="20" fill="url(#bc)" opacity="0.95"/>
<ellipse cx="1775" cy="2003" rx="28.8" ry="16" fill="url(#bc)" opacity="0.95"/>
<g filter="url(#sb)"><path fill="#3f7af0" fill-opacity="0.45" d="M1085 2125h53v5h-53zM1763 2203h35v5h-35zM1174 1841h60v6h-60zM1767 2030h22v5h-22zM1014 1980h58v5h-58zM1164 2053h53v5h-53zM1435 1839h66v5h-66zM1246 1842h20v5h-20zM1443 1840h94v5h-94zM1040 2142h24v5h-24zM1466 2200h64v5h-64zM1109 2182h16v5h-16zM1053 2168h48v5h-48zM1458 1948h55v5h-55zM1611 1837h35v5h-35zM1046 2136h18v5h-18zM1559 2030h28v5h-28zM1019 2011h92v5h-92zM1738 1977h26v5h-26zM1660 2034h16v5h-16zM1583 1864h71v5h-71zM1397 1814h20v5h-20zM1609 1916h51v5h-51zM1607 2009h51v5h-51zM1699 2193h20v5h-20zM1378 2027h30v5h-30zM1534 2026h95v5h-95zM1055 1941h23v5h-23zM1029 1991h59v5h-59zM1047 2013h31v5h-31zM1192 2189h16v5h-16zM1272 2137h22v6h-22zM1256 1857h26v5h-26zM1713 1803h16v5h-16zM1309 2181h40v5h-40zM1102 1911h77v5h-77zM1572 1804h32v5h-32zM1542 1832h53v5h-53zM1516 1974h95v5h-95zM1185 2004h74v5h-74zM1242 1815h29v5h-29zM1226 1849h39v5h-39zM1668 2207h42v5h-42zM1277 2043h28v5h-28zM1113 1799h87v5h-87zM1107 2130h16v5h-16zM1056 2176h26v5h-26zM1369 1811h66v5h-66zM1222 1997h47v5h-47zM1423 2187h39v5h-39zM1756 2195h36v5h-36zM1455 1827h46v5h-46zM1022 1930h67v5h-67zM1464 2040h17v5h-17zM1617 2027h17v6h-17zM1101 1997h39v5h-39zM1032 1881h85v5h-85zM1578 2202h36v5h-36zM1635 2009h42v5h-42zM1030 2171h67v6h-67zM1187 1855h16v5h-16zM1729 1819h73v5h-73zM1696 1863h28v5h-28zM1237 1828h31v5h-31zM1420 2031h64v5h-64zM1217 2123h23v5h-23zM1163 1833h88v5h-88zM1436 1927h19v5h-19zM1510 2176h69v5h-69zM1119 1977h77v6h-77zM1672 1867h29v5h-29zM1747 2025h17v5h-17zM1418 1846h79v5h-79zM1231 1817h32v6h-32zM1438 2179h64v6h-64zM1406 1811h97v5h-97zM1402 1884h99v5h-99zM1454 2037h56v6h-56zM1528 1830h22v5h-22zM1023 1805h87v5h-87zM1656 2011h31v5h-31zM1404 2195h24v5h-24zM1664 1918h23v5h-23zM1612 2011h33v5h-33zM1588 1978h38v5h-38zM1425 2013h26v5h-26zM1742 2032h19v5h-19zM1290 1821h39v5h-39zM1635 2195h19v5h-19zM1021 1937h44v6h-44zM1776 1810h26v5h-26zM1438 1978h65v5h-65zM1399 2002h27v5h-27zM1581 1991h30v5h-30zM1513 1827h59v5h-59zM1768 2019h75v5h-75zM1474 1998h26v6h-26zM1142 1824h41v5h-41zM1291 1883h99v5h-99zM1039 1829h30v5h-30zM1256 1845h20v5h-20zM1286 1856h60v5h-60zM1463 2187h21v5h-21zM1714 1936h100v5h-100zM1188 2020h46v5h-46zM1403 2171h16v5h-16zM1800 1854h20v5h-20zM1784 2028h26v5h-26zM1605 1819h23v5h-23zM1694 1808h24v5h-24zM1375 2032h53v5h-53zM1548 2102h27v5h-27zM1490 1974h26v5h-26zM1697 2035h22v5h-22zM1155 1907h83v5h-83zM1230 1826h30v5h-30zM1429 2179h28v5h-28zM1766 1972h45v5h-45zM1112 2142h23v5h-23zM1089 1849h78v6h-78zM1452 2207h94v5h-94zM1428 1801h17v5h-17zM1329 1822h21v5h-21zM1420 2088h17v5h-17zM1688 1899h43v5h-43zM1600 2038h22v5h-22zM1408 2014h25v5h-25zM1159 1825h32v5h-32zM1390 2145h94v5h-94zM1436 2003h86v5h-86zM1331 1879h16v6h-16zM1208 1988h64v5h-64zM1735 1977h106v5h-106zM1313 2053h57v5h-57zM1388 2202h18v5h-18zM1560 1814h44v5h-44zM1057 2188h105v5h-105zM1569 1979h57v6h-57zM1124 2174h53v5h-53zM1564 2012h23v5h-23zM1265 1869h96v5h-96zM1617 1827h74v6h-74zM1254 2190h29v5h-29zM1414 1876h16v5h-16zM1570 1955h103v5h-103zM1045 2182h71v5h-71zM1326 1803h20v5h-20zM1565 2143h16v5h-16zM1527 2164h86v5h-86zM1091 1944h16v5h-16zM1251 1799h16v5h-16zM1291 1936h43v6h-43zM1660 2173h35v5h-35zM1284 1851h72v5h-72zM1256 1843h73v5h-73zM1290 2030h39v5h-39zM1049 1998h57v5h-57zM1175 2131h39v6h-39zM1355 2196h85v5h-85zM1348 1888h97v5h-97zM1642 2154h43v6h-43zM1365 1814h37v5h-37zM1577 1981h71v5h-71zM1530 2190h68v5h-68zM1086 1814h66v5h-66zM1329 1892h54v5h-54zM1019 1827h69v5h-69zM1556 1993h43v5h-43zM1665 2137h67v5h-67zM1132 2171h33v5h-33zM1499 2008h37v5h-37zM1759 1855h80v5h-80zM1049 2172h21v5h-21zM1457 2141h83v5h-83zM1555 2024h44v5h-44zM1492 1819h31v5h-31zM1469 1992h16v5h-16zM1155 2007h53v5h-53zM1709 2077h19v5h-19zM1529 1884h97v5h-97zM1762 2204h25v5h-25zM1543 1982h39v5h-39zM1495 2052h25v5h-25zM1418 2182h17v5h-17zM1157 1815h21v5h-21zM1222 2029h16v5h-16zM1123 2189h93v5h-93zM1432 1822h90v5h-90zM1729 2230h89v5h-89zM1120 2038h78v5h-78zM1498 2015h66v5h-66zM1408 2016h60v5h-60zM1275 2021h80v5h-80zM1341 2029h23v5h-23zM1451 2204h72v6h-72zM1707 2160h21v5h-21zM1565 2171h48v5h-48zM1263 1878h63v5h-63zM1436 1961h51v5h-51zM1165 2192h16v5h-16zM1744 2144h30v5h-30zM1724 1914h77v5h-77zM1286 2014h100v5h-100zM1157 2172h16v5h-16zM1705 2132h23v5h-23zM1023 2027h97v5h-97zM1694 1842h44v6h-44zM1306 2069h72v5h-72zM1537 1848h82v5h-82zM1522 2022h55v5h-55zM1477 1996h27v5h-27zM1315 2208h70v5h-70zM1237 2198h27v5h-27zM1703 1894h25v5h-25zM1078 2066h28v5h-28zM1348 2144h28v5h-28zM1751 1842h34v5h-34zM1059 1801h20v5h-20zM1656 2176h39v5h-39zM1139 1996h102v5h-102zM1645 2000h16v5h-16zM1515 1839h23v5h-23zM1085 2201h36v5h-36zM1059 1992h22v5h-22zM1711 2202h96v5h-96zM1167 1832h61v5h-61zM1641 1833h89v6h-89zM1365 1974h52v5h-52zM1419 1819h64v5h-64zM1244 2185h70v5h-70zM1720 2201h57v5h-57zM1130 2039h30v5h-30zM1283 2203h76v5h-76zM1490 1969h19v5h-19zM1348 1987h63v5h-63zM1051 1837h39v5h-39zM1760 2000h39v5h-39zM1100 1837h48v5h-48zM1585 2045h27v6h-27zM1449 2158h68v6h-68zM1550 1902h32v5h-32zM1613 1889h80v5h-80zM1678 2022h91v5h-91zM1282 1839h20v5h-20zM1383 1834h33v5h-33zM1660 1928h99v6h-99zM1381 1849h43v5h-43zM1395 1971h16v5h-16zM1686 2004h34v5h-34zM1328 2132h17v5h-17zM1727 1998h26v5h-26zM1349 1814h58v5h-58zM1555 2202h35v5h-35zM1390 2200h19v5h-19zM1289 2185h52v5h-52zM1083 1996h26v5h-26zM1634 1803h20v6h-20zM1317 2020h26v5h-26zM1627 1828h45v5h-45zM1641 2026h75v5h-75zM1676 2017h90v5h-90zM1309 1822h78v5h-78zM1521 1961h105v5h-105zM1261 2014h18v5h-18zM1571 1947h74v5h-74zM1324 1912h19v5h-19zM1275 2016h17v5h-17zM1204 1927h16v5h-16zM1113 2180h17v5h-17zM1363 1804h42v5h-42zM1641 2147h54v5h-54zM1221 2207h22v5h-22zM1227 1969h60v5h-60zM1356 1804h50v5h-50zM1419 2120h29v5h-29zM1136 1942h59v5h-59zM1439 1844h27v5h-27zM1311 1864h60v5h-60zM1312 2040h72v5h-72zM1364 2126h44v5h-44zM1457 2175h16v5h-16zM1262 2038h73v5h-73zM1639 1837h17v5h-17zM1507 1998h61v5h-61zM1289 2118h19v5h-19zM1074 2028h88v5h-88zM1439 1985h17v5h-17zM1595 1816h59v5h-59zM1545 2190h73v5h-73zM1112 2032h54v5h-54zM1385 1842h73v6h-73zM1091 1801h87v5h-87zM1742 1837h28v5h-28zM1440 1989h55v5h-55zM1089 1837h37v5h-37zM1087 1821h94v5h-94zM1565 2196h32v5h-32zM1218 2012h34v5h-34zM1092 2130h16v5h-16zM1123 2013h88v5h-88zM1781 2006h16v5h-16zM1254 2031h16v5h-16zM1613 1806h28v5h-28zM1258 1984h87v5h-87zM1342 1985h36v5h-36zM1548 2028h21v5h-21zM1591 1831h88v5h-88zM1016 1877h62v5h-62zM1060 1942h90v5h-90zM1704 2041h101v5h-101zM1422 1832h105v5h-105zM1766 1910h18v5h-18zM1189 1843h24v5h-24zM1586 2146h52v5h-52zM1545 2027h31v5h-31zM1518 1988h17v5h-17zM1430 2186h25v5h-25zM1236 1864h19v5h-19zM1518 2009h95v5h-95zM1478 1829h16v5h-16zM1690 1843h81v5h-81zM1756 1942h79v5h-79zM1408 1994h21v5h-21zM1763 2005h99v5h-99zM1205 1860h42v5h-42zM1454 1799h18v5h-18zM1726 2135h31v5h-31zM1427 1970h54v5h-54zM1692 2193h16v5h-16zM1627 2011h32v5h-32zM1546 1841h57v5h-57zM1158 2006h22v5h-22zM1383 2159h58v5h-58zM1069 1850h16v5h-16zM1051 1983h18v5h-18zM1588 2203h38v5h-38zM1236 2030h18v5h-18zM1671 2153h78v6h-78zM1700 1998h35v5h-35zM1235 1827h58v5h-58zM1141 2012h42v6h-42zM1149 1997h32v6h-32zM1128 2008h43v6h-43zM1146 2010h30v6h-30zM1140 2011h47v7h-47zM1138 2003h34v6h-34zM1110 2012h49v6h-49zM1126 2010h34v6h-34zM1123 1999h39v6h-39zM1154 2012h39v6h-39zM1138 2010h27v7h-27zM1142 2012h34v6h-34zM1143 2008h34v7h-34zM1151 2008h22v6h-22zM1251 1997h36v7h-36zM1205 2007h39v6h-39zM1189 1999h50v6h-50zM1222 1996h49v8h-49zM1251 1992h30v6h-30zM1228 2006h34v6h-34zM1227 1996h29v8h-29zM1212 1996h50v6h-50zM1195 1999h36v6h-36zM1233 2018h27v6h-27zM1215 1996h36v7h-36zM1234 2017h27v6h-27zM1212 2003h46v7h-46zM1246 2014h34v6h-34zM1255 2003h42v6h-42zM1206 2014h32v6h-32zM1225 1991h29v6h-29zM1219 1998h44v7h-44zM1233 2015h46v6h-46zM1220 1995h34v6h-34zM1215 1991h25v6h-25zM1228 2007h35v6h-35zM1317 1997h49v7h-49zM1333 2004h48v6h-48zM1317 1999h27v6h-27zM1318 2011h35v6h-35zM1338 2000h21v7h-21zM1335 2006h49v6h-49zM1338 2001h36v7h-36zM1331 2007h45v7h-45zM1319 2009h39v7h-39zM1324 2010h48v6h-48zM1298 2002h39v7h-39zM1302 1997h39v6h-39zM1320 2004h46v6h-46zM1303 2004h35v7h-35zM1390 1997h35v8h-35zM1389 2000h31v7h-31zM1376 1999h47v7h-47zM1400 1993h23v7h-23zM1378 2007h38v7h-38zM1392 2012h27v6h-27zM1403 2008h46v6h-46zM1421 2001h26v6h-26zM1371 1998h33v6h-33zM1400 2002h22v8h-22zM1386 2011h23v6h-23zM1406 2003h29v7h-29zM1386 1995h49v8h-49zM1413 2008h37v6h-37zM1498 2005h28v6h-28zM1484 1991h32v6h-32zM1475 2000h38v7h-38zM1498 2000h46v6h-46zM1480 1991h27v6h-27zM1487 1995h43v7h-43zM1487 2001h26v6h-26zM1472 1997h29v6h-29zM1550 2004h49v7h-49zM1569 2001h34v7h-34zM1579 2000h28v6h-28zM1581 2007h24v7h-24zM1599 2007h25v6h-25zM1571 2011h41v6h-41zM1584 2005h25v8h-25zM1558 2009h49v7h-49zM1665 1985h32v6h-32zM1666 1995h33v6h-33zM1691 1997h49v6h-49zM1685 1989h38v7h-38zM1682 1998h50v6h-50zM1691 1990h46v6h-46zM1665 2003h43v6h-43zM1682 1999h28v7h-28zM1688 1988h48v6h-48zM1691 1998h31v6h-31zM1655 1989h45v7h-45zM1653 1987h34v6h-34zM1737 1996h47v6h-47zM1772 1998h21v7h-21zM1748 1993h40v6h-40zM1746 1994h40v6h-40zM1754 2006h44v6h-44zM1758 1994h37v6h-37zM1764 1993h36v6h-36z"/></g>
<g filter="url(#sb2)">
<path fill="#26bede" d="M1771 2031h14v2h-14zM1439 1840h58v2h-58zM1447 1842h86v2h-86zM1113 2184h8v2h-8zM1587 1866h63v2h-63zM1051 2015h23v2h-23zM1260 1859h18v2h-18zM1717 1805h8v2h-8zM1106 1913h69v2h-69zM1733 1820h65v2h-65zM1027 1807h79v2h-79zM1660 2013h23v2h-23zM1592 1979h30v2h-30zM1294 1822h31v2h-31zM1442 1980h57v2h-57zM1403 2004h19v2h-19zM1467 2189h13v2h-13zM1718 1937h92v2h-92zM1804 1856h12v2h-12zM1333 1823h13v2h-13zM1412 2016h17v2h-17zM1394 2146h86v2h-86zM1335 1880h8v3h-8zM1269 1870h88v2h-88zM1258 2191h21v2h-21zM1569 2145h8v2h-8zM1095 1946h8v2h-8zM1295 1937h35v3h-35zM1053 1999h49v2h-49zM1179 2133h31v3h-31zM1581 1983h63v2h-63zM1159 2009h45v2h-45zM1547 1984h31v2h-31zM1422 2184h9v2h-9zM1733 2231h81v2h-81zM1502 2016h58v2h-58zM1455 2206h64v3h-64zM1569 2173h40v2h-40zM1748 2145h22v2h-22zM1290 2016h92v2h-92zM1526 2023h47v2h-47zM1082 2068h20v2h-20zM1660 2177h31v2h-31zM1649 2002h8v2h-8zM1494 1971h11v2h-11zM1104 1838h40v2h-40zM1554 1904h24v2h-24zM1617 1890h72v2h-72zM1682 2023h83v2h-83zM1690 2006h26v2h-26zM1332 2133h9v2h-9zM1394 2201h11v2h-11zM1525 1962h97v2h-97zM1575 1948h66v2h-66zM1140 1943h51v2h-51zM1443 1846h19v2h-19zM1461 2176h8v2h-8zM1511 1999h53v2h-53zM1095 1803h79v2h-79zM1096 2132h8v2h-8zM1617 1808h20v2h-20zM1482 1830h8v2h-8zM1767 2007h91v2h-91zM1696 2195h8v2h-8zM1240 2032h10v2h-10zM1675 2155h70v3h-70zM1153 1998h24v3h-24zM1114 2013h41v3h-41zM1158 2013h31v3h-31zM1255 1998h28v4h-28zM1193 2000h42v3h-42zM1255 1994h22v3h-22zM1199 2001h28v3h-28zM1237 2019h19v3h-19zM1238 2018h19v3h-19zM1250 2016h26v3h-26zM1259 2004h34v3h-34zM1210 2015h24v3h-24zM1237 2016h38v3h-38zM1219 1992h17v3h-17zM1339 2007h41v3h-41zM1342 2002h28v4h-28zM1328 2011h40v3h-40zM1396 2014h19v3h-19zM1407 2009h38v3h-38zM1425 2003h18v3h-18zM1375 2000h25v3h-25zM1390 2013h15v3h-15zM1417 2009h29v3h-29zM1502 2006h20v3h-20zM1488 1993h24v3h-24zM1502 2001h38v3h-38zM1484 1993h19v3h-19zM1476 1999h21v3h-21zM1583 2001h20v3h-20zM1603 2009h17v3h-17zM1669 1986h24v3h-24zM1695 1999h41v3h-41zM1686 2000h42v3h-42zM1695 1991h38v3h-38zM1669 2005h35v3h-35zM1692 1990h40v3h-40zM1657 1989h26v3h-26zM1741 1998h39v3h-39zM1752 1995h32v3h-32zM1750 1996h32v3h-32zM1768 1995h28v3h-28z"/>
<path fill="#3a80f6" d="M1089 2127h45v2h-45zM1767 2204h27v2h-27zM1178 1842h52v3h-52zM1018 1982h50v2h-50zM1168 2054h45v2h-45zM1044 2144h16v2h-16zM1563 2031h20v2h-20zM1742 1979h18v2h-18zM1401 1816h12v2h-12zM1611 2011h43v2h-43zM1382 2028h22v2h-22zM1059 1943h15v2h-15zM1033 1992h51v2h-51zM1276 2138h14v3h-14zM1313 2182h32v2h-32zM1230 1851h31v2h-31zM1117 1801h79v2h-79zM1111 2132h8v2h-8zM1427 2189h31v2h-31zM1760 2197h28v2h-28zM1621 2028h9v3h-9zM1105 1999h31v2h-31zM1036 1882h77v2h-77zM1582 2204h28v2h-28zM1191 1856h8v2h-8zM1700 1865h20v2h-20zM1424 2033h56v2h-56zM1221 2124h15v2h-15zM1167 1835h80v2h-80zM1422 1847h71v2h-71zM1235 1818h24v3h-24zM1442 2180h56v3h-56zM1410 1813h89v2h-89zM1408 2197h16v2h-16zM1668 1920h15v2h-15zM1429 2014h18v2h-18zM1746 2033h11v2h-11zM1585 1993h22v2h-22zM1517 1829h51v2h-51zM1478 2000h18v3h-18zM1146 1825h33v2h-33zM1043 1830h22v2h-22zM1260 1846h12v2h-12zM1379 2034h45v2h-45zM1701 2037h14v2h-14zM1159 1909h75v2h-75zM1433 2180h20v2h-20zM1770 1974h37v2h-37zM1093 1851h70v3h-70zM1456 2208h86v2h-86zM1432 1802h9v2h-9zM1424 2090h9v2h-9zM1163 1827h24v2h-24zM1440 2004h78v2h-78zM1739 1979h98v2h-98zM1392 2203h10v2h-10zM1061 2190h97v2h-97zM1573 1981h49v3h-49zM1568 2013h15v2h-15zM1418 1878h8v2h-8zM1049 2184h63v2h-63zM1330 1805h12v2h-12zM1255 1800h8v2h-8zM1294 2032h31v2h-31zM1090 1816h58v2h-58zM1333 1894h46v2h-46zM1023 1829h61v2h-61zM1503 2010h29v2h-29zM1763 1857h72v2h-72zM1053 2174h13v2h-13zM1496 1821h23v2h-23zM1473 1993h8v2h-8zM1533 1885h89v2h-89zM1499 2054h17v2h-17zM1161 1817h13v2h-13zM1226 2030h8v2h-8zM1436 1824h82v2h-82zM1412 2018h52v2h-52zM1279 2022h72v2h-72zM1345 2030h15v2h-15zM1161 2174h8v2h-8zM1027 2029h89v2h-89zM1541 1849h74v2h-74zM1481 1998h19v2h-19zM1241 2200h19v2h-19zM1707 1896h17v2h-17zM1352 2146h20v2h-20zM1143 1997h94v2h-94zM1369 1975h44v2h-44zM1423 1820h56v2h-56zM1724 2202h49v2h-49zM1134 2041h22v2h-22zM1055 1839h31v2h-31zM1664 1930h91v3h-91zM1385 1851h35v2h-35zM1731 2000h18v2h-18zM1293 2186h44v2h-44zM1087 1997h18v2h-18zM1321 2022h18v2h-18zM1645 2028h67v2h-67zM1680 2018h82v2h-82zM1313 1824h70v2h-70zM1279 2017h9v2h-9zM1367 1805h34v2h-34zM1266 2039h65v2h-65zM1643 1838h9v2h-9zM1078 2030h80v2h-80zM1549 2192h65v2h-65zM1116 2033h46v2h-46zM1389 1843h65v3h-65zM1746 1838h20v2h-20zM1444 1990h47v2h-47zM1091 1823h86v2h-86zM1258 2033h8v2h-8zM1262 1985h79v2h-79zM1595 1833h80v2h-80zM1064 1943h82v2h-82zM1708 2043h93v2h-93zM1770 1912h10v2h-10zM1522 1990h9v2h-9zM1240 1865h11v2h-11zM1760 1943h71v2h-71zM1412 1996h13v2h-13zM1631 2013h24v2h-24zM1550 1843h49v2h-49zM1162 2007h14v2h-14zM1387 2160h50v2h-50zM1055 1985h10v2h-10zM1592 2205h30v2h-30zM1704 1999h27v2h-27zM1239 1829h50v2h-50z"/>
<path fill="#8cca56" d="M1615 1839h27v2h-27zM1023 2013h84v2h-84zM1664 2036h8v2h-8zM1703 2194h12v2h-12zM1538 2027h87v2h-87zM1196 2190h8v2h-8zM1576 1805h24v2h-24zM1672 2209h34v2h-34zM1281 2044h20v2h-20zM1226 1998h39v2h-39zM1639 2011h34v2h-34zM1241 1830h23v2h-23zM1532 1832h14v2h-14zM1025 1938h36v3h-36zM1780 1811h18v2h-18zM1772 2021h67v2h-67zM1290 1858h52v2h-52zM1788 2029h18v2h-18zM1646 2156h35v3h-35zM1369 1815h29v2h-29zM1534 2192h60v2h-60zM1560 1995h35v2h-35zM1461 2142h75v2h-75zM1559 2026h36v2h-36zM1766 2205h17v2h-17zM1698 1844h36v3h-36zM1310 2071h64v2h-64zM1755 1843h26v2h-26zM1089 2202h28v2h-28zM1063 1994h14v2h-14zM1715 2204h88v2h-88zM1171 1833h53v2h-53zM1764 2002h31v2h-31zM1589 2046h19v3h-19zM1387 1835h25v2h-25zM1399 1973h8v2h-8zM1631 1829h37v2h-37zM1645 2149h46v2h-46zM1360 1806h42v2h-42zM1599 1817h51v2h-51zM1569 2198h24v2h-24zM1127 2014h80v2h-80zM1785 2008h8v2h-8zM1552 2030h13v2h-13zM1020 1878h54v2h-54zM1549 2029h23v2h-23zM1434 2188h17v2h-17zM1694 1844h73v2h-73zM1431 1971h46v2h-46z"/>
<path fill="#fadc1e" d="M1145 2013h34v3h-34zM1132 2010h35v3h-35zM1150 2012h22v3h-22zM1144 2012h39v4h-39zM1142 2005h26v3h-26zM1130 2012h26v3h-26zM1127 2000h31v3h-31zM1142 2012h19v4h-19zM1146 2014h26v3h-26zM1147 2010h26v4h-26zM1155 2009h14v3h-14zM1209 2008h31v3h-31zM1226 1998h41v5h-41zM1232 2007h26v3h-26zM1231 1997h21v5h-21zM1216 1997h42v3h-42zM1219 1997h28v4h-28zM1216 2005h38v4h-38zM1229 1993h21v3h-21zM1223 1999h36v4h-36zM1224 1997h26v3h-26zM1232 2009h27v3h-27zM1321 1999h41v4h-41zM1337 2006h40v3h-40zM1321 2001h19v3h-19zM1322 2012h27v3h-27zM1342 2002h13v4h-13zM1335 2008h37v4h-37zM1323 2010h31v4h-31zM1302 2004h31v4h-31zM1306 1999h31v3h-31zM1324 2006h38v3h-38zM1307 2005h27v4h-27zM1394 1999h27v5h-27zM1393 2002h23v4h-23zM1380 2000h39v4h-39zM1404 1995h15v4h-15zM1382 2008h30v4h-30zM1404 2003h14v5h-14zM1410 2004h21v4h-21zM1390 1997h41v5h-41zM1479 2002h30v4h-30zM1491 1996h35v4h-35zM1491 2002h18v3h-18zM1554 2005h41v4h-41zM1573 2002h26v4h-26zM1585 2008h16v4h-16zM1575 2012h33v3h-33zM1588 2006h17v5h-17zM1562 2011h41v4h-41zM1670 1997h25v3h-25zM1689 1991h30v4h-30zM1686 2001h20v4h-20zM1695 1999h23v3h-23zM1659 1990h37v4h-37zM1776 1999h13v4h-13zM1758 2007h36v3h-36zM1762 1996h29v3h-29z"/>
<path fill="#fade23" d="M1250 1844h12v2h-12zM1470 2202h56v2h-56zM1057 2170h40v2h-40zM1462 1949h47v2h-47zM1050 2137h10v2h-10zM1613 1918h43v2h-43zM1546 1833h45v2h-45zM1520 1975h87v2h-87zM1189 2006h66v2h-66zM1246 1816h21v2h-21zM1060 2178h18v2h-18zM1373 1813h58v2h-58zM1459 1828h38v2h-38zM1026 1932h59v2h-59zM1468 2042h9v2h-9zM1034 2173h59v3h-59zM1440 1928h11v2h-11zM1514 2177h61v2h-61zM1123 1979h69v3h-69zM1676 1868h21v2h-21zM1751 2026h9v2h-9zM1406 1885h91v2h-91zM1458 2039h48v3h-48zM1616 2013h25v2h-25zM1639 2196h11v2h-11zM1295 1884h91v2h-91zM1192 2021h38v2h-38zM1407 2173h8v2h-8zM1609 1821h15v2h-15zM1698 1810h16v2h-16zM1552 2104h19v2h-19zM1494 1975h18v2h-18zM1234 1828h22v2h-22zM1116 2143h15v2h-15zM1692 1900h35v2h-35zM1604 2040h14v2h-14zM1212 1989h56v2h-56zM1317 2054h49v2h-49zM1564 1816h36v2h-36zM1128 2175h45v2h-45zM1621 1828h66v3h-66zM1574 1957h95v2h-95zM1531 2166h78v2h-78zM1664 2175h27v2h-27zM1288 1852h64v2h-64zM1260 1844h65v2h-65zM1359 2197h77v2h-77zM1352 1889h89v2h-89zM1669 2138h59v2h-59zM1136 2172h25v2h-25zM1713 2078h11v2h-11zM1127 2191h85v2h-85zM1124 2039h70v2h-70zM1711 2162h13v2h-13zM1267 1879h55v2h-55zM1440 1963h43v2h-43zM1169 2193h8v2h-8zM1728 1915h69v2h-69zM1709 2134h15v2h-15zM1319 2209h62v2h-62zM1063 1803h12v2h-12zM1519 1840h15v2h-15zM1645 1835h81v3h-81zM1248 2187h62v2h-62zM1287 2204h68v2h-68zM1352 1989h55v2h-55zM1453 2159h60v3h-60zM1286 1840h12v2h-12zM1353 1815h50v2h-50zM1559 2203h27v2h-27zM1638 1805h12v3h-12zM1265 2016h10v2h-10zM1328 1913h11v2h-11zM1208 1929h8v2h-8zM1117 2182h9v2h-9zM1225 2209h14v2h-14zM1231 1970h52v2h-52zM1423 2121h21v2h-21zM1315 1866h52v2h-52zM1316 2041h64v2h-64zM1368 2127h36v2h-36zM1293 2119h11v2h-11zM1443 1987h9v2h-9zM1093 1838h29v2h-29zM1222 2013h26v2h-26zM1346 1987h28v2h-28zM1426 1834h97v2h-97zM1193 1844h16v2h-16zM1590 2147h44v2h-44zM1522 2010h87v2h-87zM1209 1862h34v2h-34zM1458 1800h10v2h-10zM1730 2136h23v2h-23zM1073 1851h8v2h-8z"/>
</g></g>
<line x1="1063" y1="1800" x2="1793" y2="2346.5" stroke="#6a78ff" stroke-opacity="0.28" stroke-width="1.2"/>
<path d="M1249 2346.5v-9M1249 1800v9M1435 2346.5v-9M1435 1800v9M1621 2346.5v-9M1621 1800v9" stroke="#1a1a60" stroke-width="1.5" opacity="0.6"/>
<path d="" stroke="#1a1a60" stroke-width="1.5" opacity="0.6"/>
<rect x="1063" y="1800" width="730" height="546.5" fill="none" stroke="#2a2a40" stroke-width="2.2"/>
<rect x="1077.6" y="1957.6" width="626.6" height="64.4" fill="none" stroke="#ff1010" stroke-width="4.6" stroke-dasharray="18.5 11.5"/>
<line x1="1462.6" y1="1917.7" x2="1427.3" y2="1943.6" stroke="#e01530" stroke-width="2.6"/>
<path d="M1405.5 1959.5L1419.9 1933.5L1434.7 1953.6Z" fill="#ff1010"/>
<text x="1473.5" y="1932" font-size="46" fill="#fff" style="font-family:&quot;DejaVu Serif&quot;,serif;font-style:italic">f</text>
<text x="1497" y="1934.5" font-size="29" fill="#fff">i</text>
<text x="1033.5" y="1819.5" font-size="51.5" text-anchor="middle" fill="#303030">5</text>
<text x="1033.5" y="1931.5" font-size="51.5" text-anchor="middle" fill="#303030">4</text>
<text x="1033.5" y="2039.5" font-size="51.5" text-anchor="middle" fill="#303030">3</text>
<text x="1033.5" y="2151.5" font-size="51.5" text-anchor="middle" fill="#303030">2</text>
<text x="1033.5" y="2257.5" font-size="51.5" text-anchor="middle" fill="#303030">1</text>
<text x="1033.5" y="2365.5" font-size="51.5" text-anchor="middle" fill="#303030">0</text>
<text x="1062.8" y="2411.5" font-size="51.5" text-anchor="middle" fill="#303030">0</text>
<text x="1249" y="2411.5" font-size="51.5" text-anchor="middle" fill="#303030">0.02</text>
<text x="1435" y="2411.5" font-size="51.5" text-anchor="middle" fill="#303030">0.04</text>
<text x="1621" y="2411.5" font-size="51.5" text-anchor="middle" fill="#303030">0.06</text>
<text x="1434" y="2479.5" font-size="55" text-anchor="middle" fill="#303030">Time/s</text>
<text x="998" y="2075.5" font-size="52" text-anchor="middle" fill="#303030" transform="rotate(-90 998 2075.5)">Frequency /KHz</text>
<text x="1362" y="2591" font-size="42" text-anchor="middle" fill="#303030">(f)</text>
</svg>
</body></html>
